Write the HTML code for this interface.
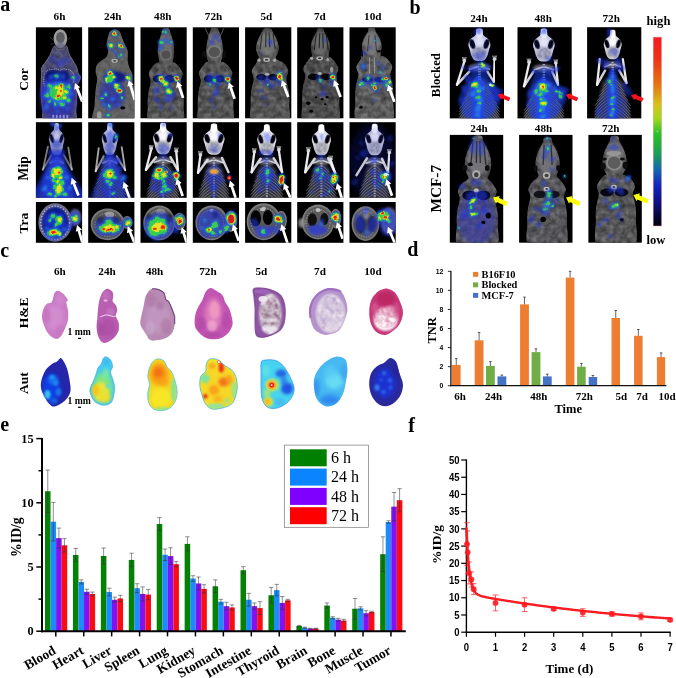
<!DOCTYPE html>
<html lang="en">
<head>
<meta charset="utf-8">
<title>Figure</title>
<style>
html,body{margin:0;padding:0;background:#fff;}
body{width:676px;height:678px;overflow:hidden;}
svg{display:block;}
text{fill:#000;}
</style>
</head>
<body>
<svg width="676" height="678" viewBox="0 0 676 678">
<rect x="0" y="0" width="676" height="678" fill="#ffffff"/>
<defs>
<filter id="b03" x="-30%" y="-30%" width="160%" height="160%"><feGaussianBlur stdDeviation="0.3"/></filter>
<filter id="b05" x="-30%" y="-30%" width="160%" height="160%"><feGaussianBlur stdDeviation="0.5"/></filter>
<filter id="b08" x="-30%" y="-30%" width="160%" height="160%"><feGaussianBlur stdDeviation="0.8"/></filter>
<filter id="b1" x="-30%" y="-30%" width="160%" height="160%"><feGaussianBlur stdDeviation="1.0"/></filter>
<filter id="b15" x="-30%" y="-30%" width="160%" height="160%"><feGaussianBlur stdDeviation="1.5"/></filter>
<filter id="b2" x="-30%" y="-30%" width="160%" height="160%"><feGaussianBlur stdDeviation="2.0"/></filter>
<filter id="b3" x="-30%" y="-30%" width="160%" height="160%"><feGaussianBlur stdDeviation="3.0"/></filter>
<filter id="b4" x="-30%" y="-30%" width="160%" height="160%"><feGaussianBlur stdDeviation="4.0"/></filter>
<filter id="w1" x="-30%" y="-30%" width="160%" height="160%"><feTurbulence type="fractalNoise" baseFrequency="0.11" numOctaves="2" seed="4" result="t"/><feDisplacementMap in="SourceGraphic" in2="t" scale="5" xChannelSelector="R" yChannelSelector="G" result="d"/><feGaussianBlur in="d" stdDeviation="1.0"/></filter>
<filter id="w08" x="-30%" y="-30%" width="160%" height="160%"><feTurbulence type="fractalNoise" baseFrequency="0.11" numOctaves="2" seed="4" result="t"/><feDisplacementMap in="SourceGraphic" in2="t" scale="5" xChannelSelector="R" yChannelSelector="G" result="d"/><feGaussianBlur in="d" stdDeviation="0.8"/></filter>
<filter id="w05" x="-30%" y="-30%" width="160%" height="160%"><feTurbulence type="fractalNoise" baseFrequency="0.11" numOctaves="2" seed="4" result="t"/><feDisplacementMap in="SourceGraphic" in2="t" scale="4.5" xChannelSelector="R" yChannelSelector="G" result="d"/><feGaussianBlur in="d" stdDeviation="0.55"/></filter>
<filter id="w03" x="-30%" y="-30%" width="160%" height="160%"><feTurbulence type="fractalNoise" baseFrequency="0.11" numOctaves="2" seed="4" result="t"/><feDisplacementMap in="SourceGraphic" in2="t" scale="3.5" xChannelSelector="R" yChannelSelector="G" result="d"/><feGaussianBlur in="d" stdDeviation="0.35"/></filter>
<filter id="tex" x="0" y="0" width="100%" height="100%"><feTurbulence type="fractalNoise" baseFrequency="0.22" numOctaves="2" seed="7" result="n"/><feColorMatrix in="n" type="matrix" values="0 0 0 0 0  0 0 0 0 0  0 0 0 0 0  1.6 0 0 0 -0.45" result="a"/><feComposite in="SourceGraphic" in2="a" operator="in"/><feGaussianBlur stdDeviation="0.35"/></filter>
<filter id="tex2" x="0" y="0" width="100%" height="100%"><feTurbulence type="fractalNoise" baseFrequency="0.16" numOctaves="2" seed="23" result="n"/><feColorMatrix in="n" type="matrix" values="0 0 0 0 0  0 0 0 0 0  0 0 0 0 0  0 1.8 0 0 -0.55" result="a"/><feComposite in="SourceGraphic" in2="a" operator="in"/><feGaussianBlur stdDeviation="0.45"/></filter>
<radialGradient id="gR" cx="0.5" cy="0.5" r="0.5"><stop offset="0" stop-color="#d81414" stop-opacity="1"/><stop offset="0.25" stop-color="#ee3010" stop-opacity="1"/><stop offset="0.4" stop-color="#f0b010" stop-opacity="1"/><stop offset="0.52" stop-color="#c8e020" stop-opacity="1"/><stop offset="0.65" stop-color="#30d040" stop-opacity="1"/><stop offset="0.78" stop-color="#20a0c8" stop-opacity="0.9"/><stop offset="0.9" stop-color="#2040e0" stop-opacity="0.6"/><stop offset="1" stop-color="#2030d0" stop-opacity="0"/></radialGradient>
<radialGradient id="gY" cx="0.5" cy="0.5" r="0.5"><stop offset="0" stop-color="#f4d414" stop-opacity="1"/><stop offset="0.28" stop-color="#b0e028" stop-opacity="1"/><stop offset="0.5" stop-color="#30d048" stop-opacity="1"/><stop offset="0.7" stop-color="#2090d0" stop-opacity="0.85"/><stop offset="0.87" stop-color="#2040e0" stop-opacity="0.55"/><stop offset="1" stop-color="#2030d0" stop-opacity="0"/></radialGradient>
<radialGradient id="gG" cx="0.5" cy="0.5" r="0.5"><stop offset="0" stop-color="#58ee40" stop-opacity="1"/><stop offset="0.35" stop-color="#28c080" stop-opacity="0.95"/><stop offset="0.65" stop-color="#2060e0" stop-opacity="0.75"/><stop offset="1" stop-color="#2030d0" stop-opacity="0"/></radialGradient>
<radialGradient id="gC" cx="0.5" cy="0.5" r="0.5"><stop offset="0" stop-color="#48b0f8" stop-opacity="1"/><stop offset="0.5" stop-color="#2858e8" stop-opacity="0.8"/><stop offset="1" stop-color="#2030d0" stop-opacity="0"/></radialGradient>
<radialGradient id="gB" cx="0.5" cy="0.5" r="0.5"><stop offset="0" stop-color="#2840f0" stop-opacity="0.95"/><stop offset="0.55" stop-color="#2030d8" stop-opacity="0.6"/><stop offset="1" stop-color="#2030d0" stop-opacity="0"/></radialGradient>
<radialGradient id="gD" cx="0.5" cy="0.5" r="0.5"><stop offset="0" stop-color="#08147a" stop-opacity="0.95"/><stop offset="0.7" stop-color="#0a1a80" stop-opacity="0.8"/><stop offset="1" stop-color="#0a1a80" stop-opacity="0"/></radialGradient>
<radialGradient id="gW" cx="0.5" cy="0.5" r="0.5"><stop offset="0" stop-color="#ffffff" stop-opacity="0.95"/><stop offset="0.6" stop-color="#d0d8ff" stop-opacity="0.6"/><stop offset="1" stop-color="#a0b0ff" stop-opacity="0"/></radialGradient>
<radialGradient id="gK" cx="0.5" cy="0.5" r="0.5"><stop offset="0" stop-color="#000000" stop-opacity="0.95"/><stop offset="0.7" stop-color="#000000" stop-opacity="0.8"/><stop offset="1" stop-color="#000000" stop-opacity="0"/></radialGradient>
<linearGradient id="cbar" x1="0" y1="0" x2="0" y2="1"><stop offset="0" stop-color="#f21c22"/><stop offset="0.12" stop-color="#ee3418"/><stop offset="0.26" stop-color="#e47a12"/><stop offset="0.36" stop-color="#d4c418"/><stop offset="0.43" stop-color="#a4d81c"/><stop offset="0.51" stop-color="#28c424"/><stop offset="0.62" stop-color="#18a058"/><stop offset="0.70" stop-color="#1468b0"/><stop offset="0.78" stop-color="#1228c0"/><stop offset="0.87" stop-color="#0c1088"/><stop offset="0.95" stop-color="#060638"/><stop offset="1" stop-color="#020210"/></linearGradient>
<clipPath id="cA"><rect x="0" y="0" width="46.2" height="91.0"/></clipPath>
<clipPath id="cM"><rect x="0" y="0" width="46.2" height="75.6"/></clipPath>
<clipPath id="cT"><rect x="0" y="0" width="46.2" height="40.8"/></clipPath>
<clipPath id="cB1"><rect x="0" y="0" width="54.2" height="91.2"/></clipPath>
<clipPath id="cB2"><rect x="0" y="0" width="53.4" height="107.8"/></clipPath>
</defs>
<text x="0.2" y="10.7" font-size="20" text-anchor="start" font-family="Liberation Serif, serif" font-weight="bold" >a</text>
<text x="409.6" y="13.5" font-size="20" text-anchor="start" font-family="Liberation Serif, serif" font-weight="bold" >b</text>
<text x="0.2" y="256.7" font-size="20" text-anchor="start" font-family="Liberation Serif, serif" font-weight="bold" >c</text>
<text x="407.2" y="255.5" font-size="20" text-anchor="start" font-family="Liberation Serif, serif" font-weight="bold" >d</text>
<text x="0.2" y="431.2" font-size="20" text-anchor="start" font-family="Liberation Serif, serif" font-weight="bold" >e</text>
<text x="408.2" y="431.6" font-size="20" text-anchor="start" font-family="Liberation Serif, serif" font-weight="bold" >f</text>
<text x="59.5" y="19.8" font-size="11.2" text-anchor="middle" font-family="Liberation Serif, serif" font-weight="bold" >6h</text>
<text x="112.8" y="19.8" font-size="11.2" text-anchor="middle" font-family="Liberation Serif, serif" font-weight="bold" >24h</text>
<text x="162.8" y="19.8" font-size="11.2" text-anchor="middle" font-family="Liberation Serif, serif" font-weight="bold" >48h</text>
<text x="213.5" y="19.8" font-size="11.2" text-anchor="middle" font-family="Liberation Serif, serif" font-weight="bold" >72h</text>
<text x="266.3" y="19.8" font-size="11.2" text-anchor="middle" font-family="Liberation Serif, serif" font-weight="bold" >5d</text>
<text x="319.8" y="19.8" font-size="11.2" text-anchor="middle" font-family="Liberation Serif, serif" font-weight="bold" >7d</text>
<text x="372.8" y="19.8" font-size="11.2" text-anchor="middle" font-family="Liberation Serif, serif" font-weight="bold" >10d</text>
<text x="28.4" y="79.5" font-size="13.5" text-anchor="middle" font-family="Liberation Serif, serif" font-weight="bold" transform="rotate(-90 28.4 79.5)" >Cor</text>
<text x="28.4" y="168.3" font-size="13.6" text-anchor="middle" font-family="Liberation Serif, serif" font-weight="bold" transform="rotate(-90 28.4 168.3)" >Mip</text>
<text x="28.4" y="223.2" font-size="13.5" text-anchor="middle" font-family="Liberation Serif, serif" font-weight="bold" transform="rotate(-90 28.4 223.2)" >Tra</text>
<rect x="35.9" y="27.3" width="46.2" height="91" fill="#000" />
<g transform="translate(35.9 27.3)" clip-path="url(#cA)">
<path d="M18.20 19.00 C19.45 18.00 20.03 21.50 21.50 22.00 C22.97 22.50 25.45 22.50 27.00 22.00 C28.55 21.50 29.80 18.33 30.80 19.00 C31.80 19.67 32.05 23.75 33.00 26.00 C33.95 28.25 35.23 30.25 36.50 32.50 C37.77 34.75 39.63 37.25 40.60 39.50 C41.57 41.75 41.63 44.25 42.30 46.00 C42.97 47.75 44.57 48.42 44.60 50.00 C44.63 51.58 43.23 53.83 42.50 55.50 C41.77 57.17 40.48 57.58 40.20 60.00 C39.92 62.42 40.83 66.33 40.80 70.00 C40.77 73.67 40.55 77.67 40.00 82.00 C39.45 86.33 42.50 93.67 37.50 96.00 C32.50 98.33 15.12 98.33 10.00 96.00 C4.88 93.67 7.57 86.33 6.80 82.00 C6.03 77.67 5.67 74.00 5.40 70.00 C5.13 66.00 5.17 61.83 5.20 58.00 C5.23 54.17 5.50 49.92 5.60 47.00 C5.70 44.08 5.15 42.50 5.80 40.50 C6.45 38.50 8.13 37.08 9.50 35.00 C10.87 32.92 12.55 30.67 14.00 28.00 C15.45 25.33 16.95 20.00 18.20 19.00Z" fill="#4a4a70" filter="url(#b05)"/>
<path d="M18.20 19.00 C19.45 18.00 20.03 21.50 21.50 22.00 C22.97 22.50 25.45 22.50 27.00 22.00 C28.55 21.50 29.80 18.33 30.80 19.00 C31.80 19.67 32.05 23.75 33.00 26.00 C33.95 28.25 35.23 30.25 36.50 32.50 C37.77 34.75 39.63 37.25 40.60 39.50 C41.57 41.75 41.63 44.25 42.30 46.00 C42.97 47.75 44.57 48.42 44.60 50.00 C44.63 51.58 43.23 53.83 42.50 55.50 C41.77 57.17 40.48 57.58 40.20 60.00 C39.92 62.42 40.83 66.33 40.80 70.00 C40.77 73.67 40.55 77.67 40.00 82.00 C39.45 86.33 42.50 93.67 37.50 96.00 C32.50 98.33 15.12 98.33 10.00 96.00 C4.88 93.67 7.57 86.33 6.80 82.00 C6.03 77.67 5.67 74.00 5.40 70.00 C5.13 66.00 5.17 61.83 5.20 58.00 C5.23 54.17 5.50 49.92 5.60 47.00 C5.70 44.08 5.15 42.50 5.80 40.50 C6.45 38.50 8.13 37.08 9.50 35.00 C10.87 32.92 12.55 30.67 14.00 28.00 C15.45 25.33 16.95 20.00 18.20 19.00Z" fill="#9090b4" filter="url(#tex)" opacity="0.5"/>
<path d="M18.20 19.00 C19.45 18.00 20.03 21.50 21.50 22.00 C22.97 22.50 25.45 22.50 27.00 22.00 C28.55 21.50 29.80 18.33 30.80 19.00 C31.80 19.67 32.05 23.75 33.00 26.00 C33.95 28.25 35.23 30.25 36.50 32.50 C37.77 34.75 39.63 37.25 40.60 39.50 C41.57 41.75 41.63 44.25 42.30 46.00 C42.97 47.75 44.57 48.42 44.60 50.00 C44.63 51.58 43.23 53.83 42.50 55.50 C41.77 57.17 40.48 57.58 40.20 60.00 C39.92 62.42 40.83 66.33 40.80 70.00 C40.77 73.67 40.55 77.67 40.00 82.00 C39.45 86.33 42.50 93.67 37.50 96.00 C32.50 98.33 15.12 98.33 10.00 96.00 C4.88 93.67 7.57 86.33 6.80 82.00 C6.03 77.67 5.67 74.00 5.40 70.00 C5.13 66.00 5.17 61.83 5.20 58.00 C5.23 54.17 5.50 49.92 5.60 47.00 C5.70 44.08 5.15 42.50 5.80 40.50 C6.45 38.50 8.13 37.08 9.50 35.00 C10.87 32.92 12.55 30.67 14.00 28.00 C15.45 25.33 16.95 20.00 18.20 19.00Z" fill="#1c1c40" filter="url(#tex2)" opacity="0.45"/>
<path d="M18.20 19.00 C19.45 18.00 20.03 21.50 21.50 22.00 C22.97 22.50 25.45 22.50 27.00 22.00 C28.55 21.50 29.80 18.33 30.80 19.00 C31.80 19.67 32.05 23.75 33.00 26.00 C33.95 28.25 35.23 30.25 36.50 32.50 C37.77 34.75 39.63 37.25 40.60 39.50 C41.57 41.75 41.63 44.25 42.30 46.00 C42.97 47.75 44.57 48.42 44.60 50.00 C44.63 51.58 43.23 53.83 42.50 55.50 C41.77 57.17 40.48 57.58 40.20 60.00 C39.92 62.42 40.83 66.33 40.80 70.00 C40.77 73.67 40.55 77.67 40.00 82.00 C39.45 86.33 42.50 93.67 37.50 96.00 C32.50 98.33 15.12 98.33 10.00 96.00 C4.88 93.67 7.57 86.33 6.80 82.00 C6.03 77.67 5.67 74.00 5.40 70.00 C5.13 66.00 5.17 61.83 5.20 58.00 C5.23 54.17 5.50 49.92 5.60 47.00 C5.70 44.08 5.15 42.50 5.80 40.50 C6.45 38.50 8.13 37.08 9.50 35.00 C10.87 32.92 12.55 30.67 14.00 28.00 C15.45 25.33 16.95 20.00 18.20 19.00Z" fill="none" stroke="#7c7c8c" stroke-width="1.0" filter="url(#b05)" opacity="0.8"/>
<ellipse cx="24.5" cy="11.2" rx="6.8" ry="9.2" fill="#9c9c9e" filter="url(#b05)"/>
<ellipse cx="24.5" cy="10.4" rx="4.3" ry="5.8" fill="#5c5c64" filter="url(#b05)"/>
<ellipse cx="24.5" cy="18.6" rx="5" ry="3.2" fill="#70708c" filter="url(#b08)"/>
<path d="M14 10 Q17 12 18.5 14 M14.5 17 Q17 16 18.5 16.5 M35 10 Q32 12 30.5 14" fill="none" stroke="#6a6a72" stroke-width="0.5" opacity="0.8"/>
<ellipse cx="22.5" cy="70" rx="18" ry="26" fill="#3030a8" filter="url(#b2)" opacity="0.78"/>
<path d="M8.5 47 Q11 41.5 17 42.3 Q21 40.5 24 43.5 Q27 40.5 31 42.3 Q36 42.5 38 47.5 M8.5 47 Q7 54 9 60 M38 47.5 Q39 52 37 56" fill="none" stroke="#dcdcf0" stroke-width="0.9" stroke-dasharray="1.2 1" opacity="0.85"/>
<path d="M9.50 46.00 C10.58 44.50 14.08 43.42 16.00 43.00 C17.92 42.58 19.67 43.17 21.00 43.50 C22.33 43.83 23.00 45.00 24.00 45.00 C25.00 45.00 25.67 43.58 27.00 43.50 C28.33 43.42 31.00 43.42 32.00 44.50 C33.00 45.58 33.33 48.33 33.00 50.00 C32.67 51.67 31.83 53.92 30.00 54.50 C28.17 55.08 24.67 53.42 22.00 53.50 C19.33 53.58 16.08 55.25 14.00 55.00 C11.92 54.75 10.25 53.50 9.50 52.00 C8.75 50.50 8.42 47.50 9.50 46.00Z" fill="#08126e" filter="url(#b08)"/>
<rect x="16.5" y="87.5" width="1.8" height="4" fill="#a0a0e8" opacity="0.85"/>
<rect x="20" y="87.5" width="1.8" height="4" fill="#a0a0e8" opacity="0.85"/>
<rect x="23.5" y="87.5" width="1.8" height="4" fill="#a0a0e8" opacity="0.85"/>
<rect x="27" y="87.5" width="1.8" height="4" fill="#a0a0e8" opacity="0.85"/>
<rect x="30.5" y="87.5" width="1.8" height="4" fill="#a0a0e8" opacity="0.85"/>
<g fill="#2238e0" opacity="0.56" filter="url(#w1)"><ellipse cx="25.2" cy="35.6" rx="5.04" ry="3.92" opacity="0.8"/><ellipse cx="17" cy="32" rx="3.36" ry="3.36" opacity="0.6"/><ellipse cx="31" cy="33" rx="3.36" ry="3.36" opacity="0.6"/><ellipse cx="20.5" cy="49.5" rx="4.59" ry="3.24" opacity="0.75"/><ellipse cx="15" cy="50.5" rx="3.58" ry="3.58" opacity="0.6"/><ellipse cx="27" cy="49" rx="3.84" ry="3.84" opacity="0.6"/><ellipse cx="21.5" cy="65" rx="16.2" ry="15.53" opacity="0.9"/><ellipse cx="24.6" cy="63.5" rx="6.9" ry="11.32"/><ellipse cx="25.2" cy="59.3" rx="3.59" ry="3.59"/><ellipse cx="23.2" cy="67.8" rx="3.86" ry="3.86"/><ellipse cx="25" cy="63.6" rx="2.9" ry="2.9" opacity="0.85"/><ellipse cx="19.5" cy="60.5" rx="3.86" ry="3.86"/><ellipse cx="29.5" cy="64.5" rx="3.86" ry="3.86"/><ellipse cx="20.5" cy="70.5" rx="3.59" ry="3.59" opacity="0.9"/><ellipse cx="28" cy="70.5" rx="3.31" ry="3.31" opacity="0.9"/><ellipse cx="11.5" cy="68" rx="4.32" ry="4.32"/><ellipse cx="13.5" cy="59.5" rx="4.05" ry="4.05"/><ellipse cx="32.5" cy="59" rx="4.05" ry="4.05"/><ellipse cx="31.5" cy="73" rx="4.05" ry="4.05"/><ellipse cx="19.5" cy="77.5" rx="4.05" ry="4.05"/><ellipse cx="26" cy="77" rx="3.78" ry="3.78"/><ellipse cx="12.5" cy="75" rx="3.51" ry="3.51" opacity="0.8"/><ellipse cx="10" cy="80" rx="3.84" ry="3.84" opacity="0.7"/><ellipse cx="35" cy="67" rx="3.84" ry="3.84" opacity="0.7"/><ellipse cx="22" cy="84" rx="3.84" ry="3.84" opacity="0.6"/><ellipse cx="31" cy="82" rx="3.33" ry="3.33" opacity="0.6"/><ellipse cx="40.6" cy="50.5" rx="4.48" ry="5.15"/><ellipse cx="38.2" cy="50.3" rx="3.24" ry="3.24"/></g>
<g fill="#2890e4" opacity="0.72" filter="url(#w08)"><ellipse cx="20.5" cy="49.5" rx="3.26" ry="2.3" opacity="0.75"/><ellipse cx="15" cy="50.5" rx="1.96" ry="1.96" opacity="0.6"/><ellipse cx="27" cy="49" rx="2.1" ry="2.1" opacity="0.6"/><ellipse cx="21.5" cy="65" rx="11.52" ry="11.04" opacity="0.9"/><ellipse cx="24.6" cy="63.5" rx="5.3" ry="8.69"/><ellipse cx="25.2" cy="59.3" rx="2.81" ry="2.81"/><ellipse cx="23.2" cy="67.8" rx="3.02" ry="3.02"/><ellipse cx="25" cy="63.6" rx="2.27" ry="2.27" opacity="0.85"/><ellipse cx="19.5" cy="60.5" rx="2.97" ry="2.97"/><ellipse cx="29.5" cy="64.5" rx="2.97" ry="2.97"/><ellipse cx="20.5" cy="70.5" rx="2.76" ry="2.76" opacity="0.9"/><ellipse cx="28" cy="70.5" rx="2.54" ry="2.54" opacity="0.9"/><ellipse cx="11.5" cy="68" rx="3.07" ry="3.07"/><ellipse cx="13.5" cy="59.5" rx="2.88" ry="2.88"/><ellipse cx="32.5" cy="59" rx="2.88" ry="2.88"/><ellipse cx="31.5" cy="73" rx="2.88" ry="2.88"/><ellipse cx="19.5" cy="77.5" rx="2.88" ry="2.88"/><ellipse cx="26" cy="77" rx="2.69" ry="2.69"/><ellipse cx="12.5" cy="75" rx="2.5" ry="2.5" opacity="0.8"/><ellipse cx="10" cy="80" rx="2.1" ry="2.1" opacity="0.7"/><ellipse cx="35" cy="67" rx="2.1" ry="2.1" opacity="0.7"/><ellipse cx="22" cy="84" rx="2.1" ry="2.1" opacity="0.6"/><ellipse cx="31" cy="82" rx="1.82" ry="1.82" opacity="0.6"/><ellipse cx="38.2" cy="50.3" rx="2.3" ry="2.3"/></g>
<g fill="#38d840" opacity="0.9" filter="url(#w05)"><ellipse cx="20.5" cy="49.5" rx="2.24" ry="1.58" opacity="0.75"/><ellipse cx="21.5" cy="65" rx="7.92" ry="7.59" opacity="0.9"/><ellipse cx="24.6" cy="63.5" rx="4.65" ry="7.63"/><ellipse cx="25.2" cy="59.3" rx="2.52" ry="2.52"/><ellipse cx="23.2" cy="67.8" rx="2.72" ry="2.72"/><ellipse cx="25" cy="63.6" rx="2.04" ry="2.04" opacity="0.85"/><ellipse cx="19.5" cy="60.5" rx="2.6" ry="2.6"/><ellipse cx="29.5" cy="64.5" rx="2.6" ry="2.6"/><ellipse cx="20.5" cy="70.5" rx="2.42" ry="2.42" opacity="0.9"/><ellipse cx="28" cy="70.5" rx="2.23" ry="2.23" opacity="0.9"/><ellipse cx="11.5" cy="68" rx="2.11" ry="2.11"/><ellipse cx="13.5" cy="59.5" rx="1.98" ry="1.98"/><ellipse cx="32.5" cy="59" rx="1.98" ry="1.98"/><ellipse cx="31.5" cy="73" rx="1.98" ry="1.98"/><ellipse cx="19.5" cy="77.5" rx="1.98" ry="1.98"/><ellipse cx="26" cy="77" rx="1.85" ry="1.85"/><ellipse cx="12.5" cy="75" rx="1.72" ry="1.72" opacity="0.8"/><ellipse cx="38.2" cy="50.3" rx="1.58" ry="1.58"/></g>
<g fill="#f0e220" opacity="0.95" filter="url(#w05)"><ellipse cx="24.6" cy="63.5" rx="2.8" ry="4.59"/><ellipse cx="25.2" cy="59.3" rx="1.92" ry="1.92"/><ellipse cx="23.2" cy="67.8" rx="2.07" ry="2.07"/><ellipse cx="25" cy="63.6" rx="1.55" ry="1.55" opacity="0.85"/><ellipse cx="19.5" cy="60.5" rx="1.57" ry="1.57"/><ellipse cx="29.5" cy="64.5" rx="1.57" ry="1.57"/><ellipse cx="20.5" cy="70.5" rx="1.46" ry="1.46" opacity="0.9"/><ellipse cx="28" cy="70.5" rx="1.34" ry="1.34" opacity="0.9"/></g>
<g fill="#f08a14" opacity="0.95" filter="url(#w03)"><ellipse cx="25.2" cy="59.3" rx="1.48" ry="1.48"/><ellipse cx="23.2" cy="67.8" rx="1.6" ry="1.6"/><ellipse cx="25" cy="63.6" rx="1.2" ry="1.2" opacity="0.85"/></g>
<g fill="#de1818" opacity="0.95" filter="url(#w03)"><ellipse cx="25.2" cy="59.3" rx="1.09" ry="1.09"/><ellipse cx="23.2" cy="67.8" rx="1.18" ry="1.18"/><ellipse cx="25" cy="63.6" rx="0.88" ry="0.88" opacity="0.85"/></g>
<polygon points="47.56,73.71 42.53,60.77 44.34,60.07 39.09,55.67 38.19,62.46 40.01,61.75 45.04,74.69" fill="#fff"/>
</g>
<rect x="88.2" y="27.3" width="46.2" height="91" fill="#000" />
<g transform="translate(88.2 27.3)" clip-path="url(#cA)">
<path d="M26.50 2.00 C28.08 2.08 30.25 3.00 31.50 4.50 C32.75 6.00 33.17 8.92 34.00 11.00 C34.83 13.08 35.58 14.83 36.50 17.00 C37.42 19.17 39.00 21.33 39.50 24.00 C40.00 26.67 39.25 30.33 39.50 33.00 C39.75 35.67 40.25 37.67 41.00 40.00 C41.75 42.33 43.42 44.33 44.00 47.00 C44.58 49.67 44.08 52.83 44.50 56.00 C44.92 59.17 46.08 59.33 46.50 66.00 C46.92 72.67 53.58 91.00 47.00 96.00 C40.42 101.00 13.75 99.00 7.00 96.00 C0.25 93.00 6.42 83.67 6.50 78.00 C6.58 72.33 7.08 66.33 7.50 62.00 C7.92 57.67 9.00 54.83 9.00 52.00 C9.00 49.17 7.58 47.33 7.50 45.00 C7.42 42.67 7.58 39.92 8.50 38.00 C9.42 36.08 11.42 34.83 13.00 33.50 C14.58 32.17 16.83 31.58 18.00 30.00 C19.17 28.42 19.92 26.17 20.00 24.00 C20.08 21.83 18.50 19.50 18.50 17.00 C18.50 14.50 19.42 11.17 20.00 9.00 C20.58 6.83 20.92 5.17 22.00 4.00 C23.08 2.83 24.92 1.92 26.50 2.00Z" fill="#585858" filter="url(#b05)"/>
<path d="M26.50 2.00 C28.08 2.08 30.25 3.00 31.50 4.50 C32.75 6.00 33.17 8.92 34.00 11.00 C34.83 13.08 35.58 14.83 36.50 17.00 C37.42 19.17 39.00 21.33 39.50 24.00 C40.00 26.67 39.25 30.33 39.50 33.00 C39.75 35.67 40.25 37.67 41.00 40.00 C41.75 42.33 43.42 44.33 44.00 47.00 C44.58 49.67 44.08 52.83 44.50 56.00 C44.92 59.17 46.08 59.33 46.50 66.00 C46.92 72.67 53.58 91.00 47.00 96.00 C40.42 101.00 13.75 99.00 7.00 96.00 C0.25 93.00 6.42 83.67 6.50 78.00 C6.58 72.33 7.08 66.33 7.50 62.00 C7.92 57.67 9.00 54.83 9.00 52.00 C9.00 49.17 7.58 47.33 7.50 45.00 C7.42 42.67 7.58 39.92 8.50 38.00 C9.42 36.08 11.42 34.83 13.00 33.50 C14.58 32.17 16.83 31.58 18.00 30.00 C19.17 28.42 19.92 26.17 20.00 24.00 C20.08 21.83 18.50 19.50 18.50 17.00 C18.50 14.50 19.42 11.17 20.00 9.00 C20.58 6.83 20.92 5.17 22.00 4.00 C23.08 2.83 24.92 1.92 26.50 2.00Z" fill="#909090" filter="url(#tex)" opacity="0.5"/>
<ellipse cx="26.5" cy="33.5" rx="3.2" ry="2" fill="#b0b0b0" filter="url(#b03)"/>
<ellipse cx="26.5" cy="33.5" rx="1.6" ry="0.9" fill="#444" />
<ellipse cx="27" cy="50" rx="11" ry="6" fill="#0c1880" filter="url(#b1)" opacity="0.9"/>
<ellipse cx="24" cy="66" rx="13" ry="15" fill="#2028b0" filter="url(#b2)" opacity="0.6"/>
<ellipse cx="34.5" cy="80.5" rx="2.5" ry="1.6" fill="#050505" filter="url(#b03)"/>
<ellipse cx="11" cy="88" rx="2.2" ry="4" fill="#9a9a9a" filter="url(#b05)"/>
<g fill="#2238e0" opacity="0.56" filter="url(#w1)"><ellipse cx="26.5" cy="6.2" rx="4.42" ry="3.59"/><ellipse cx="24.8" cy="5.5" rx="2.07" ry="2.07"/><ellipse cx="28.6" cy="6.8" rx="1.93" ry="1.93"/><ellipse cx="21.8" cy="18.4" rx="3.45" ry="3.45"/><ellipse cx="33" cy="18.6" rx="3.17" ry="3.17"/><ellipse cx="33" cy="27.3" rx="2.16" ry="2.16"/><ellipse cx="27" cy="24" rx="2.56" ry="2.56"/><ellipse cx="30" cy="29" rx="2.43" ry="2.43" opacity="0.8"/><ellipse cx="22.5" cy="51" rx="6.75" ry="6.08"/><ellipse cx="21.6" cy="46.9" rx="4" ry="4"/><ellipse cx="18.6" cy="52.8" rx="3.17" ry="3.17"/><ellipse cx="25.5" cy="50" rx="3.04" ry="3.04"/><ellipse cx="28.2" cy="59" rx="3.86" ry="3.86"/><ellipse cx="30.6" cy="63.3" rx="4" ry="4"/><ellipse cx="18.4" cy="66.4" rx="3.24" ry="3.24"/><ellipse cx="13.5" cy="71.3" rx="2.7" ry="2.7"/><ellipse cx="21.6" cy="79.4" rx="3.51" ry="3.51"/><ellipse cx="33" cy="70.5" rx="2.97" ry="2.97"/><ellipse cx="25" cy="71" rx="3.07" ry="3.07"/><ellipse cx="15" cy="78" rx="2.56" ry="2.56"/><ellipse cx="20" cy="88" rx="2.97" ry="2.97"/><ellipse cx="30" cy="78" rx="2.56" ry="2.56"/><ellipse cx="40.4" cy="50.2" rx="3.17" ry="4"/></g>
<g fill="#2890e4" opacity="0.72" filter="url(#w08)"><ellipse cx="26.5" cy="6.2" rx="3.46" ry="2.81"/><ellipse cx="24.8" cy="5.5" rx="1.59" ry="1.59"/><ellipse cx="28.6" cy="6.8" rx="1.48" ry="1.48"/><ellipse cx="21.8" cy="18.4" rx="2.65" ry="2.65"/><ellipse cx="33" cy="18.6" rx="2.48" ry="2.48"/><ellipse cx="33" cy="27.3" rx="1.54" ry="1.54"/><ellipse cx="27" cy="24" rx="1.4" ry="1.4"/><ellipse cx="30" cy="29" rx="1.73" ry="1.73" opacity="0.8"/><ellipse cx="22.5" cy="51" rx="4.8" ry="4.32"/><ellipse cx="21.6" cy="46.9" rx="3.13" ry="3.13"/><ellipse cx="18.6" cy="52.8" rx="2.44" ry="2.44"/><ellipse cx="25.5" cy="50" rx="2.33" ry="2.33"/><ellipse cx="28.2" cy="59" rx="2.97" ry="2.97"/><ellipse cx="30.6" cy="63.3" rx="3.13" ry="3.13"/><ellipse cx="18.4" cy="66.4" rx="2.3" ry="2.3"/><ellipse cx="13.5" cy="71.3" rx="1.92" ry="1.92"/><ellipse cx="21.6" cy="79.4" rx="2.5" ry="2.5"/><ellipse cx="33" cy="70.5" rx="2.11" ry="2.11"/><ellipse cx="25" cy="71" rx="1.68" ry="1.68"/><ellipse cx="15" cy="78" rx="1.4" ry="1.4"/><ellipse cx="20" cy="88" rx="2.11" ry="2.11"/><ellipse cx="30" cy="78" rx="1.4" ry="1.4"/><ellipse cx="40.4" cy="50.2" rx="2.44" ry="3.07"/></g>
<g fill="#38d840" opacity="0.9" filter="url(#w05)"><ellipse cx="26.5" cy="6.2" rx="3.1" ry="2.52"/><ellipse cx="24.8" cy="5.5" rx="1.4" ry="1.4"/><ellipse cx="28.6" cy="6.8" rx="1.3" ry="1.3"/><ellipse cx="21.8" cy="18.4" rx="2.33" ry="2.33"/><ellipse cx="33" cy="18.6" rx="2.23" ry="2.23"/><ellipse cx="33" cy="27.3" rx="1.06" ry="1.06"/><ellipse cx="30" cy="29" rx="1.19" ry="1.19" opacity="0.8"/><ellipse cx="22.5" cy="51" rx="3.3" ry="2.97"/><ellipse cx="21.6" cy="46.9" rx="2.81" ry="2.81"/><ellipse cx="18.6" cy="52.8" rx="2.14" ry="2.14"/><ellipse cx="25.5" cy="50" rx="2.05" ry="2.05"/><ellipse cx="28.2" cy="59" rx="2.6" ry="2.6"/><ellipse cx="30.6" cy="63.3" rx="2.81" ry="2.81"/><ellipse cx="18.4" cy="66.4" rx="1.58" ry="1.58"/><ellipse cx="13.5" cy="71.3" rx="1.32" ry="1.32"/><ellipse cx="21.6" cy="79.4" rx="1.72" ry="1.72"/><ellipse cx="33" cy="70.5" rx="1.45" ry="1.45"/><ellipse cx="20" cy="88" rx="1.45" ry="1.45"/><ellipse cx="40.4" cy="50.2" rx="2.14" ry="2.7"/></g>
<g fill="#f0e220" opacity="0.95" filter="url(#w05)"><ellipse cx="26.5" cy="6.2" rx="2.37" ry="1.92"/><ellipse cx="24.8" cy="5.5" rx="0.84" ry="0.84"/><ellipse cx="28.6" cy="6.8" rx="0.78" ry="0.78"/><ellipse cx="21.8" cy="18.4" rx="1.4" ry="1.4"/><ellipse cx="33" cy="18.6" rx="1.7" ry="1.7"/><ellipse cx="21.6" cy="46.9" rx="2.15" ry="2.15"/><ellipse cx="18.6" cy="52.8" rx="1.29" ry="1.29"/><ellipse cx="25.5" cy="50" rx="1.23" ry="1.23"/><ellipse cx="28.2" cy="59" rx="1.57" ry="1.57"/><ellipse cx="30.6" cy="63.3" rx="2.15" ry="2.15"/><ellipse cx="40.4" cy="50.2" rx="1.29" ry="1.62"/></g>
<g fill="#f08a14" opacity="0.95" filter="url(#w03)"><ellipse cx="26.5" cy="6.2" rx="1.82" ry="1.48"/><ellipse cx="33" cy="18.6" rx="1.31" ry="1.31"/><ellipse cx="21.6" cy="46.9" rx="1.65" ry="1.65"/><ellipse cx="30.6" cy="63.3" rx="1.65" ry="1.65"/></g>
<g fill="#de1818" opacity="0.95" filter="url(#w03)"><ellipse cx="26.5" cy="6.2" rx="1.34" ry="1.09"/><ellipse cx="33" cy="18.6" rx="0.97" ry="0.97"/><ellipse cx="21.6" cy="46.9" rx="1.22" ry="1.22"/><ellipse cx="30.6" cy="63.3" rx="1.22" ry="1.22"/></g>
<polygon points="47.89,72.11 43.61,57.96 45.47,57.39 40.58,52.61 39.16,59.31 41.02,58.74 45.31,72.89" fill="#fff"/>
</g>
<rect x="140.5" y="27.3" width="46.2" height="91" fill="#000" />
<g transform="translate(140.5 27.3)" clip-path="url(#cA)">
<path d="M23.20 1.00 C24.34 0.24 26.66 0.24 27.80 1.00 C28.93 1.76 29.22 3.11 30.01 5.55 C30.80 7.99 31.94 12.59 32.55 15.62 C33.17 18.66 33.65 21.31 33.70 23.75 C33.75 26.19 33.16 28.38 32.88 30.25 C32.60 32.12 31.90 34.21 32.00 35.00 C32.10 35.79 32.57 34.42 33.50 35.00 C34.43 35.58 36.17 36.67 37.60 38.50 C39.03 40.33 41.68 43.42 42.10 46.00 C42.52 48.58 40.02 50.67 40.10 54.00 C40.18 57.33 42.10 61.67 42.60 66.00 C43.10 70.33 43.43 75.00 43.10 80.00 C42.77 85.00 46.15 93.33 40.60 96.00 C35.05 98.67 15.35 98.67 9.80 96.00 C4.25 93.33 7.63 85.00 7.30 80.00 C6.97 75.00 7.30 70.33 7.80 66.00 C8.30 61.67 10.22 57.33 10.30 54.00 C10.38 50.67 7.88 48.58 8.30 46.00 C8.72 43.42 11.27 40.33 12.80 38.50 C14.33 36.67 16.47 35.58 17.50 35.00 C18.53 34.42 18.90 35.79 19.00 35.00 C19.10 34.21 18.40 32.12 18.12 30.25 C17.84 28.38 17.25 26.19 17.30 23.75 C17.35 21.31 17.83 18.66 18.45 15.62 C19.06 12.59 20.20 7.99 20.99 5.55 C21.78 3.11 22.07 1.76 23.20 1.00Z" fill="#565656" filter="url(#b05)"/>
<path d="M23.20 1.00 C24.34 0.24 26.66 0.24 27.80 1.00 C28.93 1.76 29.22 3.11 30.01 5.55 C30.80 7.99 31.94 12.59 32.55 15.62 C33.17 18.66 33.65 21.31 33.70 23.75 C33.75 26.19 33.16 28.38 32.88 30.25 C32.60 32.12 31.90 34.21 32.00 35.00 C32.10 35.79 32.57 34.42 33.50 35.00 C34.43 35.58 36.17 36.67 37.60 38.50 C39.03 40.33 41.68 43.42 42.10 46.00 C42.52 48.58 40.02 50.67 40.10 54.00 C40.18 57.33 42.10 61.67 42.60 66.00 C43.10 70.33 43.43 75.00 43.10 80.00 C42.77 85.00 46.15 93.33 40.60 96.00 C35.05 98.67 15.35 98.67 9.80 96.00 C4.25 93.33 7.63 85.00 7.30 80.00 C6.97 75.00 7.30 70.33 7.80 66.00 C8.30 61.67 10.22 57.33 10.30 54.00 C10.38 50.67 7.88 48.58 8.30 46.00 C8.72 43.42 11.27 40.33 12.80 38.50 C14.33 36.67 16.47 35.58 17.50 35.00 C18.53 34.42 18.90 35.79 19.00 35.00 C19.10 34.21 18.40 32.12 18.12 30.25 C17.84 28.38 17.25 26.19 17.30 23.75 C17.35 21.31 17.83 18.66 18.45 15.62 C19.06 12.59 20.20 7.99 20.99 5.55 C21.78 3.11 22.07 1.76 23.20 1.00Z" fill="#9a9a9a" filter="url(#tex)" opacity="0.6"/>
<path d="M23.20 1.00 C24.34 0.24 26.66 0.24 27.80 1.00 C28.93 1.76 29.22 3.11 30.01 5.55 C30.80 7.99 31.94 12.59 32.55 15.62 C33.17 18.66 33.65 21.31 33.70 23.75 C33.75 26.19 33.16 28.38 32.88 30.25 C32.60 32.12 31.90 34.21 32.00 35.00 C32.10 35.79 32.57 34.42 33.50 35.00 C34.43 35.58 36.17 36.67 37.60 38.50 C39.03 40.33 41.68 43.42 42.10 46.00 C42.52 48.58 40.02 50.67 40.10 54.00 C40.18 57.33 42.10 61.67 42.60 66.00 C43.10 70.33 43.43 75.00 43.10 80.00 C42.77 85.00 46.15 93.33 40.60 96.00 C35.05 98.67 15.35 98.67 9.80 96.00 C4.25 93.33 7.63 85.00 7.30 80.00 C6.97 75.00 7.30 70.33 7.80 66.00 C8.30 61.67 10.22 57.33 10.30 54.00 C10.38 50.67 7.88 48.58 8.30 46.00 C8.72 43.42 11.27 40.33 12.80 38.50 C14.33 36.67 16.47 35.58 17.50 35.00 C18.53 34.42 18.90 35.79 19.00 35.00 C19.10 34.21 18.40 32.12 18.12 30.25 C17.84 28.38 17.25 26.19 17.30 23.75 C17.35 21.31 17.83 18.66 18.45 15.62 C19.06 12.59 20.20 7.99 20.99 5.55 C21.78 3.11 22.07 1.76 23.20 1.00Z" fill="#1c1c1c" filter="url(#tex2)" opacity="0.6"/>
<ellipse cx="25.5" cy="18.88" rx="6.56" ry="13.65" fill="#727272" filter="url(#b1)" opacity="0.8"/>
<ellipse cx="25.5" cy="27.5" rx="6.2" ry="5.8" fill="#6e6e6e" filter="url(#b05)"/>
<ellipse cx="25.5" cy="27.5" rx="4.6" ry="4.2" fill="#505050" filter="url(#b05)"/>
<ellipse cx="17.83" cy="51.5" rx="5.25" ry="3.75" fill="#04082c" filter="url(#b05)" opacity="0.92"/>
<ellipse cx="29.17" cy="51.5" rx="5.25" ry="3.75" fill="#04082c" filter="url(#b05)" opacity="0.92"/>
<g fill="#2238e0" opacity="0.56" filter="url(#w1)"><ellipse cx="20" cy="52" rx="5.04" ry="5.04"/><ellipse cx="28" cy="52" rx="4.48" ry="4.48"/><ellipse cx="24.7" cy="4.6" rx="3.1" ry="3.1"/><ellipse cx="21.5" cy="4.5" rx="2.16" ry="2.16"/><ellipse cx="20.7" cy="15.1" rx="3.24" ry="3.24"/><ellipse cx="31.7" cy="15.3" rx="2.7" ry="2.7"/><ellipse cx="26" cy="13" rx="2.82" ry="2.82"/><ellipse cx="19.5" cy="20.5" rx="2.3" ry="2.3"/><ellipse cx="20.7" cy="51.7" rx="4.14" ry="3.31" opacity="0.95"/><ellipse cx="25.3" cy="57" rx="4" ry="4.83"/><ellipse cx="28" cy="64" rx="4" ry="4.69" transform="rotate(-30 28 64)"/><ellipse cx="23" cy="54" rx="2.76" ry="2.76"/><ellipse cx="15.8" cy="63.1" rx="3.58" ry="3.58"/><ellipse cx="27.2" cy="71.3" rx="3.81" ry="3.81"/><ellipse cx="15.8" cy="72.9" rx="3.58" ry="3.58"/><ellipse cx="33" cy="68" rx="2.91" ry="2.91"/><ellipse cx="21" cy="80" rx="2.8" ry="2.8" opacity="0.7"/><ellipse cx="31" cy="81" rx="2.46" ry="2.46" opacity="0.7"/><ellipse cx="36.6" cy="50.9" rx="4.14" ry="4.83"/></g>
<g fill="#2890e4" opacity="0.72" filter="url(#w08)"><ellipse cx="24.7" cy="4.6" rx="2.21" ry="2.21"/><ellipse cx="21.5" cy="4.5" rx="1.54" ry="1.54"/><ellipse cx="20.7" cy="15.1" rx="2.3" ry="2.3"/><ellipse cx="31.7" cy="15.3" rx="1.92" ry="1.92"/><ellipse cx="26" cy="13" rx="1.54" ry="1.54"/><ellipse cx="19.5" cy="20.5" rx="1.26" ry="1.26"/><ellipse cx="20.7" cy="51.7" rx="3.24" ry="2.59" opacity="0.95"/><ellipse cx="25.3" cy="57" rx="3.07" ry="3.71"/><ellipse cx="28" cy="64" rx="3.07" ry="3.6" transform="rotate(-30 28 64)"/><ellipse cx="23" cy="54" rx="2.12" ry="2.12"/><ellipse cx="36.6" cy="50.9" rx="3.24" ry="3.78"/></g>
<g fill="#38d840" opacity="0.9" filter="url(#w05)"><ellipse cx="24.7" cy="4.6" rx="1.52" ry="1.52"/><ellipse cx="21.5" cy="4.5" rx="1.06" ry="1.06"/><ellipse cx="20.7" cy="15.1" rx="1.58" ry="1.58"/><ellipse cx="31.7" cy="15.3" rx="1.32" ry="1.32"/><ellipse cx="20.7" cy="51.7" rx="2.91" ry="2.33" opacity="0.95"/><ellipse cx="25.3" cy="57" rx="2.7" ry="3.26"/><ellipse cx="28" cy="64" rx="2.7" ry="3.16" transform="rotate(-30 28 64)"/><ellipse cx="23" cy="54" rx="1.86" ry="1.86"/><ellipse cx="36.6" cy="50.9" rx="2.91" ry="3.4"/></g>
<g fill="#f0e220" opacity="0.95" filter="url(#w05)"><ellipse cx="20.7" cy="51.7" rx="2.22" ry="1.78" opacity="0.95"/><ellipse cx="25.3" cy="57" rx="1.62" ry="1.96"/><ellipse cx="28" cy="64" rx="1.62" ry="1.9" transform="rotate(-30 28 64)"/><ellipse cx="23" cy="54" rx="1.12" ry="1.12"/><ellipse cx="36.6" cy="50.9" rx="2.22" ry="2.59"/></g>
<g fill="#f08a14" opacity="0.95" filter="url(#w03)"><ellipse cx="20.7" cy="51.7" rx="1.71" ry="1.37" opacity="0.95"/><ellipse cx="36.6" cy="50.9" rx="1.71" ry="1.99"/></g>
<g fill="#de1818" opacity="0.95" filter="url(#w03)"><ellipse cx="20.7" cy="51.7" rx="1.26" ry="1.01" opacity="0.95"/><ellipse cx="36.6" cy="50.9" rx="1.26" ry="1.47"/></g>
<polygon points="43.88,70.16 40.02,59.06 41.87,58.42 36.78,53.84 35.63,60.59 37.47,59.95 41.32,71.04" fill="#fff"/>
</g>
<rect x="192.8" y="27.3" width="46.2" height="91" fill="#000" />
<g transform="translate(192.8 27.3)" clip-path="url(#cA)">
<path d="M19.39 0.50 C20.58 -0.26 23.02 -0.26 24.21 0.50 C25.40 1.26 25.70 2.61 26.53 5.05 C27.36 7.49 28.55 12.09 29.20 15.12 C29.84 18.16 30.34 20.81 30.40 23.25 C30.46 25.69 29.89 27.88 29.54 29.75 C29.19 31.62 28.26 33.71 28.30 34.50 C28.34 35.29 28.68 33.92 29.80 34.50 C30.92 35.08 33.38 36.17 35.00 38.00 C36.62 39.83 39.08 42.92 39.50 45.50 C39.92 48.08 37.42 50.17 37.50 53.50 C37.58 56.83 39.50 61.17 40.00 65.50 C40.50 69.83 40.83 74.42 40.50 79.50 C40.17 84.58 43.48 93.25 38.00 96.00 C32.52 98.75 13.08 98.75 7.60 96.00 C2.12 93.25 5.43 84.58 5.10 79.50 C4.77 74.42 5.10 69.83 5.60 65.50 C6.10 61.17 8.02 56.83 8.10 53.50 C8.18 50.17 5.68 48.08 6.10 45.50 C6.52 42.92 9.32 39.83 10.60 38.00 C11.88 36.17 13.02 35.08 13.80 34.50 C14.58 33.92 15.26 35.29 15.30 34.50 C15.34 33.71 14.41 31.62 14.06 29.75 C13.71 27.88 13.14 25.69 13.20 23.25 C13.26 20.81 13.76 18.16 14.40 15.12 C15.05 12.09 16.24 7.49 17.07 5.05 C17.90 2.61 18.20 1.26 19.39 0.50Z" fill="#565656" filter="url(#b05)"/>
<path d="M19.39 0.50 C20.58 -0.26 23.02 -0.26 24.21 0.50 C25.40 1.26 25.70 2.61 26.53 5.05 C27.36 7.49 28.55 12.09 29.20 15.12 C29.84 18.16 30.34 20.81 30.40 23.25 C30.46 25.69 29.89 27.88 29.54 29.75 C29.19 31.62 28.26 33.71 28.30 34.50 C28.34 35.29 28.68 33.92 29.80 34.50 C30.92 35.08 33.38 36.17 35.00 38.00 C36.62 39.83 39.08 42.92 39.50 45.50 C39.92 48.08 37.42 50.17 37.50 53.50 C37.58 56.83 39.50 61.17 40.00 65.50 C40.50 69.83 40.83 74.42 40.50 79.50 C40.17 84.58 43.48 93.25 38.00 96.00 C32.52 98.75 13.08 98.75 7.60 96.00 C2.12 93.25 5.43 84.58 5.10 79.50 C4.77 74.42 5.10 69.83 5.60 65.50 C6.10 61.17 8.02 56.83 8.10 53.50 C8.18 50.17 5.68 48.08 6.10 45.50 C6.52 42.92 9.32 39.83 10.60 38.00 C11.88 36.17 13.02 35.08 13.80 34.50 C14.58 33.92 15.26 35.29 15.30 34.50 C15.34 33.71 14.41 31.62 14.06 29.75 C13.71 27.88 13.14 25.69 13.20 23.25 C13.26 20.81 13.76 18.16 14.40 15.12 C15.05 12.09 16.24 7.49 17.07 5.05 C17.90 2.61 18.20 1.26 19.39 0.50Z" fill="#9a9a9a" filter="url(#tex)" opacity="0.6"/>
<path d="M19.39 0.50 C20.58 -0.26 23.02 -0.26 24.21 0.50 C25.40 1.26 25.70 2.61 26.53 5.05 C27.36 7.49 28.55 12.09 29.20 15.12 C29.84 18.16 30.34 20.81 30.40 23.25 C30.46 25.69 29.89 27.88 29.54 29.75 C29.19 31.62 28.26 33.71 28.30 34.50 C28.34 35.29 28.68 33.92 29.80 34.50 C30.92 35.08 33.38 36.17 35.00 38.00 C36.62 39.83 39.08 42.92 39.50 45.50 C39.92 48.08 37.42 50.17 37.50 53.50 C37.58 56.83 39.50 61.17 40.00 65.50 C40.50 69.83 40.83 74.42 40.50 79.50 C40.17 84.58 43.48 93.25 38.00 96.00 C32.52 98.75 13.08 98.75 7.60 96.00 C2.12 93.25 5.43 84.58 5.10 79.50 C4.77 74.42 5.10 69.83 5.60 65.50 C6.10 61.17 8.02 56.83 8.10 53.50 C8.18 50.17 5.68 48.08 6.10 45.50 C6.52 42.92 9.32 39.83 10.60 38.00 C11.88 36.17 13.02 35.08 13.80 34.50 C14.58 33.92 15.26 35.29 15.30 34.50 C15.34 33.71 14.41 31.62 14.06 29.75 C13.71 27.88 13.14 25.69 13.20 23.25 C13.26 20.81 13.76 18.16 14.40 15.12 C15.05 12.09 16.24 7.49 17.07 5.05 C17.90 2.61 18.20 1.26 19.39 0.50Z" fill="#1c1c1c" filter="url(#tex2)" opacity="0.6"/>
<ellipse cx="21.8" cy="18.38" rx="6.88" ry="13.65" fill="#727272" filter="url(#b1)" opacity="0.8"/>
<path d="M12.5 1 L18 13 M31 1 L25.5 13" fill="none" stroke="#9a9a9a" stroke-width="0.7" opacity="0.8"/>
<ellipse cx="21.5" cy="24.5" rx="7.4" ry="6.8" fill="#7a7a7a" filter="url(#b05)"/>
<ellipse cx="21.5" cy="24.8" rx="5.7" ry="5.1" fill="#535353" filter="url(#b05)"/>
<ellipse cx="11.5" cy="27" rx="2" ry="3.2" fill="#111" filter="url(#b03)"/>
<ellipse cx="31.5" cy="27" rx="2" ry="3.2" fill="#111" filter="url(#b03)"/>
<ellipse cx="16.1" cy="51.5" rx="5" ry="3.6" fill="#04082c" filter="url(#b05)" opacity="0.92"/>
<ellipse cx="26.9" cy="51.5" rx="5" ry="3.6" fill="#04082c" filter="url(#b05)" opacity="0.92"/>
<g fill="#2238e0" opacity="0.56" filter="url(#w1)"><ellipse cx="17.5" cy="51.5" rx="4.48" ry="4.48"/><ellipse cx="26" cy="51.5" rx="4.48" ry="4.48"/><ellipse cx="22" cy="9.4" rx="2.8" ry="2.8"/><ellipse cx="18.8" cy="15" rx="2.58" ry="2.58"/><ellipse cx="26.8" cy="12.7" rx="2.24" ry="2.24"/><ellipse cx="22" cy="52.6" rx="2.56" ry="2.56"/><ellipse cx="16.5" cy="56.8" rx="2.7" ry="2.7" opacity="0.8"/><ellipse cx="23.6" cy="64.8" rx="3.14" ry="3.14"/><ellipse cx="18.7" cy="72.9" rx="3.14" ry="3.14"/><ellipse cx="25" cy="58" rx="2.69" ry="2.69"/><ellipse cx="22" cy="80" rx="2.24" ry="2.24" opacity="0.7"/><ellipse cx="35" cy="51.7" rx="4.42" ry="4.42"/></g>
<g fill="#2890e4" opacity="0.72" filter="url(#w08)"><ellipse cx="22" cy="52.6" rx="1.82" ry="1.82"/><ellipse cx="16.5" cy="56.8" rx="1.92" ry="1.92" opacity="0.8"/><ellipse cx="35" cy="51.7" rx="3.46" ry="3.46"/></g>
<g fill="#38d840" opacity="0.9" filter="url(#w05)"><ellipse cx="22" cy="52.6" rx="1.25" ry="1.25"/><ellipse cx="16.5" cy="56.8" rx="1.32" ry="1.32" opacity="0.8"/><ellipse cx="35" cy="51.7" rx="3.1" ry="3.1"/></g>
<g fill="#f0e220" opacity="0.95" filter="url(#w05)"><ellipse cx="35" cy="51.7" rx="2.37" ry="2.37"/></g>
<g fill="#f08a14" opacity="0.95" filter="url(#w03)"><ellipse cx="35" cy="51.7" rx="1.82" ry="1.82"/></g>
<g fill="#de1818" opacity="0.95" filter="url(#w03)"><ellipse cx="35" cy="51.7" rx="1.34" ry="1.34"/></g>
<polygon points="43.07,70.95 39.24,60.05 41.08,59.41 35.97,54.84 34.85,61.6 36.69,60.95 40.53,71.85" fill="#fff"/>
</g>
<rect x="245.1" y="27.3" width="46.2" height="91" fill="#000" />
<g transform="translate(245.1 27.3)" clip-path="url(#cA)">
<path d="M19.11 1.50 C20.59 0.87 24.01 0.87 25.49 1.50 C26.97 2.13 26.90 3.26 28.00 5.28 C29.10 7.30 31.15 11.13 32.10 13.65 C33.05 16.17 33.62 18.38 33.70 20.40 C33.78 22.42 33.04 24.20 32.56 25.80 C32.08 27.40 30.84 28.88 30.80 30.00 C30.76 31.12 31.00 31.50 32.30 32.50 C33.60 33.50 36.80 34.17 38.60 36.00 C40.40 37.83 42.68 40.92 43.10 43.50 C43.52 46.08 41.02 48.17 41.10 51.50 C41.18 54.83 43.10 59.17 43.60 63.50 C44.10 67.83 44.43 72.08 44.10 77.50 C43.77 82.92 47.58 92.92 41.60 96.00 C35.62 99.08 14.18 99.08 8.20 96.00 C2.22 92.92 6.03 82.92 5.70 77.50 C5.37 72.08 5.70 67.83 6.20 63.50 C6.70 59.17 8.62 54.83 8.70 51.50 C8.78 48.17 6.28 46.08 6.70 43.50 C7.12 40.92 10.27 37.83 11.20 36.00 C12.13 34.17 11.87 33.50 12.30 32.50 C12.73 31.50 13.84 31.12 13.80 30.00 C13.76 28.88 12.52 27.40 12.04 25.80 C11.56 24.20 10.82 22.42 10.90 20.40 C10.98 18.38 11.55 16.17 12.50 13.65 C13.45 11.13 15.50 7.30 16.60 5.28 C17.70 3.26 17.63 2.13 19.11 1.50Z" fill="#565656" filter="url(#b05)"/>
<path d="M19.11 1.50 C20.59 0.87 24.01 0.87 25.49 1.50 C26.97 2.13 26.90 3.26 28.00 5.28 C29.10 7.30 31.15 11.13 32.10 13.65 C33.05 16.17 33.62 18.38 33.70 20.40 C33.78 22.42 33.04 24.20 32.56 25.80 C32.08 27.40 30.84 28.88 30.80 30.00 C30.76 31.12 31.00 31.50 32.30 32.50 C33.60 33.50 36.80 34.17 38.60 36.00 C40.40 37.83 42.68 40.92 43.10 43.50 C43.52 46.08 41.02 48.17 41.10 51.50 C41.18 54.83 43.10 59.17 43.60 63.50 C44.10 67.83 44.43 72.08 44.10 77.50 C43.77 82.92 47.58 92.92 41.60 96.00 C35.62 99.08 14.18 99.08 8.20 96.00 C2.22 92.92 6.03 82.92 5.70 77.50 C5.37 72.08 5.70 67.83 6.20 63.50 C6.70 59.17 8.62 54.83 8.70 51.50 C8.78 48.17 6.28 46.08 6.70 43.50 C7.12 40.92 10.27 37.83 11.20 36.00 C12.13 34.17 11.87 33.50 12.30 32.50 C12.73 31.50 13.84 31.12 13.80 30.00 C13.76 28.88 12.52 27.40 12.04 25.80 C11.56 24.20 10.82 22.42 10.90 20.40 C10.98 18.38 11.55 16.17 12.50 13.65 C13.45 11.13 15.50 7.30 16.60 5.28 C17.70 3.26 17.63 2.13 19.11 1.50Z" fill="#9a9a9a" filter="url(#tex)" opacity="0.6"/>
<path d="M19.11 1.50 C20.59 0.87 24.01 0.87 25.49 1.50 C26.97 2.13 26.90 3.26 28.00 5.28 C29.10 7.30 31.15 11.13 32.10 13.65 C33.05 16.17 33.62 18.38 33.70 20.40 C33.78 22.42 33.04 24.20 32.56 25.80 C32.08 27.40 30.84 28.88 30.80 30.00 C30.76 31.12 31.00 31.50 32.30 32.50 C33.60 33.50 36.80 34.17 38.60 36.00 C40.40 37.83 42.68 40.92 43.10 43.50 C43.52 46.08 41.02 48.17 41.10 51.50 C41.18 54.83 43.10 59.17 43.60 63.50 C44.10 67.83 44.43 72.08 44.10 77.50 C43.77 82.92 47.58 92.92 41.60 96.00 C35.62 99.08 14.18 99.08 8.20 96.00 C2.22 92.92 6.03 82.92 5.70 77.50 C5.37 72.08 5.70 67.83 6.20 63.50 C6.70 59.17 8.62 54.83 8.70 51.50 C8.78 48.17 6.28 46.08 6.70 43.50 C7.12 40.92 10.27 37.83 11.20 36.00 C12.13 34.17 11.87 33.50 12.30 32.50 C12.73 31.50 13.84 31.12 13.80 30.00 C13.76 28.88 12.52 27.40 12.04 25.80 C11.56 24.20 10.82 22.42 10.90 20.40 C10.98 18.38 11.55 16.17 12.50 13.65 C13.45 11.13 15.50 7.30 16.60 5.28 C17.70 3.26 17.63 2.13 19.11 1.50Z" fill="#1c1c1c" filter="url(#tex2)" opacity="0.6"/>
<ellipse cx="22.3" cy="16.35" rx="9.12" ry="11.34" fill="#7c7c7c" filter="url(#b1)" opacity="0.8"/>
<path d="M17 6 L15 22 M21 5 L20.5 20 M24 5 L24.5 20 M28 6 L30 22" fill="none" stroke="#1c1c1c" stroke-width="1.1" opacity="0.8" filter="url(#b03)"/>
<ellipse cx="21.5" cy="32.5" rx="3.3" ry="2.2" fill="#b4b4b4" filter="url(#b03)"/>
<ellipse cx="21.5" cy="32.5" rx="1.7" ry="1" fill="#3c3c3c" />
<ellipse cx="14" cy="33" rx="1.5" ry="1.8" fill="#a8a8a8" filter="url(#b03)"/>
<ellipse cx="29.5" cy="33" rx="1.5" ry="1.8" fill="#a8a8a8" filter="url(#b03)"/>
<ellipse cx="16.33" cy="49.8" rx="5.25" ry="3.1" fill="#030303" filter="url(#b05)" opacity="0.92"/>
<ellipse cx="27.67" cy="49.8" rx="5.25" ry="3.1" fill="#030303" filter="url(#b05)" opacity="0.92"/>
<ellipse cx="22" cy="47" rx="2.2" ry="1.5" fill="#b0b0b0" filter="url(#b03)"/>
<g fill="#2238e0" opacity="0.56" filter="url(#w1)"><ellipse cx="15.5" cy="51.3" rx="3.36" ry="3.36"/><ellipse cx="22.5" cy="52" rx="2.8" ry="2.8"/><ellipse cx="29" cy="51" rx="2.8" ry="2.8"/><ellipse cx="24.9" cy="15.1" rx="2.91" ry="3.58"/><ellipse cx="18" cy="25" rx="1.79" ry="1.79" opacity="0.7"/><ellipse cx="22.5" cy="57.4" rx="2.7" ry="2.7"/><ellipse cx="19" cy="56" rx="2.24" ry="2.24"/><ellipse cx="27" cy="59" rx="2.46" ry="2.46"/><ellipse cx="19.2" cy="69.6" rx="3.81" ry="1.79" transform="rotate(-25 19.2 69.6)"/><ellipse cx="15" cy="63.5" rx="2.02" ry="2.02"/><ellipse cx="21" cy="78" rx="2.02" ry="2.02" opacity="0.7"/><ellipse cx="35.5" cy="49" rx="4.55" ry="5.93"/><ellipse cx="35.8" cy="47" rx="2.07" ry="2.07"/><ellipse cx="35.2" cy="51.5" rx="2.07" ry="2.07"/><ellipse cx="33" cy="56" rx="2.46" ry="2.46"/></g>
<g fill="#2890e4" opacity="0.72" filter="url(#w08)"><ellipse cx="22.5" cy="57.4" rx="1.92" ry="1.92"/><ellipse cx="35.5" cy="49" rx="3.56" ry="4.64"/><ellipse cx="35.8" cy="47" rx="1.62" ry="1.62"/><ellipse cx="35.2" cy="51.5" rx="1.62" ry="1.62"/></g>
<g fill="#38d840" opacity="0.9" filter="url(#w05)"><ellipse cx="22.5" cy="57.4" rx="1.32" ry="1.32"/><ellipse cx="35.5" cy="49" rx="3.2" ry="4.17"/><ellipse cx="35.8" cy="47" rx="1.46" ry="1.46"/><ellipse cx="35.2" cy="51.5" rx="1.46" ry="1.46"/></g>
<g fill="#f0e220" opacity="0.95" filter="url(#w05)"><ellipse cx="35.5" cy="49" rx="2.44" ry="3.18"/><ellipse cx="35.8" cy="47" rx="1.11" ry="1.11"/><ellipse cx="35.2" cy="51.5" rx="1.11" ry="1.11"/></g>
<g fill="#f08a14" opacity="0.95" filter="url(#w03)"><ellipse cx="35.5" cy="49" rx="1.88" ry="2.45"/><ellipse cx="35.8" cy="47" rx="0.85" ry="0.85"/><ellipse cx="35.2" cy="51.5" rx="0.85" ry="0.85"/></g>
<g fill="#de1818" opacity="0.95" filter="url(#w03)"><ellipse cx="35.5" cy="49" rx="1.39" ry="1.81"/><ellipse cx="35.8" cy="47" rx="0.63" ry="0.63"/><ellipse cx="35.2" cy="51.5" rx="0.63" ry="0.63"/></g>
<polygon points="44.46,69.32 40.1,57.8 41.93,57.11 36.72,52.66 35.75,59.44 37.58,58.75 41.94,70.28" fill="#fff"/>
</g>
<rect x="297.2" y="27.3" width="46.2" height="91" fill="#000" />
<g transform="translate(297.2 27.3)" clip-path="url(#cA)">
<path d="M20.51 1.50 C21.63 0.88 24.77 0.88 25.89 1.50 C27.01 2.12 26.30 3.22 27.23 5.21 C28.16 7.20 30.53 10.95 31.46 13.43 C32.38 15.90 32.74 18.06 32.80 20.05 C32.86 22.04 32.01 23.78 31.84 25.35 C31.67 26.93 31.56 28.73 31.80 29.50 C32.04 30.27 32.50 29.33 33.30 30.00 C34.10 30.67 35.30 31.67 36.60 33.50 C37.90 35.33 40.68 38.42 41.10 41.00 C41.52 43.58 39.02 45.67 39.10 49.00 C39.18 52.33 41.10 56.67 41.60 61.00 C42.10 65.33 42.43 69.17 42.10 75.00 C41.77 80.83 45.35 92.50 39.60 96.00 C33.85 99.50 13.35 99.50 7.60 96.00 C1.85 92.50 5.43 80.83 5.10 75.00 C4.77 69.17 5.10 65.33 5.60 61.00 C6.10 56.67 8.02 52.33 8.10 49.00 C8.18 45.67 5.68 43.58 6.10 41.00 C6.52 38.42 9.43 35.33 10.60 33.50 C11.77 31.67 12.43 30.67 13.10 30.00 C13.77 29.33 14.36 30.27 14.60 29.50 C14.84 28.73 14.73 26.93 14.56 25.35 C14.39 23.78 13.54 22.04 13.60 20.05 C13.66 18.06 14.02 15.90 14.94 13.43 C15.87 10.95 18.24 7.20 19.17 5.21 C20.10 3.22 19.39 2.12 20.51 1.50Z" fill="#484848" filter="url(#b05)"/>
<path d="M20.51 1.50 C21.63 0.88 24.77 0.88 25.89 1.50 C27.01 2.12 26.30 3.22 27.23 5.21 C28.16 7.20 30.53 10.95 31.46 13.43 C32.38 15.90 32.74 18.06 32.80 20.05 C32.86 22.04 32.01 23.78 31.84 25.35 C31.67 26.93 31.56 28.73 31.80 29.50 C32.04 30.27 32.50 29.33 33.30 30.00 C34.10 30.67 35.30 31.67 36.60 33.50 C37.90 35.33 40.68 38.42 41.10 41.00 C41.52 43.58 39.02 45.67 39.10 49.00 C39.18 52.33 41.10 56.67 41.60 61.00 C42.10 65.33 42.43 69.17 42.10 75.00 C41.77 80.83 45.35 92.50 39.60 96.00 C33.85 99.50 13.35 99.50 7.60 96.00 C1.85 92.50 5.43 80.83 5.10 75.00 C4.77 69.17 5.10 65.33 5.60 61.00 C6.10 56.67 8.02 52.33 8.10 49.00 C8.18 45.67 5.68 43.58 6.10 41.00 C6.52 38.42 9.43 35.33 10.60 33.50 C11.77 31.67 12.43 30.67 13.10 30.00 C13.77 29.33 14.36 30.27 14.60 29.50 C14.84 28.73 14.73 26.93 14.56 25.35 C14.39 23.78 13.54 22.04 13.60 20.05 C13.66 18.06 14.02 15.90 14.94 13.43 C15.87 10.95 18.24 7.20 19.17 5.21 C20.10 3.22 19.39 2.12 20.51 1.50Z" fill="#9a9a9a" filter="url(#tex)" opacity="0.6"/>
<path d="M20.51 1.50 C21.63 0.88 24.77 0.88 25.89 1.50 C27.01 2.12 26.30 3.22 27.23 5.21 C28.16 7.20 30.53 10.95 31.46 13.43 C32.38 15.90 32.74 18.06 32.80 20.05 C32.86 22.04 32.01 23.78 31.84 25.35 C31.67 26.93 31.56 28.73 31.80 29.50 C32.04 30.27 32.50 29.33 33.30 30.00 C34.10 30.67 35.30 31.67 36.60 33.50 C37.90 35.33 40.68 38.42 41.10 41.00 C41.52 43.58 39.02 45.67 39.10 49.00 C39.18 52.33 41.10 56.67 41.60 61.00 C42.10 65.33 42.43 69.17 42.10 75.00 C41.77 80.83 45.35 92.50 39.60 96.00 C33.85 99.50 13.35 99.50 7.60 96.00 C1.85 92.50 5.43 80.83 5.10 75.00 C4.77 69.17 5.10 65.33 5.60 61.00 C6.10 56.67 8.02 52.33 8.10 49.00 C8.18 45.67 5.68 43.58 6.10 41.00 C6.52 38.42 9.43 35.33 10.60 33.50 C11.77 31.67 12.43 30.67 13.10 30.00 C13.77 29.33 14.36 30.27 14.60 29.50 C14.84 28.73 14.73 26.93 14.56 25.35 C14.39 23.78 13.54 22.04 13.60 20.05 C13.66 18.06 14.02 15.90 14.94 13.43 C15.87 10.95 18.24 7.20 19.17 5.21 C20.10 3.22 19.39 2.12 20.51 1.50Z" fill="#1c1c1c" filter="url(#tex2)" opacity="0.6"/>
<ellipse cx="23.2" cy="16.08" rx="7.68" ry="11.13" fill="#707070" filter="url(#b1)" opacity="0.8"/>
<path d="M19 7 L17 23 M22.5 6 L22 21 M25.5 6 L26 21 M29 7 L31 23" fill="none" stroke="#161616" stroke-width="1.1" opacity="0.8" filter="url(#b03)"/>
<ellipse cx="22.5" cy="31" rx="3.3" ry="2.1" fill="#b4b4b4" filter="url(#b03)"/>
<ellipse cx="22.5" cy="31" rx="1.7" ry="1" fill="#3c3c3c" />
<ellipse cx="14.5" cy="31" rx="1.6" ry="1.6" fill="#a8a8a8" filter="url(#b03)"/>
<ellipse cx="30.5" cy="32.5" rx="1.5" ry="1.8" fill="#a0a0a0" filter="url(#b03)"/>
<ellipse cx="16.29" cy="49.5" rx="5.75" ry="3.25" fill="#030303" filter="url(#b05)" opacity="0.92"/>
<ellipse cx="28.71" cy="49.5" rx="5.75" ry="3.25" fill="#030303" filter="url(#b05)" opacity="0.92"/>
<ellipse cx="22.5" cy="46.2" rx="2.2" ry="1.5" fill="#b0b0b0" filter="url(#b03)"/>
<ellipse cx="34.5" cy="42.5" rx="1.6" ry="3" fill="#9a9a9a" filter="url(#b05)"/>
<ellipse cx="11" cy="76" rx="2.2" ry="1.76" fill="#060606" filter="url(#b03)"/>
<ellipse cx="25" cy="72" rx="1.5" ry="1.2" fill="#060606" filter="url(#b03)"/>
<ellipse cx="30" cy="70" rx="1.6" ry="1.28" fill="#060606" filter="url(#b03)"/>
<ellipse cx="14" cy="84" rx="1.8" ry="1.44" fill="#060606" filter="url(#b03)"/>
<ellipse cx="28" cy="77" rx="1.3" ry="1.04" fill="#060606" filter="url(#b03)"/>
<ellipse cx="19" cy="70" rx="1.2" ry="0.96" fill="#060606" filter="url(#b03)"/>
<g fill="#2238e0" opacity="0.56" filter="url(#w1)"><ellipse cx="27.5" cy="12.7" rx="2.46" ry="1.79"/><ellipse cx="23.5" cy="53" rx="2.43" ry="2.43" opacity="0.85"/><ellipse cx="20.5" cy="50.5" rx="2.24" ry="2.24"/><ellipse cx="26" cy="66" rx="2.46" ry="2.46"/><ellipse cx="26.5" cy="60" rx="1.79" ry="1.79" opacity="0.7"/><ellipse cx="36.3" cy="49.4" rx="4.14" ry="4.14"/><ellipse cx="34.5" cy="54.5" rx="2.46" ry="2.46"/><ellipse cx="33" cy="57" rx="1.92" ry="1.92" opacity="0.8"/></g>
<g fill="#2890e4" opacity="0.72" filter="url(#w08)"><ellipse cx="23.5" cy="53" rx="1.73" ry="1.73" opacity="0.85"/><ellipse cx="36.3" cy="49.4" rx="3.24" ry="3.24"/><ellipse cx="33" cy="57" rx="1.05" ry="1.05" opacity="0.8"/></g>
<g fill="#38d840" opacity="0.9" filter="url(#w05)"><ellipse cx="23.5" cy="53" rx="1.19" ry="1.19" opacity="0.85"/><ellipse cx="36.3" cy="49.4" rx="2.91" ry="2.91"/></g>
<g fill="#f0e220" opacity="0.95" filter="url(#w05)"><ellipse cx="36.3" cy="49.4" rx="2.22" ry="2.22"/></g>
<g fill="#f08a14" opacity="0.95" filter="url(#w03)"><ellipse cx="36.3" cy="49.4" rx="1.71" ry="1.71"/></g>
<g fill="#de1818" opacity="0.95" filter="url(#w03)"><ellipse cx="36.3" cy="49.4" rx="1.26" ry="1.26"/></g>
<polygon points="44.66,69.31 40.22,57.78 42.04,57.08 36.8,52.67 35.88,59.45 37.7,58.75 42.14,70.29" fill="#fff"/>
</g>
<rect x="349.5" y="27.3" width="46.2" height="91" fill="#000" />
<g transform="translate(349.5 27.3)" clip-path="url(#cA)">
<path d="M19.56 0.80 C20.67 0.17 23.93 0.17 25.04 0.80 C26.15 1.43 25.27 2.57 26.22 4.61 C27.17 6.65 29.75 10.50 30.73 13.04 C31.71 15.58 32.03 17.80 32.10 19.84 C32.17 21.88 31.25 23.67 31.12 25.28 C30.99 26.89 31.02 28.96 31.30 29.50 C31.58 30.04 31.65 28.08 32.80 28.50 C33.95 28.92 36.55 30.17 38.20 32.00 C39.85 33.83 42.28 36.92 42.70 39.50 C43.12 42.08 40.62 44.17 40.70 47.50 C40.78 50.83 42.70 55.17 43.20 59.50 C43.70 63.83 44.03 67.42 43.70 73.50 C43.37 79.58 47.08 92.25 41.20 96.00 C35.32 99.75 14.28 99.75 8.40 96.00 C2.52 92.25 6.23 79.58 5.90 73.50 C5.57 67.42 5.90 63.83 6.40 59.50 C6.90 55.17 8.82 50.83 8.90 47.50 C8.98 44.17 6.48 42.08 6.90 39.50 C7.32 36.92 10.58 33.83 11.40 32.00 C12.22 30.17 11.48 28.92 11.80 28.50 C12.12 28.08 13.02 30.04 13.30 29.50 C13.58 28.96 13.61 26.89 13.48 25.28 C13.35 23.67 12.43 21.88 12.50 19.84 C12.57 17.80 12.89 15.58 13.87 13.04 C14.85 10.50 17.43 6.65 18.38 4.61 C19.33 2.57 18.45 1.43 19.56 0.80Z" fill="#626262" filter="url(#b05)"/>
<path d="M19.56 0.80 C20.67 0.17 23.93 0.17 25.04 0.80 C26.15 1.43 25.27 2.57 26.22 4.61 C27.17 6.65 29.75 10.50 30.73 13.04 C31.71 15.58 32.03 17.80 32.10 19.84 C32.17 21.88 31.25 23.67 31.12 25.28 C30.99 26.89 31.02 28.96 31.30 29.50 C31.58 30.04 31.65 28.08 32.80 28.50 C33.95 28.92 36.55 30.17 38.20 32.00 C39.85 33.83 42.28 36.92 42.70 39.50 C43.12 42.08 40.62 44.17 40.70 47.50 C40.78 50.83 42.70 55.17 43.20 59.50 C43.70 63.83 44.03 67.42 43.70 73.50 C43.37 79.58 47.08 92.25 41.20 96.00 C35.32 99.75 14.28 99.75 8.40 96.00 C2.52 92.25 6.23 79.58 5.90 73.50 C5.57 67.42 5.90 63.83 6.40 59.50 C6.90 55.17 8.82 50.83 8.90 47.50 C8.98 44.17 6.48 42.08 6.90 39.50 C7.32 36.92 10.58 33.83 11.40 32.00 C12.22 30.17 11.48 28.92 11.80 28.50 C12.12 28.08 13.02 30.04 13.30 29.50 C13.58 28.96 13.61 26.89 13.48 25.28 C13.35 23.67 12.43 21.88 12.50 19.84 C12.57 17.80 12.89 15.58 13.87 13.04 C14.85 10.50 17.43 6.65 18.38 4.61 C19.33 2.57 18.45 1.43 19.56 0.80Z" fill="#9a9a9a" filter="url(#tex)" opacity="0.6"/>
<path d="M19.56 0.80 C20.67 0.17 23.93 0.17 25.04 0.80 C26.15 1.43 25.27 2.57 26.22 4.61 C27.17 6.65 29.75 10.50 30.73 13.04 C31.71 15.58 32.03 17.80 32.10 19.84 C32.17 21.88 31.25 23.67 31.12 25.28 C30.99 26.89 31.02 28.96 31.30 29.50 C31.58 30.04 31.65 28.08 32.80 28.50 C33.95 28.92 36.55 30.17 38.20 32.00 C39.85 33.83 42.28 36.92 42.70 39.50 C43.12 42.08 40.62 44.17 40.70 47.50 C40.78 50.83 42.70 55.17 43.20 59.50 C43.70 63.83 44.03 67.42 43.70 73.50 C43.37 79.58 47.08 92.25 41.20 96.00 C35.32 99.75 14.28 99.75 8.40 96.00 C2.52 92.25 6.23 79.58 5.90 73.50 C5.57 67.42 5.90 63.83 6.40 59.50 C6.90 55.17 8.82 50.83 8.90 47.50 C8.98 44.17 6.48 42.08 6.90 39.50 C7.32 36.92 10.58 33.83 11.40 32.00 C12.22 30.17 11.48 28.92 11.80 28.50 C12.12 28.08 13.02 30.04 13.30 29.50 C13.58 28.96 13.61 26.89 13.48 25.28 C13.35 23.67 12.43 21.88 12.50 19.84 C12.57 17.80 12.89 15.58 13.87 13.04 C14.85 10.50 17.43 6.65 18.38 4.61 C19.33 2.57 18.45 1.43 19.56 0.80Z" fill="#1c1c1c" filter="url(#tex2)" opacity="0.6"/>
<ellipse cx="22.3" cy="15.76" rx="7.84" ry="11.42" fill="#7e7e7e" filter="url(#b1)" opacity="0.8"/>
<path d="M19.5 8 L18 24 M25.5 8 L27 24" fill="none" stroke="#1c1c1c" stroke-width="1.0" opacity="0.7" filter="url(#b03)"/>
<path d="M20 30 L20 46 M25 30 L25 46" fill="none" stroke="#a8a8a8" stroke-width="0.9" opacity="0.8" filter="url(#b03)"/>
<ellipse cx="29.5" cy="24" rx="2.2" ry="1.2" fill="#111" filter="url(#b03)"/>
<ellipse cx="18.06" cy="52.5" rx="5.5" ry="2.5" fill="#080818" filter="url(#b05)" opacity="0.92"/>
<ellipse cx="29.94" cy="52.5" rx="5.5" ry="2.5" fill="#080818" filter="url(#b05)" opacity="0.92"/>
<ellipse cx="11.5" cy="80" rx="1.7" ry="1.5" fill="#060606" filter="url(#b03)"/>
<g fill="#2238e0" opacity="0.56" filter="url(#w1)"><ellipse cx="25.2" cy="13.5" rx="1.89" ry="1.89"/><ellipse cx="14.6" cy="24.9" rx="2.46" ry="2.46"/><ellipse cx="13.8" cy="38.7" rx="3.33" ry="4.1"/><ellipse cx="29" cy="36" rx="2.02" ry="2.02"/><ellipse cx="33" cy="40" rx="2.05" ry="2.05" opacity="0.8"/><ellipse cx="20" cy="20" rx="1.68" ry="1.68" opacity="0.8"/><ellipse cx="24" cy="54" rx="11.2" ry="4.48"/><ellipse cx="12.2" cy="56.8" rx="3.24" ry="3.24"/><ellipse cx="10.5" cy="58.5" rx="1.93" ry="1.93"/><ellipse cx="18.7" cy="51.7" rx="3.24" ry="3.24"/><ellipse cx="25.2" cy="56.6" rx="2.97" ry="2.97"/><ellipse cx="25.2" cy="60.9" rx="3.17" ry="3.17"/><ellipse cx="22" cy="58" rx="2.43" ry="2.43"/><ellipse cx="28" cy="64" rx="2.02" ry="2.02"/><ellipse cx="33.4" cy="51.7" rx="3.24" ry="3.24"/><ellipse cx="36.6" cy="50.9" rx="3.59" ry="2.9"/><ellipse cx="40.7" cy="55" rx="3.17" ry="3.17"/><ellipse cx="37" cy="57.5" rx="2.7" ry="2.7"/><ellipse cx="34" cy="55.5" rx="2.3" ry="2.3"/><ellipse cx="25" cy="72" rx="2.02" ry="2.02" opacity="0.7"/><ellipse cx="31" cy="45" rx="2.43" ry="2.43" opacity="0.7"/></g>
<g fill="#2890e4" opacity="0.72" filter="url(#w08)"><ellipse cx="25.2" cy="13.5" rx="1.34" ry="1.34"/><ellipse cx="13.8" cy="38.7" rx="1.82" ry="2.24"/><ellipse cx="33" cy="40" rx="1.12" ry="1.12" opacity="0.8"/><ellipse cx="12.2" cy="56.8" rx="2.3" ry="2.3"/><ellipse cx="10.5" cy="58.5" rx="1.48" ry="1.48"/><ellipse cx="18.7" cy="51.7" rx="2.3" ry="2.3"/><ellipse cx="25.2" cy="56.6" rx="2.11" ry="2.11"/><ellipse cx="25.2" cy="60.9" rx="2.48" ry="2.48"/><ellipse cx="22" cy="58" rx="1.73" ry="1.73"/><ellipse cx="33.4" cy="51.7" rx="2.3" ry="2.3"/><ellipse cx="36.6" cy="50.9" rx="2.81" ry="2.27"/><ellipse cx="40.7" cy="55" rx="2.44" ry="2.44"/><ellipse cx="37" cy="57.5" rx="1.92" ry="1.92"/><ellipse cx="34" cy="55.5" rx="1.26" ry="1.26"/><ellipse cx="31" cy="45" rx="1.73" ry="1.73" opacity="0.7"/></g>
<g fill="#38d840" opacity="0.9" filter="url(#w05)"><ellipse cx="25.2" cy="13.5" rx="0.92" ry="0.92"/><ellipse cx="12.2" cy="56.8" rx="1.58" ry="1.58"/><ellipse cx="10.5" cy="58.5" rx="1.3" ry="1.3"/><ellipse cx="18.7" cy="51.7" rx="1.58" ry="1.58"/><ellipse cx="25.2" cy="56.6" rx="1.45" ry="1.45"/><ellipse cx="25.2" cy="60.9" rx="2.23" ry="2.23"/><ellipse cx="22" cy="58" rx="1.19" ry="1.19"/><ellipse cx="33.4" cy="51.7" rx="1.58" ry="1.58"/><ellipse cx="36.6" cy="50.9" rx="2.52" ry="2.04"/><ellipse cx="40.7" cy="55" rx="2.14" ry="2.14"/><ellipse cx="37" cy="57.5" rx="1.32" ry="1.32"/><ellipse cx="31" cy="45" rx="1.19" ry="1.19" opacity="0.7"/></g>
<g fill="#f0e220" opacity="0.95" filter="url(#w05)"><ellipse cx="10.5" cy="58.5" rx="0.78" ry="0.78"/><ellipse cx="25.2" cy="60.9" rx="1.7" ry="1.7"/><ellipse cx="36.6" cy="50.9" rx="1.92" ry="1.55"/><ellipse cx="40.7" cy="55" rx="1.29" ry="1.29"/></g>
<g fill="#f08a14" opacity="0.95" filter="url(#w03)"><ellipse cx="25.2" cy="60.9" rx="1.31" ry="1.31"/><ellipse cx="36.6" cy="50.9" rx="1.48" ry="1.2"/></g>
<g fill="#de1818" opacity="0.95" filter="url(#w03)"><ellipse cx="25.2" cy="60.9" rx="0.97" ry="0.97"/><ellipse cx="36.6" cy="50.9" rx="1.09" ry="0.88"/></g>
<polygon points="46.16,74.13 41.79,62.41 43.62,61.72 38.43,57.26 37.43,64.03 39.26,63.35 43.64,75.07" fill="#fff"/>
</g>
<rect x="35.9" y="122.2" width="46.2" height="75.6" fill="#000" />
<g transform="translate(35.9 122.2)" clip-path="url(#cM)">
<path d="M20.8 36 L30.15 42 L39.5 84 L2.1 84 L11.45 42 Z" fill="#5a5a66" filter="url(#b15)" opacity="0.49"/>
<path d="M19.3 40 Q15.7 42.12 12.3 46.8 M22.3 40 Q25.9 42.12 29.3 46.8 M19.3 42.91 Q14.43 45.57 10.18 51.41 M22.3 42.91 Q27.18 45.57 31.43 51.41 M19.3 45.82 Q13.15 49.01 8.05 56.02 M22.3 45.82 Q28.45 49.01 33.55 56.02 M19.3 48.73 Q11.88 52.45 5.93 60.63 M22.3 48.73 Q29.73 52.45 35.67 60.63 M19.3 51.64 Q10.6 55.89 3.8 65.24 M22.3 51.64 Q31 55.89 37.8 65.24 M19.3 54.55 Q10.6 58.8 3.8 68.15 M22.3 54.55 Q31 58.8 37.8 68.15 M19.3 57.45 Q10.6 61.7 3.8 71.05 M22.3 57.45 Q31 61.7 37.8 71.05 M19.3 60.36 Q10.6 64.61 3.8 73.96 M22.3 60.36 Q31 64.61 37.8 73.96 M19.3 63.27 Q10.6 67.52 3.8 76.87 M22.3 63.27 Q31 67.52 37.8 76.87 M19.3 66.18 Q10.6 70.43 3.8 79.78 M22.3 66.18 Q31 70.43 37.8 79.78 M19.3 69.09 Q10.6 73.34 3.8 82.69 M22.3 69.09 Q31 73.34 37.8 82.69 M19.3 72 Q10.6 76.25 3.8 85.6 M22.3 72 Q31 76.25 37.8 85.6" fill="none" stroke="#d0d0da" stroke-width="0.6" opacity="0.51"/>
<path d="M20.80 0.80 C21.51 0.80 22.50 0.70 22.93 1.75 C23.36 2.79 22.73 5.47 23.38 7.10 C24.04 8.73 26.04 9.94 26.88 11.51 C27.72 13.09 28.32 14.77 28.40 16.55 C28.48 18.34 27.72 20.33 27.34 22.22 C26.96 24.11 26.73 26.21 26.12 27.89 C25.51 29.57 25.06 31.56 23.69 32.30 C22.32 33.03 19.28 33.03 17.91 32.30 C16.54 31.56 16.09 29.57 15.48 27.89 C14.87 26.21 14.64 24.11 14.26 22.22 C13.88 20.33 13.12 18.34 13.20 16.55 C13.28 14.77 13.88 13.09 14.72 11.51 C15.56 9.94 17.56 8.73 18.22 7.10 C18.87 5.47 18.24 2.79 18.67 1.75 C19.10 0.70 20.09 0.80 20.80 0.80Z" fill="#dcdce4" filter="url(#b05)" opacity="0.82"/>
<ellipse cx="20.8" cy="25.37" rx="5.17" ry="5.99" fill="#868690" filter="url(#b08)" opacity="0.74"/>
<ellipse cx="20.8" cy="25.37" rx="5.17" ry="5.99" fill="#f0f0f6" filter="url(#tex)" opacity="0.57"/>
<ellipse cx="20.8" cy="5.84" rx="2.28" ry="4.72" fill="#ffffff" filter="url(#b05)" opacity="0.82"/>
<ellipse cx="20.8" cy="14.03" rx="3.19" ry="4.41" fill="#fbfbff" filter="url(#b08)" opacity="0.74"/>
<ellipse cx="15.94" cy="16.23" rx="1.75" ry="4.72" fill="#06060e" transform="rotate(-17 15.94 16.23)" filter="url(#b03)"/>
<ellipse cx="25.66" cy="16.23" rx="1.75" ry="4.72" fill="#06060e" transform="rotate(17 25.66 16.23)" filter="url(#b03)"/>
<path d="M20.8 30.3 L20.8 41.75" fill="none" stroke="#dcdce4" stroke-width="5.47" filter="url(#b05)" opacity="0.75"/>
<ellipse cx="20.8" cy="39.23" rx="7.6" ry="3.78" fill="#8c8c98" filter="url(#b1)" opacity="0.61"/>
<path d="M19.8 38.23 L13.58 41.23 M21.8 38.23 L28.02 41.23" fill="none" stroke="#dcdce4" stroke-width="1.5" filter="url(#b03)" opacity="0.74"/>
<path d="M20.8 35.3 L20.8 83" fill="none" stroke="#b4b4be" stroke-width="4.2" filter="url(#b05)" opacity="0.78"/>
<path d="M20.8 35.3 L20.8 83" fill="none" stroke="#f0f0f6" stroke-width="2.31" stroke-dasharray="1.5 1.0" opacity="0.49"/>
<path d="M15.5 33 L7 47.4" fill="none" stroke="#dcdce4" stroke-width="2" stroke-linecap="round" filter="url(#b03)" opacity="0.51"/>
<path d="M7 47.4 L12 24.5" fill="none" stroke="#f8f8fc" stroke-width="1.8" stroke-linecap="round" filter="url(#b03)" opacity="0.51"/>
<path d="M28 33 L36 47.4" fill="none" stroke="#dcdce4" stroke-width="2" stroke-linecap="round" filter="url(#b03)" opacity="0.51"/>
<path d="M36 47.4 L32.4 25.5" fill="none" stroke="#f8f8fc" stroke-width="1.8" stroke-linecap="round" filter="url(#b03)" opacity="0.51"/>
<ellipse cx="20.8" cy="19.7" rx="7.6" ry="15.75" fill="#2838d8" filter="url(#b15)" opacity="0.22"/>
<path d="M20.80 28.00 C23.13 28.00 26.30 31.33 28.00 34.00 C29.70 36.67 29.00 40.00 31.00 44.00 C33.00 48.00 37.17 52.00 40.00 58.00 C42.83 64.00 55.00 76.33 48.00 80.00 C41.00 83.67 5.33 83.67 -2.00 80.00 C-9.33 76.33 1.83 64.00 4.00 58.00 C6.17 52.00 9.33 48.00 11.00 44.00 C12.67 40.00 12.37 36.67 14.00 34.00 C15.63 31.33 18.47 28.00 20.80 28.00Z" fill="#1a34e0" filter="url(#b15)" opacity="0.72"/>
<ellipse cx="21" cy="62" rx="12" ry="17" fill="#1a40f0" filter="url(#b2)" opacity="0.5"/>
<g fill="#2238e0" opacity="0.56" filter="url(#w1)"><ellipse cx="17" cy="2.6" rx="2.82" ry="2.82"/><ellipse cx="23.6" cy="3.2" rx="2.56" ry="2.56"/><ellipse cx="20.5" cy="6" rx="2.8" ry="2.8"/><ellipse cx="20.5" cy="22" rx="4.48" ry="4.48" opacity="0.8"/><ellipse cx="16" cy="30" rx="3.36" ry="3.36"/><ellipse cx="26" cy="31" rx="3.36" ry="3.36"/><ellipse cx="21" cy="38" rx="4.48" ry="4.48"/><ellipse cx="21.2" cy="50" rx="8.83" ry="7.18"/><ellipse cx="23.3" cy="50.4" rx="3.59" ry="2.76"/><ellipse cx="18.5" cy="47.5" rx="3.31" ry="3.31"/><ellipse cx="17.2" cy="53.5" rx="3.59" ry="3.59"/><ellipse cx="24.5" cy="55.5" rx="3.86" ry="3.86"/><ellipse cx="21.5" cy="59.5" rx="4.69" ry="4.14"/><ellipse cx="23.6" cy="66.5" rx="5.24" ry="8.97"/><ellipse cx="17" cy="58" rx="4.05" ry="4.05"/><ellipse cx="26.5" cy="61" rx="3.78" ry="3.78"/><ellipse cx="19" cy="64" rx="3.51" ry="3.51"/><ellipse cx="13.6" cy="72.2" rx="4.05" ry="4.05"/><ellipse cx="28.5" cy="72" rx="3.51" ry="3.51"/><ellipse cx="20" cy="74" rx="3.51" ry="3.51"/><ellipse cx="33" cy="66" rx="3.84" ry="3.84"/><ellipse cx="9" cy="66" rx="3.84" ry="3.84"/><ellipse cx="30" cy="55" rx="3.33" ry="3.33"/><ellipse cx="12" cy="56" rx="3.07" ry="3.07"/></g>
<g fill="#2890e4" opacity="0.72" filter="url(#w08)"><ellipse cx="17" cy="2.6" rx="1.54" ry="1.54"/><ellipse cx="23.6" cy="3.2" rx="1.4" ry="1.4"/><ellipse cx="21.2" cy="50" rx="6.78" ry="5.51"/><ellipse cx="23.3" cy="50.4" rx="2.81" ry="2.16"/><ellipse cx="18.5" cy="47.5" rx="2.54" ry="2.54"/><ellipse cx="17.2" cy="53.5" rx="2.76" ry="2.76"/><ellipse cx="24.5" cy="55.5" rx="2.97" ry="2.97"/><ellipse cx="21.5" cy="59.5" rx="3.6" ry="3.18"/><ellipse cx="23.6" cy="66.5" rx="4.03" ry="6.89"/><ellipse cx="17" cy="58" rx="2.88" ry="2.88"/><ellipse cx="26.5" cy="61" rx="2.69" ry="2.69"/><ellipse cx="19" cy="64" rx="2.5" ry="2.5"/><ellipse cx="13.6" cy="72.2" rx="2.88" ry="2.88"/><ellipse cx="28.5" cy="72" rx="2.5" ry="2.5"/><ellipse cx="20" cy="74" rx="2.5" ry="2.5"/><ellipse cx="33" cy="66" rx="2.1" ry="2.1"/><ellipse cx="9" cy="66" rx="2.1" ry="2.1"/><ellipse cx="30" cy="55" rx="1.82" ry="1.82"/><ellipse cx="12" cy="56" rx="1.68" ry="1.68"/></g>
<g fill="#38d840" opacity="0.9" filter="url(#w05)"><ellipse cx="21.2" cy="50" rx="5.95" ry="4.84"/><ellipse cx="23.3" cy="50.4" rx="2.52" ry="1.94"/><ellipse cx="18.5" cy="47.5" rx="2.23" ry="2.23"/><ellipse cx="17.2" cy="53.5" rx="2.42" ry="2.42"/><ellipse cx="24.5" cy="55.5" rx="2.6" ry="2.6"/><ellipse cx="21.5" cy="59.5" rx="3.16" ry="2.79"/><ellipse cx="23.6" cy="66.5" rx="3.53" ry="6.04"/><ellipse cx="17" cy="58" rx="1.98" ry="1.98"/><ellipse cx="26.5" cy="61" rx="1.85" ry="1.85"/><ellipse cx="19" cy="64" rx="1.72" ry="1.72"/><ellipse cx="13.6" cy="72.2" rx="1.98" ry="1.98"/><ellipse cx="28.5" cy="72" rx="1.72" ry="1.72"/><ellipse cx="20" cy="74" rx="1.72" ry="1.72"/></g>
<g fill="#f0e220" opacity="0.95" filter="url(#w05)"><ellipse cx="21.2" cy="50" rx="3.58" ry="2.91"/><ellipse cx="23.3" cy="50.4" rx="1.92" ry="1.48"/><ellipse cx="18.5" cy="47.5" rx="1.34" ry="1.34"/><ellipse cx="17.2" cy="53.5" rx="1.46" ry="1.46"/><ellipse cx="24.5" cy="55.5" rx="1.57" ry="1.57"/><ellipse cx="21.5" cy="59.5" rx="1.9" ry="1.68"/><ellipse cx="23.6" cy="66.5" rx="2.13" ry="3.64"/></g>
<g fill="#f08a14" opacity="0.95" filter="url(#w03)"><ellipse cx="23.3" cy="50.4" rx="1.48" ry="1.14"/></g>
<g fill="#de1818" opacity="0.95" filter="url(#w03)"><ellipse cx="23.3" cy="50.4" rx="1.09" ry="0.84"/></g>
<polygon points="43.86,72.91 39.13,60.77 40.95,60.06 35.69,55.67 34.8,62.46 36.61,61.75 41.34,73.89" fill="#fff"/>
</g>
<rect x="88.2" y="122.2" width="46.2" height="75.6" fill="#000" />
<g transform="translate(88.2 122.2)" clip-path="url(#cM)">
<path d="M21.6 38 L30.4 44 L39.2 84 L4 84 L12.8 44 Z" fill="#5a5a66" filter="url(#b15)" opacity="0.55"/>
<path d="M20.1 42 Q16.8 44 13.6 48.4 M23.1 42 Q26.4 44 29.6 48.4 M20.1 45 Q15.6 47.5 11.6 53 M23.1 45 Q27.6 47.5 31.6 53 M20.1 48 Q14.4 51 9.6 57.6 M23.1 48 Q28.8 51 33.6 57.6 M20.1 51 Q13.2 54.5 7.6 62.2 M23.1 51 Q30 54.5 35.6 62.2 M20.1 54 Q12 58 5.6 66.8 M23.1 54 Q31.2 58 37.6 66.8 M20.1 57 Q12 61 5.6 69.8 M23.1 57 Q31.2 61 37.6 69.8 M20.1 60 Q12 64 5.6 72.8 M23.1 60 Q31.2 64 37.6 72.8 M20.1 63 Q12 67 5.6 75.8 M23.1 63 Q31.2 67 37.6 75.8 M20.1 66 Q12 70 5.6 78.8 M23.1 66 Q31.2 70 37.6 78.8 M20.1 69 Q12 73 5.6 81.8 M23.1 69 Q31.2 73 37.6 81.8 M20.1 72 Q12 76 5.6 84.8 M23.1 72 Q31.2 76 37.6 84.8" fill="none" stroke="#d0d0da" stroke-width="0.6" opacity="0.57"/>
<path d="M21.60 0.80 C22.35 0.80 23.39 0.70 23.84 1.75 C24.29 2.79 23.63 5.47 24.32 7.10 C25.01 8.73 27.12 9.94 28.00 11.51 C28.88 13.09 29.52 14.77 29.60 16.55 C29.68 18.34 28.88 20.33 28.48 22.22 C28.08 24.11 27.84 26.21 27.20 27.89 C26.56 29.57 26.08 31.56 24.64 32.30 C23.20 33.03 20.00 33.03 18.56 32.30 C17.12 31.56 16.64 29.57 16.00 27.89 C15.36 26.21 15.12 24.11 14.72 22.22 C14.32 20.33 13.52 18.34 13.60 16.55 C13.68 14.77 14.32 13.09 15.20 11.51 C16.08 9.94 18.19 8.73 18.88 7.10 C19.57 5.47 18.91 2.79 19.36 1.75 C19.81 0.70 20.85 0.80 21.60 0.80Z" fill="#dcdce4" filter="url(#b05)" opacity="0.92"/>
<ellipse cx="21.6" cy="25.37" rx="5.44" ry="5.99" fill="#868690" filter="url(#b08)" opacity="0.83"/>
<ellipse cx="21.6" cy="25.37" rx="5.44" ry="5.99" fill="#f0f0f6" filter="url(#tex)" opacity="0.64"/>
<ellipse cx="21.6" cy="5.84" rx="2.4" ry="4.72" fill="#ffffff" filter="url(#b05)" opacity="0.92"/>
<ellipse cx="21.6" cy="14.03" rx="3.36" ry="4.41" fill="#fbfbff" filter="url(#b08)" opacity="0.83"/>
<ellipse cx="16.48" cy="16.23" rx="1.84" ry="4.72" fill="#06060e" transform="rotate(-17 16.48 16.23)" filter="url(#b03)"/>
<ellipse cx="26.72" cy="16.23" rx="1.84" ry="4.72" fill="#06060e" transform="rotate(17 26.72 16.23)" filter="url(#b03)"/>
<path d="M21.6 30.3 L21.6 41.75" fill="none" stroke="#dcdce4" stroke-width="5.76" filter="url(#b05)" opacity="0.85"/>
<ellipse cx="21.6" cy="39.23" rx="8" ry="3.78" fill="#8c8c98" filter="url(#b1)" opacity="0.69"/>
<path d="M20.6 38.23 L14 41.23 M22.6 38.23 L29.2 41.23" fill="none" stroke="#dcdce4" stroke-width="1.5" filter="url(#b03)" opacity="0.83"/>
<path d="M21.6 35.3 L21.6 83" fill="none" stroke="#b4b4be" stroke-width="4.2" filter="url(#b05)" opacity="0.87"/>
<path d="M21.6 35.3 L21.6 83" fill="none" stroke="#f0f0f6" stroke-width="2.31" stroke-dasharray="1.5 1.0" opacity="0.55"/>
<path d="M15.5 34 L7.5 49" fill="none" stroke="#dcdce4" stroke-width="2.1" stroke-linecap="round" filter="url(#b03)" opacity="0.66"/>
<path d="M7.5 49 L10.5 26" fill="none" stroke="#f8f8fc" stroke-width="1.9" stroke-linecap="round" filter="url(#b03)" opacity="0.66"/>
<path d="M28.5 34 L37 48" fill="none" stroke="#dcdce4" stroke-width="2.1" stroke-linecap="round" filter="url(#b03)" opacity="0.66"/>
<path d="M37 48 L33.5 25" fill="none" stroke="#f8f8fc" stroke-width="1.9" stroke-linecap="round" filter="url(#b03)" opacity="0.66"/>
<ellipse cx="21.6" cy="19.7" rx="8" ry="15.75" fill="#2838d8" filter="url(#b15)" opacity="0.14"/>
<path d="M21.60 30.00 C23.60 30.00 26.43 33.33 28.00 36.00 C29.57 38.67 29.50 42.00 31.00 46.00 C32.50 50.00 35.33 54.33 37.00 60.00 C38.67 65.67 46.50 76.67 41.00 80.00 C35.50 83.33 9.50 83.33 4.00 80.00 C-1.50 76.67 6.50 65.67 8.00 60.00 C9.50 54.33 11.67 50.00 13.00 46.00 C14.33 42.00 14.57 38.67 16.00 36.00 C17.43 33.33 19.60 30.00 21.60 30.00Z" fill="#1a34e0" filter="url(#b15)" opacity="0.5"/>
<g fill="#2238e0" opacity="0.56" filter="url(#w1)"><ellipse cx="21.5" cy="2.5" rx="3.58" ry="3.58"/><ellipse cx="28.4" cy="14.8" rx="3.51" ry="4.05"/><ellipse cx="21.5" cy="14" rx="3.36" ry="6.72"/><ellipse cx="21.5" cy="25" rx="5.04" ry="5.04" opacity="0.8"/><ellipse cx="21.5" cy="35" rx="4.48" ry="4.48"/><ellipse cx="28.5" cy="39" rx="3.58" ry="3.58"/><ellipse cx="23" cy="44" rx="4.26" ry="4.26"/><ellipse cx="15" cy="41" rx="2.69" ry="2.69" opacity="0.8"/><ellipse cx="21.7" cy="51.8" rx="7.73" ry="6.07"/><ellipse cx="22.3" cy="51.4" rx="3.31" ry="2.48"/><ellipse cx="18.4" cy="58.9" rx="4.05" ry="4.05"/><ellipse cx="26.5" cy="55.7" rx="4.05" ry="4.05"/><ellipse cx="16.5" cy="53.5" rx="3.51" ry="3.51"/><ellipse cx="22.5" cy="62" rx="3.51" ry="3.51"/><ellipse cx="34.7" cy="55.7" rx="5.12" ry="4.35"/><ellipse cx="31.5" cy="47" rx="3.36" ry="3.36"/><ellipse cx="21" cy="70" rx="5.04" ry="6.72"/><ellipse cx="25.5" cy="70.5" rx="2.7" ry="2.7" opacity="0.9"/><ellipse cx="31" cy="63" rx="2.91" ry="2.91"/></g>
<g fill="#2890e4" opacity="0.72" filter="url(#w08)"><ellipse cx="21.5" cy="2.5" rx="1.96" ry="1.96"/><ellipse cx="28.4" cy="14.8" rx="2.5" ry="2.88"/><ellipse cx="21.7" cy="51.8" rx="5.94" ry="4.66"/><ellipse cx="22.3" cy="51.4" rx="2.59" ry="1.94"/><ellipse cx="18.4" cy="58.9" rx="2.88" ry="2.88"/><ellipse cx="26.5" cy="55.7" rx="2.88" ry="2.88"/><ellipse cx="16.5" cy="53.5" rx="2.5" ry="2.5"/><ellipse cx="22.5" cy="62" rx="2.5" ry="2.5"/><ellipse cx="34.7" cy="55.7" rx="2.8" ry="2.38"/><ellipse cx="25.5" cy="70.5" rx="1.92" ry="1.92" opacity="0.9"/></g>
<g fill="#38d840" opacity="0.9" filter="url(#w05)"><ellipse cx="28.4" cy="14.8" rx="1.72" ry="1.98"/><ellipse cx="21.7" cy="51.8" rx="5.21" ry="4.09"/><ellipse cx="22.3" cy="51.4" rx="2.33" ry="1.75"/><ellipse cx="18.4" cy="58.9" rx="1.98" ry="1.98"/><ellipse cx="26.5" cy="55.7" rx="1.98" ry="1.98"/><ellipse cx="16.5" cy="53.5" rx="1.72" ry="1.72"/><ellipse cx="22.5" cy="62" rx="1.72" ry="1.72"/><ellipse cx="25.5" cy="70.5" rx="1.32" ry="1.32" opacity="0.9"/></g>
<g fill="#f0e220" opacity="0.95" filter="url(#w05)"><ellipse cx="21.7" cy="51.8" rx="3.14" ry="2.46"/><ellipse cx="22.3" cy="51.4" rx="1.78" ry="1.33"/></g>
<g fill="#f08a14" opacity="0.95" filter="url(#w03)"><ellipse cx="22.3" cy="51.4" rx="1.37" ry="1.03"/></g>
<g fill="#de1818" opacity="0.95" filter="url(#w03)"><ellipse cx="22.3" cy="51.4" rx="1.01" ry="0.76"/></g>
<polygon points="42.76,75.73 38.69,64.81 40.52,64.13 35.33,59.66 34.33,66.43 36.16,65.75 40.24,76.67" fill="#fff"/>
</g>
<rect x="140.5" y="122.2" width="46.2" height="75.6" fill="#000" />
<g transform="translate(140.5 122.2)" clip-path="url(#cM)">
<path d="M22.6 39 L31.4 45 L40.2 84 L5 84 L13.8 45 Z" fill="#5a5a66" filter="url(#b15)" opacity="0.6"/>
<path d="M21.1 43 Q17.8 45 14.6 49.4 M24.1 43 Q27.4 45 30.6 49.4 M21.1 45.9 Q16.6 48.4 12.6 53.9 M24.1 45.9 Q28.6 48.4 32.6 53.9 M21.1 48.8 Q15.4 51.8 10.6 58.4 M24.1 48.8 Q29.8 51.8 34.6 58.4 M21.1 51.7 Q14.2 55.2 8.6 62.9 M24.1 51.7 Q31 55.2 36.6 62.9 M21.1 54.6 Q13 58.6 6.6 67.4 M24.1 54.6 Q32.2 58.6 38.6 67.4 M21.1 57.5 Q13 61.5 6.6 70.3 M24.1 57.5 Q32.2 61.5 38.6 70.3 M21.1 60.4 Q13 64.4 6.6 73.2 M24.1 60.4 Q32.2 64.4 38.6 73.2 M21.1 63.3 Q13 67.3 6.6 76.1 M24.1 63.3 Q32.2 67.3 38.6 76.1 M21.1 66.2 Q13 70.2 6.6 79 M24.1 66.2 Q32.2 70.2 38.6 79 M21.1 69.1 Q13 73.1 6.6 81.9 M24.1 69.1 Q32.2 73.1 38.6 81.9 M21.1 72 Q13 76 6.6 84.8 M24.1 72 Q32.2 76 38.6 84.8" fill="none" stroke="#d0d0da" stroke-width="0.6" opacity="0.62"/>
<path d="M22.60 0.60 C23.53 0.60 24.83 0.50 25.40 1.53 C25.97 2.56 25.13 5.20 26.00 6.80 C26.87 8.40 29.50 9.59 30.60 11.14 C31.70 12.69 32.50 14.34 32.60 16.10 C32.70 17.86 31.70 19.82 31.20 21.68 C30.70 23.54 30.40 25.61 29.60 27.26 C28.80 28.91 28.20 30.88 26.40 31.60 C24.60 32.32 20.60 32.32 18.80 31.60 C17.00 30.88 16.40 28.91 15.60 27.26 C14.80 25.61 14.50 23.54 14.00 21.68 C13.50 19.82 12.50 17.86 12.60 16.10 C12.70 14.34 13.50 12.69 14.60 11.14 C15.70 9.59 18.33 8.40 19.20 6.80 C20.07 5.20 19.23 2.56 19.80 1.53 C20.37 0.50 21.67 0.60 22.60 0.60Z" fill="#dcdce4" filter="url(#b05)" opacity="1"/>
<ellipse cx="22.6" cy="24.78" rx="6.8" ry="5.89" fill="#868690" filter="url(#b08)" opacity="0.9"/>
<ellipse cx="22.6" cy="24.78" rx="6.8" ry="5.89" fill="#f0f0f6" filter="url(#tex)" opacity="0.7"/>
<ellipse cx="22.6" cy="5.56" rx="3" ry="4.65" fill="#ffffff" filter="url(#b05)" opacity="1"/>
<ellipse cx="22.6" cy="13.62" rx="4.2" ry="4.34" fill="#fbfbff" filter="url(#b08)" opacity="0.9"/>
<ellipse cx="16.2" cy="15.79" rx="2.3" ry="4.65" fill="#06060e" transform="rotate(-17 16.2 15.79)" filter="url(#b03)"/>
<ellipse cx="29" cy="15.79" rx="2.3" ry="4.65" fill="#06060e" transform="rotate(17 29 15.79)" filter="url(#b03)"/>
<path d="M22.6 29.6 L22.6 40.9" fill="none" stroke="#dcdce4" stroke-width="7.2" filter="url(#b05)" opacity="0.92"/>
<ellipse cx="22.6" cy="38.42" rx="10" ry="3.72" fill="#8c8c98" filter="url(#b1)" opacity="0.75"/>
<path d="M21.6 37.42 L13.1 40.42 M23.6 37.42 L32.1 40.42" fill="none" stroke="#dcdce4" stroke-width="1.5" filter="url(#b03)" opacity="0.9"/>
<path d="M22.6 34.6 L22.6 83" fill="none" stroke="#b4b4be" stroke-width="4.2" filter="url(#b05)" opacity="0.95"/>
<path d="M22.6 34.6 L22.6 83" fill="none" stroke="#f0f0f6" stroke-width="2.31" stroke-dasharray="1.5 1.0" opacity="0.6"/>
<path d="M15.5 35 L5.5 47.5" fill="none" stroke="#dcdce4" stroke-width="2.5" stroke-linecap="round" filter="url(#b03)" opacity="0.95"/>
<path d="M5.5 47.5 L10.6 27.5" fill="none" stroke="#f8f8fc" stroke-width="2.3" stroke-linecap="round" filter="url(#b03)" opacity="0.95"/>
<ellipse cx="10.6" cy="26.5" rx="1.9" ry="1.6" fill="#dcdce4" filter="url(#b03)" opacity="0.95"/>
<path d="M9.48 25.9 L8.76 23.3 M10.21 25.9 L9.97 23.3 M10.98 25.9 L11.23 23.3 M11.72 25.9 L12.44 23.3" fill="none" stroke="#dcdce4" stroke-width="0.75" stroke-linecap="round" opacity="0.95"/>
<path d="M30 35 L37.5 48.5" fill="none" stroke="#dcdce4" stroke-width="2.5" stroke-linecap="round" filter="url(#b03)" opacity="0.95"/>
<path d="M37.5 48.5 L35.8 30" fill="none" stroke="#f8f8fc" stroke-width="2.3" stroke-linecap="round" filter="url(#b03)" opacity="0.95"/>
<ellipse cx="35.8" cy="29" rx="1.9" ry="1.6" fill="#dcdce4" filter="url(#b03)" opacity="0.95"/>
<path d="M34.68 28.4 L33.96 25.8 M35.41 28.4 L35.17 25.8 M36.18 28.4 L36.43 25.8 M36.92 28.4 L37.64 25.8" fill="none" stroke="#dcdce4" stroke-width="0.75" stroke-linecap="round" opacity="0.95"/>
<ellipse cx="22.6" cy="60" rx="11" ry="14" fill="#1c2cd0" filter="url(#b2)" opacity="0.4"/>
<g fill="#2238e0" opacity="0.56" filter="url(#w1)"><ellipse cx="22.8" cy="1.8" rx="2.69" ry="2.69"/><ellipse cx="31" cy="13" rx="2.69" ry="2.69"/><ellipse cx="22.6" cy="26" rx="6.16" ry="5.04" opacity="0.75"/><ellipse cx="22.6" cy="34" rx="3.81" ry="3.81" opacity="0.8"/><ellipse cx="18.6" cy="48.5" rx="5.52" ry="4.69"/><ellipse cx="16.1" cy="53.6" rx="4.97" ry="4.97"/><ellipse cx="23.8" cy="52.6" rx="4.97" ry="4.97"/><ellipse cx="21" cy="55.5" rx="4.05" ry="4.05"/><ellipse cx="25.5" cy="50" rx="2.76" ry="2.76" opacity="0.9"/><ellipse cx="23" cy="60" rx="3.51" ry="3.51"/><ellipse cx="24.5" cy="64" rx="3.51" ry="3.51"/><ellipse cx="26.2" cy="67.2" rx="4.32" ry="2.97"/><ellipse cx="22" cy="68.5" rx="2.7" ry="2.7"/><ellipse cx="13" cy="66" rx="3.14" ry="3.14"/><ellipse cx="31" cy="64" rx="3.14" ry="3.14"/><ellipse cx="22" cy="74" rx="3.14" ry="3.14"/><ellipse cx="12" cy="58" rx="2.69" ry="2.69" opacity="0.7"/><ellipse cx="35.7" cy="53.4" rx="5.24" ry="5.93"/></g>
<g fill="#2890e4" opacity="0.72" filter="url(#w08)"><ellipse cx="18.6" cy="48.5" rx="4.32" ry="3.67"/><ellipse cx="16.1" cy="53.6" rx="3.82" ry="3.82"/><ellipse cx="23.8" cy="52.6" rx="3.82" ry="3.82"/><ellipse cx="21" cy="55.5" rx="2.88" ry="2.88"/><ellipse cx="25.5" cy="50" rx="2.16" ry="2.16" opacity="0.9"/><ellipse cx="23" cy="60" rx="2.5" ry="2.5"/><ellipse cx="24.5" cy="64" rx="2.5" ry="2.5"/><ellipse cx="26.2" cy="67.2" rx="3.07" ry="2.11"/><ellipse cx="22" cy="68.5" rx="1.92" ry="1.92"/><ellipse cx="35.7" cy="53.4" rx="4.1" ry="4.64"/></g>
<g fill="#38d840" opacity="0.9" filter="url(#w05)"><ellipse cx="18.6" cy="48.5" rx="3.88" ry="3.3"/><ellipse cx="16.1" cy="53.6" rx="3.35" ry="3.35"/><ellipse cx="23.8" cy="52.6" rx="3.35" ry="3.35"/><ellipse cx="21" cy="55.5" rx="1.98" ry="1.98"/><ellipse cx="25.5" cy="50" rx="1.94" ry="1.94" opacity="0.9"/><ellipse cx="23" cy="60" rx="1.72" ry="1.72"/><ellipse cx="24.5" cy="64" rx="1.72" ry="1.72"/><ellipse cx="26.2" cy="67.2" rx="2.11" ry="1.45"/><ellipse cx="22" cy="68.5" rx="1.32" ry="1.32"/><ellipse cx="35.7" cy="53.4" rx="3.69" ry="4.17"/></g>
<g fill="#f0e220" opacity="0.95" filter="url(#w05)"><ellipse cx="18.6" cy="48.5" rx="2.96" ry="2.52"/><ellipse cx="16.1" cy="53.6" rx="2.02" ry="2.02"/><ellipse cx="23.8" cy="52.6" rx="2.02" ry="2.02"/><ellipse cx="25.5" cy="50" rx="1.48" ry="1.48" opacity="0.9"/><ellipse cx="35.7" cy="53.4" rx="2.81" ry="3.18"/></g>
<g fill="#f08a14" opacity="0.95" filter="url(#w03)"><ellipse cx="18.6" cy="48.5" rx="2.28" ry="1.94"/><ellipse cx="25.5" cy="50" rx="1.14" ry="1.14" opacity="0.9"/><ellipse cx="35.7" cy="53.4" rx="2.17" ry="2.45"/></g>
<g fill="#de1818" opacity="0.95" filter="url(#w03)"><ellipse cx="18.6" cy="48.5" rx="1.68" ry="1.43"/><ellipse cx="25.5" cy="50" rx="0.84" ry="0.84" opacity="0.9"/><ellipse cx="35.7" cy="53.4" rx="1.6" ry="1.81"/></g>
<polygon points="43.47,73.36 39.33,61.46 41.17,60.82 36.08,56.24 34.94,62.99 36.78,62.35 40.93,74.24" fill="#fff"/>
</g>
<rect x="192.8" y="122.2" width="46.2" height="75.6" fill="#000" />
<g transform="translate(192.8 122.2)" clip-path="url(#cM)">
<path d="M21.2 40 L29.45 46 L37.7 84 L4.7 84 L12.95 46 Z" fill="#5a5a66" filter="url(#b15)" opacity="0.6"/>
<path d="M19.7 44 Q16.7 45.88 13.7 50 M22.7 44 Q25.7 45.88 28.7 50 M19.7 47.11 Q15.57 49.45 11.82 54.61 M22.7 47.11 Q26.82 49.45 30.57 54.61 M19.7 50.22 Q14.45 53.03 9.95 59.22 M22.7 50.22 Q27.95 53.03 32.45 59.22 M19.7 53.33 Q13.32 56.61 8.07 63.83 M22.7 53.33 Q29.07 56.61 34.33 63.83 M19.7 56.44 Q12.2 60.19 6.2 68.44 M22.7 56.44 Q30.2 60.19 36.2 68.44 M19.7 59.56 Q12.2 63.31 6.2 71.56 M22.7 59.56 Q30.2 63.31 36.2 71.56 M19.7 62.67 Q12.2 66.42 6.2 74.67 M22.7 62.67 Q30.2 66.42 36.2 74.67 M19.7 65.78 Q12.2 69.53 6.2 77.78 M22.7 65.78 Q30.2 69.53 36.2 77.78 M19.7 68.89 Q12.2 72.64 6.2 80.89 M22.7 68.89 Q30.2 72.64 36.2 80.89 M19.7 72 Q12.2 75.75 6.2 84 M22.7 72 Q30.2 75.75 36.2 84" fill="none" stroke="#d0d0da" stroke-width="0.6" opacity="0.62"/>
<path d="M21.20 1.20 C22.19 1.20 23.57 1.10 24.17 2.12 C24.77 3.15 23.89 5.77 24.80 7.36 C25.72 8.95 28.51 10.13 29.68 11.67 C30.85 13.21 31.69 14.85 31.80 16.60 C31.91 18.35 30.85 20.30 30.32 22.14 C29.79 23.99 29.47 26.05 28.62 27.69 C27.77 29.33 27.14 31.28 25.23 32.00 C23.32 32.72 19.08 32.72 17.17 32.00 C15.26 31.28 14.63 29.33 13.78 27.69 C12.93 26.05 12.61 23.99 12.08 22.14 C11.55 20.30 10.49 18.35 10.60 16.60 C10.71 14.85 11.55 13.21 12.72 11.67 C13.89 10.13 16.68 8.95 17.60 7.36 C18.51 5.77 17.63 3.15 18.23 2.12 C18.83 1.10 20.21 1.20 21.20 1.20Z" fill="#dcdce4" filter="url(#b05)" opacity="1"/>
<ellipse cx="21.2" cy="25.22" rx="7.21" ry="5.85" fill="#868690" filter="url(#b08)" opacity="0.9"/>
<ellipse cx="21.2" cy="25.22" rx="7.21" ry="5.85" fill="#f0f0f6" filter="url(#tex)" opacity="0.7"/>
<ellipse cx="21.2" cy="6.13" rx="3.18" ry="4.62" fill="#ffffff" filter="url(#b05)" opacity="1"/>
<ellipse cx="21.2" cy="14.14" rx="4.45" ry="4.31" fill="#fbfbff" filter="url(#b08)" opacity="0.9"/>
<ellipse cx="14.42" cy="16.29" rx="2.44" ry="4.62" fill="#06060e" transform="rotate(-17 14.42 16.29)" filter="url(#b03)"/>
<ellipse cx="27.98" cy="16.29" rx="2.44" ry="4.62" fill="#06060e" transform="rotate(17 27.98 16.29)" filter="url(#b03)"/>
<path d="M21.2 30 L21.2 41.24" fill="none" stroke="#dcdce4" stroke-width="7.63" filter="url(#b05)" opacity="0.92"/>
<ellipse cx="21.2" cy="38.78" rx="10.6" ry="3.7" fill="#8c8c98" filter="url(#b1)" opacity="0.75"/>
<path d="M20.2 37.78 L11.13 40.78 M22.2 37.78 L31.27 40.78" fill="none" stroke="#dcdce4" stroke-width="1.5" filter="url(#b03)" opacity="0.9"/>
<path d="M21.2 35 L21.2 83" fill="none" stroke="#b4b4be" stroke-width="4.2" filter="url(#b05)" opacity="0.95"/>
<path d="M21.2 35 L21.2 83" fill="none" stroke="#f0f0f6" stroke-width="2.31" stroke-dasharray="1.5 1.0" opacity="0.6"/>
<path d="M14.8 37.5 L5.2 50.5" fill="none" stroke="#dcdce4" stroke-width="2.5" stroke-linecap="round" filter="url(#b03)" opacity="0.95"/>
<path d="M5.2 50.5 L7.6 33.5" fill="none" stroke="#f8f8fc" stroke-width="2.3" stroke-linecap="round" filter="url(#b03)" opacity="0.95"/>
<ellipse cx="7.6" cy="32.5" rx="1.9" ry="1.6" fill="#dcdce4" filter="url(#b03)" opacity="0.95"/>
<path d="M6.48 31.9 L5.76 29.3 M7.21 31.9 L6.97 29.3 M7.98 31.9 L8.23 29.3 M8.72 31.9 L9.44 29.3" fill="none" stroke="#dcdce4" stroke-width="0.75" stroke-linecap="round" opacity="0.95"/>
<path d="M29.2 35.8 L35.7 50" fill="none" stroke="#dcdce4" stroke-width="2.5" stroke-linecap="round" filter="url(#b03)" opacity="0.95"/>
<ellipse cx="21.2" cy="56" rx="8" ry="14" fill="#2434d8" filter="url(#b2)" opacity="0.4"/>
<g fill="#2238e0" opacity="0.56" filter="url(#w1)"><ellipse cx="27.5" cy="13" rx="2.69" ry="2.69" opacity="0.7"/><ellipse cx="21.2" cy="27" rx="4.7" ry="4.7" opacity="0.6"/><ellipse cx="21.2" cy="50.5" rx="6.72" ry="5.6" opacity="0.85"/><ellipse cx="21" cy="65" rx="2.91" ry="2.91"/><ellipse cx="22" cy="73" rx="2.69" ry="2.69"/><ellipse cx="28" cy="58" rx="2.69" ry="2.69" opacity="0.7"/><ellipse cx="16" cy="58" rx="2.69" ry="2.69" opacity="0.7"/><ellipse cx="36.4" cy="55.6" rx="3.02" ry="3.02"/></g>
<ellipse cx="21.3" cy="49.2" rx="4.6" ry="2.6" fill="#f4c44c" filter="url(#b08)" opacity="0.95"/>
<path d="M18 48.2 L24.5 49.4 M19 50.6 L24 50.8" fill="none" stroke="#f28a24" stroke-width="1.0" stroke-linecap="round" filter="url(#b03)"/>
<ellipse cx="36.4" cy="55.5" rx="2.0" ry="2.2" fill="#e21a1a" filter="url(#b03)"/>
<ellipse cx="36.4" cy="55.8" rx="0.9" ry="1.0" fill="#f08c1c" filter="url(#b03)"/>
<polygon points="44.08,75.38 40.27,63.71 42.12,63.1 37.12,58.42 35.85,65.15 37.7,64.55 41.52,76.22" fill="#fff"/>
</g>
<rect x="245.1" y="122.2" width="46.2" height="75.6" fill="#000" />
<g transform="translate(245.1 122.2)" clip-path="url(#cM)">
<path d="M21.7 40 L30.5 46 L39.3 84 L4.1 84 L12.9 46 Z" fill="#5a5a66" filter="url(#b15)" opacity="0.6"/>
<path d="M20.2 44 Q16.9 46 13.7 50.4 M23.2 44 Q26.5 46 29.7 50.4 M20.2 47.11 Q15.7 49.61 11.7 55.11 M23.2 47.11 Q27.7 49.61 31.7 55.11 M20.2 50.22 Q14.5 53.22 9.7 59.82 M23.2 50.22 Q28.9 53.22 33.7 59.82 M20.2 53.33 Q13.3 56.83 7.7 64.53 M23.2 53.33 Q30.1 56.83 35.7 64.53 M20.2 56.44 Q12.1 60.44 5.7 69.24 M23.2 56.44 Q31.3 60.44 37.7 69.24 M20.2 59.56 Q12.1 63.56 5.7 72.36 M23.2 59.56 Q31.3 63.56 37.7 72.36 M20.2 62.67 Q12.1 66.67 5.7 75.47 M23.2 62.67 Q31.3 66.67 37.7 75.47 M20.2 65.78 Q12.1 69.78 5.7 78.58 M23.2 65.78 Q31.3 69.78 37.7 78.58 M20.2 68.89 Q12.1 72.89 5.7 81.69 M23.2 68.89 Q31.3 72.89 37.7 81.69 M20.2 72 Q12.1 76 5.7 84.8 M23.2 72 Q31.3 76 37.7 84.8" fill="none" stroke="#d0d0da" stroke-width="0.6" opacity="0.62"/>
<path d="M21.70 2.00 C22.60 2.00 23.84 1.90 24.39 2.92 C24.93 3.93 24.13 6.52 24.96 8.10 C25.80 9.68 28.32 10.85 29.38 12.37 C30.44 13.90 31.20 15.52 31.30 17.25 C31.40 18.98 30.44 20.91 29.96 22.74 C29.48 24.57 29.19 26.60 28.42 28.23 C27.65 29.86 27.08 31.79 25.35 32.50 C23.62 33.21 19.78 33.21 18.05 32.50 C16.32 31.79 15.75 29.86 14.98 28.23 C14.21 26.60 13.92 24.57 13.44 22.74 C12.96 20.91 12.00 18.98 12.10 17.25 C12.20 15.52 12.96 13.90 14.02 12.37 C15.08 10.85 17.60 9.68 18.44 8.10 C19.27 6.52 18.47 3.93 19.01 2.92 C19.56 1.90 20.80 2.00 21.70 2.00Z" fill="#dcdce4" filter="url(#b05)" opacity="1"/>
<ellipse cx="21.7" cy="25.79" rx="6.53" ry="5.79" fill="#868690" filter="url(#b08)" opacity="0.9"/>
<ellipse cx="21.7" cy="25.79" rx="6.53" ry="5.79" fill="#f0f0f6" filter="url(#tex)" opacity="0.7"/>
<ellipse cx="21.7" cy="6.88" rx="2.88" ry="4.58" fill="#ffffff" filter="url(#b05)" opacity="1"/>
<ellipse cx="21.7" cy="14.81" rx="4.03" ry="4.27" fill="#fbfbff" filter="url(#b08)" opacity="0.9"/>
<ellipse cx="15.56" cy="16.95" rx="2.21" ry="4.58" fill="#06060e" transform="rotate(-17 15.56 16.95)" filter="url(#b03)"/>
<ellipse cx="27.84" cy="16.95" rx="2.21" ry="4.58" fill="#06060e" transform="rotate(17 27.84 16.95)" filter="url(#b03)"/>
<path d="M21.7 30.5 L21.7 41.65" fill="none" stroke="#dcdce4" stroke-width="6.91" filter="url(#b05)" opacity="0.92"/>
<ellipse cx="21.7" cy="39.21" rx="9.6" ry="3.66" fill="#8c8c98" filter="url(#b1)" opacity="0.75"/>
<path d="M20.7 38.21 L12.58 41.21 M22.7 38.21 L30.82 41.21" fill="none" stroke="#dcdce4" stroke-width="1.5" filter="url(#b03)" opacity="0.9"/>
<path d="M21.7 35.5 L21.7 83" fill="none" stroke="#b4b4be" stroke-width="4.2" filter="url(#b05)" opacity="0.95"/>
<path d="M21.7 35.5 L21.7 83" fill="none" stroke="#f0f0f6" stroke-width="2.31" stroke-dasharray="1.5 1.0" opacity="0.6"/>
<path d="M15.5 36.5 L6.5 50" fill="none" stroke="#dcdce4" stroke-width="2.5" stroke-linecap="round" filter="url(#b03)" opacity="0.95"/>
<path d="M6.5 50 L9.2 30.5" fill="none" stroke="#f8f8fc" stroke-width="2.3" stroke-linecap="round" filter="url(#b03)" opacity="0.95"/>
<ellipse cx="9.2" cy="29.5" rx="1.9" ry="1.6" fill="#dcdce4" filter="url(#b03)" opacity="0.95"/>
<path d="M8.08 28.9 L7.36 26.3 M8.81 28.9 L8.57 26.3 M9.58 28.9 L9.83 26.3 M10.32 28.9 L11.04 26.3" fill="none" stroke="#dcdce4" stroke-width="0.75" stroke-linecap="round" opacity="0.95"/>
<path d="M28.5 36 L37 50" fill="none" stroke="#dcdce4" stroke-width="2.5" stroke-linecap="round" filter="url(#b03)" opacity="0.95"/>
<path d="M37 50 L33.8 28.5" fill="none" stroke="#f8f8fc" stroke-width="2.3" stroke-linecap="round" filter="url(#b03)" opacity="0.95"/>
<ellipse cx="33.8" cy="27.5" rx="1.9" ry="1.6" fill="#dcdce4" filter="url(#b03)" opacity="0.95"/>
<path d="M32.68 26.9 L31.96 24.3 M33.41 26.9 L33.17 24.3 M34.18 26.9 L34.43 24.3 M34.92 26.9 L35.64 24.3" fill="none" stroke="#dcdce4" stroke-width="0.75" stroke-linecap="round" opacity="0.95"/>
<ellipse cx="21.7" cy="56" rx="9" ry="12" fill="#2434d8" filter="url(#b2)" opacity="0.38"/>
<g fill="#2238e0" opacity="0.56" filter="url(#w1)"><ellipse cx="21.7" cy="15" rx="2.91" ry="5.04" opacity="0.75"/><ellipse cx="17" cy="31" rx="3.36" ry="3.36"/><ellipse cx="25" cy="32" rx="3.14" ry="3.14"/><ellipse cx="21.5" cy="38" rx="3.14" ry="3.14" opacity="0.8"/><ellipse cx="22.5" cy="50.2" rx="3.51" ry="4.32"/><ellipse cx="22.5" cy="59.2" rx="3.65" ry="3.65"/><ellipse cx="17.5" cy="55" rx="2.69" ry="2.69"/><ellipse cx="27" cy="53" rx="2.69" ry="2.69"/><ellipse cx="15" cy="68" rx="2.69" ry="2.69"/><ellipse cx="29" cy="66" rx="2.69" ry="2.69"/><ellipse cx="19" cy="47" rx="2.46" ry="2.46"/><ellipse cx="36.4" cy="57.5" rx="5.24" ry="6.9"/><ellipse cx="37" cy="55.2" rx="2.62" ry="2.62"/><ellipse cx="35.8" cy="59.8" rx="2.62" ry="2.62"/><ellipse cx="34" cy="63" rx="2.24" ry="2.24"/></g>
<g fill="#2890e4" opacity="0.72" filter="url(#w08)"><ellipse cx="22.5" cy="50.2" rx="2.5" ry="3.07"/><ellipse cx="22.5" cy="59.2" rx="2.59" ry="2.59"/><ellipse cx="36.4" cy="57.5" rx="4.1" ry="5.4"/><ellipse cx="37" cy="55.2" rx="2.05" ry="2.05"/><ellipse cx="35.8" cy="59.8" rx="2.05" ry="2.05"/></g>
<g fill="#38d840" opacity="0.9" filter="url(#w05)"><ellipse cx="22.5" cy="50.2" rx="1.72" ry="2.11"/><ellipse cx="22.5" cy="59.2" rx="1.78" ry="1.78"/><ellipse cx="36.4" cy="57.5" rx="3.69" ry="4.85"/><ellipse cx="37" cy="55.2" rx="1.84" ry="1.84"/><ellipse cx="35.8" cy="59.8" rx="1.84" ry="1.84"/></g>
<g fill="#f0e220" opacity="0.95" filter="url(#w05)"><ellipse cx="36.4" cy="57.5" rx="2.81" ry="3.7"/><ellipse cx="37" cy="55.2" rx="1.41" ry="1.41"/><ellipse cx="35.8" cy="59.8" rx="1.41" ry="1.41"/></g>
<g fill="#f08a14" opacity="0.95" filter="url(#w03)"><ellipse cx="36.4" cy="57.5" rx="2.17" ry="2.85"/><ellipse cx="37" cy="55.2" rx="1.08" ry="1.08"/><ellipse cx="35.8" cy="59.8" rx="1.08" ry="1.08"/></g>
<g fill="#de1818" opacity="0.95" filter="url(#w03)"><ellipse cx="36.4" cy="57.5" rx="1.6" ry="2.1"/><ellipse cx="37" cy="55.2" rx="0.8" ry="0.8"/><ellipse cx="35.8" cy="59.8" rx="0.8" ry="0.8"/></g>
<polygon points="46.73,75.44 42.37,65.83 44.15,65.03 38.67,60.92 38.14,67.75 39.91,66.95 44.27,76.56" fill="#fff"/>
</g>
<rect x="297.2" y="122.2" width="46.2" height="75.6" fill="#000" />
<g transform="translate(297.2 122.2)" clip-path="url(#cM)">
<path d="M24.2 40 L32.45 46 L40.7 84 L7.7 84 L15.95 46 Z" fill="#5a5a66" filter="url(#b15)" opacity="0.6"/>
<path d="M22.7 44 Q19.7 45.88 16.7 50 M25.7 44 Q28.7 45.88 31.7 50 M22.7 47.11 Q18.57 49.45 14.82 54.61 M25.7 47.11 Q29.82 49.45 33.58 54.61 M22.7 50.22 Q17.45 53.03 12.95 59.22 M25.7 50.22 Q30.95 53.03 35.45 59.22 M22.7 53.33 Q16.32 56.61 11.07 63.83 M25.7 53.33 Q32.08 56.61 37.33 63.83 M22.7 56.44 Q15.2 60.19 9.2 68.44 M25.7 56.44 Q33.2 60.19 39.2 68.44 M22.7 59.56 Q15.2 63.31 9.2 71.56 M25.7 59.56 Q33.2 63.31 39.2 71.56 M22.7 62.67 Q15.2 66.42 9.2 74.67 M25.7 62.67 Q33.2 66.42 39.2 74.67 M22.7 65.78 Q15.2 69.53 9.2 77.78 M25.7 65.78 Q33.2 69.53 39.2 77.78 M22.7 68.89 Q15.2 72.64 9.2 80.89 M25.7 68.89 Q33.2 72.64 39.2 80.89 M22.7 72 Q15.2 75.75 9.2 84 M25.7 72 Q33.2 75.75 39.2 84" fill="none" stroke="#d0d0da" stroke-width="0.6" opacity="0.62"/>
<path d="M24.20 2.00 C25.10 2.00 26.34 1.90 26.89 2.92 C27.43 3.93 26.63 6.52 27.46 8.10 C28.30 9.68 30.82 10.85 31.88 12.37 C32.94 13.90 33.70 15.52 33.80 17.25 C33.90 18.98 32.94 20.91 32.46 22.74 C31.98 24.57 31.69 26.60 30.92 28.23 C30.15 29.86 29.58 31.79 27.85 32.50 C26.12 33.21 22.28 33.21 20.55 32.50 C18.82 31.79 18.25 29.86 17.48 28.23 C16.71 26.60 16.42 24.57 15.94 22.74 C15.46 20.91 14.50 18.98 14.60 17.25 C14.70 15.52 15.46 13.90 16.52 12.37 C17.58 10.85 20.10 9.68 20.94 8.10 C21.77 6.52 20.97 3.93 21.51 2.92 C22.06 1.90 23.30 2.00 24.20 2.00Z" fill="#dcdce4" filter="url(#b05)" opacity="1"/>
<ellipse cx="24.2" cy="25.79" rx="6.53" ry="5.79" fill="#868690" filter="url(#b08)" opacity="0.9"/>
<ellipse cx="24.2" cy="25.79" rx="6.53" ry="5.79" fill="#f0f0f6" filter="url(#tex)" opacity="0.7"/>
<ellipse cx="24.2" cy="6.88" rx="2.88" ry="4.58" fill="#ffffff" filter="url(#b05)" opacity="1"/>
<ellipse cx="24.2" cy="14.81" rx="4.03" ry="4.27" fill="#fbfbff" filter="url(#b08)" opacity="0.9"/>
<ellipse cx="18.06" cy="16.95" rx="2.21" ry="4.58" fill="#06060e" transform="rotate(-17 18.06 16.95)" filter="url(#b03)"/>
<ellipse cx="30.34" cy="16.95" rx="2.21" ry="4.58" fill="#06060e" transform="rotate(17 30.34 16.95)" filter="url(#b03)"/>
<path d="M24.2 30.5 L24.2 41.65" fill="none" stroke="#dcdce4" stroke-width="6.91" filter="url(#b05)" opacity="0.92"/>
<ellipse cx="24.2" cy="39.21" rx="9.6" ry="3.66" fill="#8c8c98" filter="url(#b1)" opacity="0.75"/>
<path d="M23.2 38.21 L15.08 41.21 M25.2 38.21 L33.32 41.21" fill="none" stroke="#dcdce4" stroke-width="1.5" filter="url(#b03)" opacity="0.9"/>
<path d="M24.2 35.5 L24.2 83" fill="none" stroke="#b4b4be" stroke-width="4.2" filter="url(#b05)" opacity="0.95"/>
<path d="M24.2 35.5 L24.2 83" fill="none" stroke="#f0f0f6" stroke-width="2.31" stroke-dasharray="1.5 1.0" opacity="0.6"/>
<path d="M17.5 36.5 L8 50" fill="none" stroke="#dcdce4" stroke-width="2.5" stroke-linecap="round" filter="url(#b03)" opacity="0.95"/>
<path d="M8 50 L11.2 29.5" fill="none" stroke="#f8f8fc" stroke-width="2.3" stroke-linecap="round" filter="url(#b03)" opacity="0.95"/>
<ellipse cx="11.2" cy="28.5" rx="1.9" ry="1.6" fill="#dcdce4" filter="url(#b03)" opacity="0.95"/>
<path d="M10.08 27.9 L9.36 25.3 M10.81 27.9 L10.57 25.3 M11.58 27.9 L11.83 25.3 M12.32 27.9 L13.04 25.3" fill="none" stroke="#dcdce4" stroke-width="0.75" stroke-linecap="round" opacity="0.95"/>
<path d="M31 36 L38 51" fill="none" stroke="#dcdce4" stroke-width="2.5" stroke-linecap="round" filter="url(#b03)" opacity="0.95"/>
<path d="M38 51 L33.5 38" fill="none" stroke="#f8f8fc" stroke-width="2.3" stroke-linecap="round" filter="url(#b03)" opacity="0.95"/>
<ellipse cx="33.5" cy="37" rx="1.9" ry="1.6" fill="#dcdce4" filter="url(#b03)" opacity="0.95"/>
<path d="M32.38 36.4 L31.66 33.8 M33.12 36.4 L32.87 33.8 M33.88 36.4 L34.13 33.8 M34.62 36.4 L35.34 33.8" fill="none" stroke="#dcdce4" stroke-width="0.75" stroke-linecap="round" opacity="0.95"/>
<ellipse cx="24.2" cy="56" rx="8" ry="12" fill="#2434d8" filter="url(#b2)" opacity="0.3"/>
<g fill="#2238e0" opacity="0.56" filter="url(#w1)"><ellipse cx="24.2" cy="15" rx="2.24" ry="3.92" opacity="0.7"/><ellipse cx="24.2" cy="35" rx="4.26" ry="2.91" opacity="0.8"/><ellipse cx="20.2" cy="48.5" rx="3.51" ry="4.32"/><ellipse cx="25.8" cy="51.8" rx="2.97" ry="2.97"/><ellipse cx="23" cy="55.5" rx="2.7" ry="2.7" opacity="0.85"/><ellipse cx="19" cy="56.5" rx="2.46" ry="2.46"/><ellipse cx="28.5" cy="56" rx="2.46" ry="2.46"/><ellipse cx="32.2" cy="66.4" rx="2.69" ry="2.69"/><ellipse cx="31" cy="69.2" rx="2.03" ry="2.03" opacity="0.85"/><ellipse cx="16" cy="69" rx="2.24" ry="2.24"/><ellipse cx="27" cy="72" rx="2.24" ry="2.24"/><ellipse cx="37.2" cy="56.6" rx="6.35" ry="6.76"/><ellipse cx="36.1" cy="55.2" rx="2.35" ry="2.35"/><ellipse cx="38.8" cy="54.8" rx="2.35" ry="2.35"/><ellipse cx="37" cy="58.8" rx="2.07" ry="2.07" opacity="0.85"/></g>
<g fill="#2890e4" opacity="0.72" filter="url(#w08)"><ellipse cx="20.2" cy="48.5" rx="2.5" ry="3.07"/><ellipse cx="25.8" cy="51.8" rx="2.11" ry="2.11"/><ellipse cx="23" cy="55.5" rx="1.92" ry="1.92" opacity="0.85"/><ellipse cx="31" cy="69.2" rx="1.44" ry="1.44" opacity="0.85"/><ellipse cx="37.2" cy="56.6" rx="4.88" ry="5.19"/><ellipse cx="36.1" cy="55.2" rx="1.84" ry="1.84"/><ellipse cx="38.8" cy="54.8" rx="1.84" ry="1.84"/><ellipse cx="37" cy="58.8" rx="1.62" ry="1.62" opacity="0.85"/></g>
<g fill="#38d840" opacity="0.9" filter="url(#w05)"><ellipse cx="20.2" cy="48.5" rx="1.72" ry="2.11"/><ellipse cx="25.8" cy="51.8" rx="1.45" ry="1.45"/><ellipse cx="23" cy="55.5" rx="1.32" ry="1.32" opacity="0.85"/><ellipse cx="31" cy="69.2" rx="0.99" ry="0.99" opacity="0.85"/><ellipse cx="37.2" cy="56.6" rx="4.28" ry="4.56"/><ellipse cx="36.1" cy="55.2" rx="1.65" ry="1.65"/><ellipse cx="38.8" cy="54.8" rx="1.65" ry="1.65"/><ellipse cx="37" cy="58.8" rx="1.46" ry="1.46" opacity="0.85"/></g>
<g fill="#f0e220" opacity="0.95" filter="url(#w05)"><ellipse cx="37.2" cy="56.6" rx="2.58" ry="2.74"/><ellipse cx="36.1" cy="55.2" rx="1.26" ry="1.26"/><ellipse cx="38.8" cy="54.8" rx="1.26" ry="1.26"/><ellipse cx="37" cy="58.8" rx="1.11" ry="1.11" opacity="0.85"/></g>
<g fill="#f08a14" opacity="0.95" filter="url(#w03)"><ellipse cx="36.1" cy="55.2" rx="0.97" ry="0.97"/><ellipse cx="38.8" cy="54.8" rx="0.97" ry="0.97"/><ellipse cx="37" cy="58.8" rx="0.85" ry="0.85" opacity="0.85"/></g>
<g fill="#de1818" opacity="0.95" filter="url(#w03)"><ellipse cx="36.1" cy="55.2" rx="0.71" ry="0.71"/><ellipse cx="38.8" cy="54.8" rx="0.71" ry="0.71"/><ellipse cx="37" cy="58.8" rx="0.63" ry="0.63" opacity="0.85"/></g>
<polygon points="45.89,75.59 42.85,66.12 44.71,65.53 39.74,60.82 38.42,67.54 40.28,66.94 43.31,76.41" fill="#fff"/>
</g>
<rect x="349.5" y="122.2" width="46.2" height="75.6" fill="#000" />
<g transform="translate(349.5 122.2)" clip-path="url(#cM)">
<ellipse cx="23" cy="40" rx="24" ry="38" fill="#10187c" filter="url(#b3)" opacity="0.32"/>
<path d="M25.2 40 L33.45 46 L41.7 84 L8.7 84 L16.95 46 Z" fill="#5a5a66" filter="url(#b15)" opacity="0.57"/>
<path d="M23.7 44 Q20.7 45.88 17.7 50 M26.7 44 Q29.7 45.88 32.7 50 M23.7 47.11 Q19.57 49.45 15.82 54.61 M26.7 47.11 Q30.82 49.45 34.58 54.61 M23.7 50.22 Q18.45 53.03 13.95 59.22 M26.7 50.22 Q31.95 53.03 36.45 59.22 M23.7 53.33 Q17.32 56.61 12.07 63.83 M26.7 53.33 Q33.08 56.61 38.33 63.83 M23.7 56.44 Q16.2 60.19 10.2 68.44 M26.7 56.44 Q34.2 60.19 40.2 68.44 M23.7 59.56 Q16.2 63.31 10.2 71.56 M26.7 59.56 Q34.2 63.31 40.2 71.56 M23.7 62.67 Q16.2 66.42 10.2 74.67 M26.7 62.67 Q34.2 66.42 40.2 74.67 M23.7 65.78 Q16.2 69.53 10.2 77.78 M26.7 65.78 Q34.2 69.53 40.2 77.78 M23.7 68.89 Q16.2 72.64 10.2 80.89 M26.7 68.89 Q34.2 72.64 40.2 80.89 M23.7 72 Q16.2 75.75 10.2 84 M26.7 72 Q34.2 75.75 40.2 84" fill="none" stroke="#d0d0da" stroke-width="0.6" opacity="0.59"/>
<path d="M25.20 1.50 C26.10 1.50 27.34 1.40 27.89 2.43 C28.43 3.46 27.63 6.10 28.46 7.70 C29.30 9.30 31.82 10.49 32.88 12.04 C33.94 13.59 34.70 15.24 34.80 17.00 C34.90 18.76 33.94 20.72 33.46 22.58 C32.98 24.44 32.69 26.51 31.92 28.16 C31.15 29.81 30.58 31.78 28.85 32.50 C27.12 33.22 23.28 33.22 21.55 32.50 C19.82 31.78 19.25 29.81 18.48 28.16 C17.71 26.51 17.42 24.44 16.94 22.58 C16.46 20.72 15.50 18.76 15.60 17.00 C15.70 15.24 16.46 13.59 17.52 12.04 C18.58 10.49 21.10 9.30 21.94 7.70 C22.77 6.10 21.97 3.46 22.51 2.43 C23.06 1.40 24.30 1.50 25.20 1.50Z" fill="#dcdce4" filter="url(#b05)" opacity="0.95"/>
<ellipse cx="25.2" cy="25.68" rx="6.53" ry="5.89" fill="#868690" filter="url(#b08)" opacity="0.85"/>
<ellipse cx="25.2" cy="25.68" rx="6.53" ry="5.89" fill="#f0f0f6" filter="url(#tex)" opacity="0.66"/>
<ellipse cx="25.2" cy="6.46" rx="2.88" ry="4.65" fill="#ffffff" filter="url(#b05)" opacity="0.95"/>
<ellipse cx="25.2" cy="14.52" rx="4.03" ry="4.34" fill="#fbfbff" filter="url(#b08)" opacity="0.85"/>
<ellipse cx="19.06" cy="16.69" rx="2.21" ry="4.65" fill="#06060e" transform="rotate(-17 19.06 16.69)" filter="url(#b03)"/>
<ellipse cx="31.34" cy="16.69" rx="2.21" ry="4.65" fill="#06060e" transform="rotate(17 31.34 16.69)" filter="url(#b03)"/>
<path d="M25.2 30.5 L25.2 41.8" fill="none" stroke="#dcdce4" stroke-width="6.91" filter="url(#b05)" opacity="0.87"/>
<ellipse cx="25.2" cy="39.32" rx="9.6" ry="3.72" fill="#8c8c98" filter="url(#b1)" opacity="0.71"/>
<path d="M24.2 38.32 L16.08 41.32 M26.2 38.32 L34.32 41.32" fill="none" stroke="#dcdce4" stroke-width="1.5" filter="url(#b03)" opacity="0.85"/>
<path d="M25.2 35.5 L25.2 83" fill="none" stroke="#b4b4be" stroke-width="4.2" filter="url(#b05)" opacity="0.9"/>
<path d="M25.2 35.5 L25.2 83" fill="none" stroke="#f0f0f6" stroke-width="2.31" stroke-dasharray="1.5 1.0" opacity="0.57"/>
<path d="M17.5 36 L7 53" fill="none" stroke="#dcdce4" stroke-width="2.5" stroke-linecap="round" filter="url(#b03)" opacity="0.9"/>
<path d="M32.5 36.5 L38.5 50" fill="none" stroke="#dcdce4" stroke-width="2.5" stroke-linecap="round" filter="url(#b03)" opacity="0.9"/>
<path d="M38.5 50 L39.8 31.5" fill="none" stroke="#f8f8fc" stroke-width="2.3" stroke-linecap="round" filter="url(#b03)" opacity="0.9"/>
<ellipse cx="39.8" cy="30.5" rx="1.9" ry="1.6" fill="#dcdce4" filter="url(#b03)" opacity="0.9"/>
<path d="M38.68 29.9 L37.96 27.3 M39.41 29.9 L39.17 27.3 M40.18 29.9 L40.43 27.3 M40.92 29.9 L41.64 27.3" fill="none" stroke="#dcdce4" stroke-width="0.75" stroke-linecap="round" opacity="0.9"/>
<ellipse cx="25.2" cy="20.1" rx="9.6" ry="15.5" fill="#2838d8" filter="url(#b15)" opacity="0.15"/>
<g fill="#2238e0" opacity="0.56" filter="url(#w1)"><ellipse cx="15" cy="31" rx="3.81" ry="3.81" opacity="0.7"/><ellipse cx="25.2" cy="38" rx="4.26" ry="2.69"/><ellipse cx="8" cy="36" rx="2.69" ry="2.69" opacity="0.6"/><ellipse cx="42" cy="42" rx="2.69" ry="2.69" opacity="0.6"/><ellipse cx="5" cy="60" rx="2.69" ry="2.69" opacity="0.6"/><ellipse cx="25" cy="60" rx="3.14" ry="3.14"/><ellipse cx="24" cy="50" rx="2.69" ry="2.69"/><ellipse cx="28" cy="64" rx="2.56" ry="2.56" opacity="0.8"/><ellipse cx="20" cy="70" rx="2.46" ry="2.46" opacity="0.7"/><ellipse cx="12" cy="20" rx="2.69" ry="2.69" opacity="0.5"/><ellipse cx="40" cy="16" rx="2.69" ry="2.69" opacity="0.5"/><ellipse cx="35" cy="54.3" rx="8.06" ry="6.72"/><ellipse cx="36.8" cy="52.3" rx="5.46" ry="3.38" opacity="0.9"/><ellipse cx="34.6" cy="54.4" rx="5.8" ry="4.42"/><ellipse cx="33.6" cy="54.8" rx="2.62" ry="2.62"/><ellipse cx="36.6" cy="53.6" rx="2.21" ry="2.21"/><ellipse cx="39" cy="50.5" rx="2.56" ry="2.56"/><ellipse cx="40" cy="56.5" rx="2.56" ry="2.56"/><ellipse cx="33" cy="58.5" rx="2.7" ry="2.7"/></g>
<g fill="#2890e4" opacity="0.72" filter="url(#w08)"><ellipse cx="28" cy="64" rx="1.4" ry="1.4" opacity="0.8"/><ellipse cx="36.8" cy="52.3" rx="4.2" ry="2.6" opacity="0.9"/><ellipse cx="34.6" cy="54.4" rx="4.45" ry="3.39"/><ellipse cx="33.6" cy="54.8" rx="2.05" ry="2.05"/><ellipse cx="36.6" cy="53.6" rx="1.73" ry="1.73"/><ellipse cx="39" cy="50.5" rx="1.4" ry="1.4"/><ellipse cx="40" cy="56.5" rx="1.4" ry="1.4"/><ellipse cx="33" cy="58.5" rx="1.92" ry="1.92"/></g>
<g fill="#38d840" opacity="0.9" filter="url(#w05)"><ellipse cx="34.6" cy="54.4" rx="3.91" ry="2.98"/><ellipse cx="33.6" cy="54.8" rx="1.84" ry="1.84"/><ellipse cx="36.6" cy="53.6" rx="1.55" ry="1.55"/><ellipse cx="33" cy="58.5" rx="1.32" ry="1.32"/></g>
<g fill="#f0e220" opacity="0.95" filter="url(#w05)"><ellipse cx="34.6" cy="54.4" rx="2.35" ry="1.79"/><ellipse cx="33.6" cy="54.8" rx="1.41" ry="1.41"/><ellipse cx="36.6" cy="53.6" rx="1.18" ry="1.18"/></g>
<g fill="#f08a14" opacity="0.95" filter="url(#w03)"><ellipse cx="33.6" cy="54.8" rx="1.08" ry="1.08"/><ellipse cx="36.6" cy="53.6" rx="0.91" ry="0.91"/></g>
<g fill="#de1818" opacity="0.95" filter="url(#w03)"><ellipse cx="33.6" cy="54.8" rx="0.8" ry="0.8"/><ellipse cx="36.6" cy="53.6" rx="0.67" ry="0.67"/></g>
<g fill="#f4f8ff" opacity="0.95" filter="url(#w05)"><ellipse cx="36.8" cy="52.3" rx="2.73" ry="1.69" opacity="0.9"/></g>
<polygon points="43.78,73.16 39.92,62.06 41.77,61.42 36.68,56.84 35.53,63.59 37.37,62.95 41.22,74.04" fill="#fff"/>
</g>
<rect x="35.9" y="202" width="46.2" height="40.8" fill="#000" />
<g transform="translate(35.9 202)" clip-path="url(#cT)">
<ellipse cx="39.3" cy="15.5" rx="6" ry="8.5" fill="#626290" filter="url(#b08)"/>
<ellipse cx="19.3" cy="20.5" rx="16.8" ry="19.2" fill="#70708e" filter="url(#b05)"/>
<ellipse cx="19.3" cy="20.7" rx="13.4" ry="15.6" fill="#0c1a8c" filter="url(#b08)"/>
<ellipse cx="19.3" cy="20.7" rx="14.4" ry="16.6" fill="none" stroke="#dcdcf4" stroke-width="1.2" stroke-dasharray="1.2 1.8" opacity="0.8" filter="url(#b03)"/>
<g fill="#2238e0" opacity="0.56" filter="url(#w1)"><ellipse cx="14" cy="21" rx="6.72" ry="10.08"/><ellipse cx="25" cy="21" rx="6.16" ry="10.08"/><ellipse cx="19" cy="32" rx="10.08" ry="5.6"/><ellipse cx="17" cy="14" rx="4.86" ry="4.05"/><ellipse cx="23" cy="17.8" rx="5.38" ry="5.8"/><ellipse cx="20.8" cy="21.8" rx="4.05" ry="4.05"/><ellipse cx="14" cy="17.5" rx="3.24" ry="3.24" opacity="0.85"/><ellipse cx="11" cy="26" rx="3.33" ry="3.33" opacity="0.8"/><ellipse cx="28" cy="27" rx="3.33" ry="3.33" opacity="0.8"/><ellipse cx="18.5" cy="30.8" rx="9.72" ry="7.02"/><ellipse cx="17.8" cy="30.6" rx="7.73" ry="5.24"/><ellipse cx="22.5" cy="32" rx="3.59" ry="3.59"/><ellipse cx="38.8" cy="16" rx="4.7" ry="6.72"/><ellipse cx="38.6" cy="16.3" rx="4.14" ry="3.86"/><ellipse cx="34" cy="25" rx="3.81" ry="3.81"/></g>
<g fill="#2890e4" opacity="0.72" filter="url(#w08)"><ellipse cx="17" cy="14" rx="3.46" ry="2.88"/><ellipse cx="23" cy="17.8" rx="4.13" ry="4.45"/><ellipse cx="20.8" cy="21.8" rx="2.88" ry="2.88"/><ellipse cx="14" cy="17.5" rx="2.3" ry="2.3" opacity="0.85"/><ellipse cx="11" cy="26" rx="1.82" ry="1.82" opacity="0.8"/><ellipse cx="28" cy="27" rx="1.82" ry="1.82" opacity="0.8"/><ellipse cx="18.5" cy="30.8" rx="6.91" ry="4.99"/><ellipse cx="17.8" cy="30.6" rx="6.05" ry="4.1"/><ellipse cx="22.5" cy="32" rx="2.76" ry="2.76"/><ellipse cx="38.6" cy="16.3" rx="3.18" ry="2.97"/></g>
<g fill="#38d840" opacity="0.9" filter="url(#w05)"><ellipse cx="17" cy="14" rx="2.38" ry="1.98"/><ellipse cx="23" cy="17.8" rx="3.63" ry="3.91"/><ellipse cx="20.8" cy="21.8" rx="1.98" ry="1.98"/><ellipse cx="14" cy="17.5" rx="1.58" ry="1.58" opacity="0.85"/><ellipse cx="18.5" cy="30.8" rx="4.75" ry="3.43"/><ellipse cx="17.8" cy="30.6" rx="5.43" ry="3.69"/><ellipse cx="22.5" cy="32" rx="2.42" ry="2.42"/><ellipse cx="38.6" cy="16.3" rx="2.79" ry="2.6"/></g>
<g fill="#f0e220" opacity="0.95" filter="url(#w05)"><ellipse cx="23" cy="17.8" rx="2.18" ry="2.35"/><ellipse cx="17.8" cy="30.6" rx="4.14" ry="2.81"/><ellipse cx="22.5" cy="32" rx="1.46" ry="1.46"/><ellipse cx="38.6" cy="16.3" rx="1.68" ry="1.57"/></g>
<g fill="#f08a14" opacity="0.95" filter="url(#w03)"><ellipse cx="17.8" cy="30.6" rx="3.19" ry="2.17"/></g>
<g fill="#de1818" opacity="0.95" filter="url(#w03)"><ellipse cx="17.8" cy="30.6" rx="2.35" ry="1.6"/></g>
<polygon points="47.79,40.21 44.25,28.3 46.12,27.75 41.24,22.94 39.79,29.63 41.66,29.07 45.21,40.99" fill="#fff"/>
</g>
<rect x="88.2" y="202" width="46.2" height="40.8" fill="#000" />
<g transform="translate(88.2 202)" clip-path="url(#cT)">
<ellipse cx="39" cy="20.5" rx="5.2" ry="6.5" fill="#7a7a7a" filter="url(#b05)"/>
<ellipse cx="19.5" cy="22.3" rx="17" ry="15.9" fill="#7a7a7a" filter="url(#b05)"/>
<ellipse cx="19.5" cy="22.6" rx="15.4" ry="14.1" fill="#565656" filter="url(#b05)"/>
<ellipse cx="39" cy="20.5" rx="3.7" ry="5" fill="#565656" filter="url(#b05)"/>
<ellipse cx="19.5" cy="22.8" rx="12.8" ry="11.7" fill="none" stroke="#cfcfcf" stroke-width="1.0" stroke-dasharray="1.1 1.6" opacity="0.7" filter="url(#b03)"/>
<ellipse cx="19.5" cy="11.4" rx="2.2" ry="1.6" fill="#bdbdbd" filter="url(#b03)" opacity="0.85"/>
<ellipse cx="12.5" cy="18.5" rx="4" ry="3.5" fill="#1a1a1a" filter="url(#b08)" opacity="0.8"/>
<ellipse cx="27.5" cy="18.5" rx="4" ry="3.5" fill="#1a1a1a" filter="url(#b08)" opacity="0.8"/>
<ellipse cx="21.5" cy="12.5" rx="4.5" ry="3" fill="#9a9a9a" filter="url(#b05)"/>
<g fill="#2238e0" opacity="0.56" filter="url(#w1)"><ellipse cx="20.5" cy="24.5" rx="14.56" ry="10.08"/><ellipse cx="19.9" cy="20" rx="5.13" ry="4.59"/><ellipse cx="13" cy="25" rx="4.59" ry="4.59"/><ellipse cx="20.7" cy="25.6" rx="14.49" ry="8.28"/><ellipse cx="21.4" cy="28.2" rx="10.49" ry="4.14" transform="rotate(-8 21.4 28.2)"/><ellipse cx="15.5" cy="27" rx="4.14" ry="3.04"/><ellipse cx="28.5" cy="25" rx="4.14" ry="4.14"/><ellipse cx="39.1" cy="20.5" rx="4.69" ry="5.24"/></g>
<g fill="#2890e4" opacity="0.72" filter="url(#w08)"><ellipse cx="19.9" cy="20" rx="3.65" ry="3.26"/><ellipse cx="13" cy="25" rx="3.26" ry="3.26"/><ellipse cx="20.7" cy="25.6" rx="11.13" ry="6.36"/><ellipse cx="21.4" cy="28.2" rx="8.21" ry="3.24" transform="rotate(-8 21.4 28.2)"/><ellipse cx="15.5" cy="27" rx="3.24" ry="2.38"/><ellipse cx="28.5" cy="25" rx="3.18" ry="3.18"/><ellipse cx="39.1" cy="20.5" rx="3.6" ry="4.03"/></g>
<g fill="#38d840" opacity="0.9" filter="url(#w05)"><ellipse cx="19.9" cy="20" rx="2.51" ry="2.24"/><ellipse cx="13" cy="25" rx="2.24" ry="2.24"/><ellipse cx="20.7" cy="25.6" rx="9.77" ry="5.58"/><ellipse cx="21.4" cy="28.2" rx="7.37" ry="2.91" transform="rotate(-8 21.4 28.2)"/><ellipse cx="15.5" cy="27" rx="2.91" ry="2.13"/><ellipse cx="28.5" cy="25" rx="2.79" ry="2.79"/><ellipse cx="39.1" cy="20.5" rx="3.16" ry="3.53"/></g>
<g fill="#f0e220" opacity="0.95" filter="url(#w05)"><ellipse cx="20.7" cy="25.6" rx="5.88" ry="3.36"/><ellipse cx="21.4" cy="28.2" rx="5.62" ry="2.22" transform="rotate(-8 21.4 28.2)"/><ellipse cx="15.5" cy="27" rx="2.22" ry="1.63"/><ellipse cx="28.5" cy="25" rx="1.68" ry="1.68"/><ellipse cx="39.1" cy="20.5" rx="1.9" ry="2.13"/></g>
<g fill="#f08a14" opacity="0.95" filter="url(#w03)"><ellipse cx="21.4" cy="28.2" rx="4.33" ry="1.71" transform="rotate(-8 21.4 28.2)"/><ellipse cx="15.5" cy="27" rx="1.71" ry="1.25"/></g>
<g fill="#de1818" opacity="0.95" filter="url(#w03)"><ellipse cx="21.4" cy="28.2" rx="3.19" ry="1.26" transform="rotate(-8 21.4 28.2)"/><ellipse cx="15.5" cy="27" rx="1.26" ry="0.92"/></g>
<polygon points="47.65,40.69 43.07,29.42 44.88,28.68 39.56,24.37 38.76,31.17 40.57,30.43 45.15,41.71" fill="#fff"/>
</g>
<rect x="140.5" y="202" width="46.2" height="40.8" fill="#000" />
<g transform="translate(140.5 202)" clip-path="url(#cT)">
<ellipse cx="39" cy="19.5" rx="6.2" ry="8.8" fill="#7a7a7a" filter="url(#b05)"/>
<ellipse cx="18.7" cy="20.8" rx="15.9" ry="17.4" fill="#7a7a7a" filter="url(#b05)"/>
<ellipse cx="18.7" cy="21.1" rx="14.3" ry="15.6" fill="#565656" filter="url(#b05)"/>
<ellipse cx="39" cy="19.5" rx="4.7" ry="7.3" fill="#565656" filter="url(#b05)"/>
<ellipse cx="18.7" cy="21.3" rx="11.7" ry="13.2" fill="none" stroke="#cfcfcf" stroke-width="1.0" stroke-dasharray="1.1 1.6" opacity="0.7" filter="url(#b03)"/>
<ellipse cx="18.7" cy="8.4" rx="2.2" ry="1.6" fill="#bdbdbd" filter="url(#b03)" opacity="0.85"/>
<ellipse cx="28.5" cy="16" rx="3.5" ry="4.5" fill="#151515" filter="url(#b08)" opacity="0.85"/>
<ellipse cx="8.5" cy="16" rx="2.5" ry="4" fill="#151515" filter="url(#b08)" opacity="0.8"/>
<ellipse cx="20" cy="9.5" rx="4.5" ry="3" fill="#8a8a8a" filter="url(#b05)" opacity="0.9"/>
<g fill="#2238e0" opacity="0.56" filter="url(#w1)"><ellipse cx="19" cy="23.5" rx="15.12" ry="13.44"/><ellipse cx="16.8" cy="24.8" rx="14.35" ry="13.25"/><ellipse cx="16.4" cy="17" rx="5.13" ry="5.13"/><ellipse cx="22.5" cy="25.4" rx="6.35" ry="7.18" opacity="0.92"/><ellipse cx="14.2" cy="26.4" rx="5.8" ry="4.42" opacity="0.9"/><ellipse cx="10" cy="27" rx="3.51" ry="3.51"/><ellipse cx="38.6" cy="18.6" rx="5.11" ry="6.07"/><ellipse cx="38.9" cy="18.2" rx="2.48" ry="2.48"/><ellipse cx="36" cy="28" rx="3.81" ry="3.81"/></g>
<g fill="#2890e4" opacity="0.72" filter="url(#w08)"><ellipse cx="16.8" cy="24.8" rx="11.02" ry="10.18"/><ellipse cx="16.4" cy="17" rx="3.65" ry="3.65"/><ellipse cx="22.5" cy="25.4" rx="4.97" ry="5.62" opacity="0.92"/><ellipse cx="14.2" cy="26.4" rx="4.54" ry="3.46" opacity="0.9"/><ellipse cx="10" cy="27" rx="2.5" ry="2.5"/><ellipse cx="38.6" cy="18.6" rx="4" ry="4.75"/><ellipse cx="38.9" cy="18.2" rx="1.94" ry="1.94"/></g>
<g fill="#38d840" opacity="0.9" filter="url(#w05)"><ellipse cx="16.8" cy="24.8" rx="9.67" ry="8.93"/><ellipse cx="16.4" cy="17" rx="2.51" ry="2.51"/><ellipse cx="22.5" cy="25.4" rx="4.46" ry="5.04" opacity="0.92"/><ellipse cx="14.2" cy="26.4" rx="4.07" ry="3.1" opacity="0.9"/><ellipse cx="10" cy="27" rx="1.72" ry="1.72"/><ellipse cx="38.6" cy="18.6" rx="3.59" ry="4.27"/><ellipse cx="38.9" cy="18.2" rx="1.75" ry="1.75"/></g>
<g fill="#f0e220" opacity="0.95" filter="url(#w05)"><ellipse cx="16.8" cy="24.8" rx="5.82" ry="5.38"/><ellipse cx="22.5" cy="25.4" rx="3.4" ry="3.85" opacity="0.92"/><ellipse cx="14.2" cy="26.4" rx="3.11" ry="2.37" opacity="0.9"/><ellipse cx="38.6" cy="18.6" rx="2.74" ry="3.26"/><ellipse cx="38.9" cy="18.2" rx="1.33" ry="1.33"/></g>
<g fill="#f08a14" opacity="0.95" filter="url(#w03)"><ellipse cx="22.5" cy="25.4" rx="2.62" ry="2.96" opacity="0.92"/><ellipse cx="14.2" cy="26.4" rx="2.39" ry="1.82" opacity="0.9"/><ellipse cx="38.6" cy="18.6" rx="2.11" ry="2.51"/><ellipse cx="38.9" cy="18.2" rx="1.03" ry="1.03"/></g>
<g fill="#de1818" opacity="0.95" filter="url(#w03)"><ellipse cx="22.5" cy="25.4" rx="1.93" ry="2.18" opacity="0.92"/><ellipse cx="14.2" cy="26.4" rx="1.76" ry="1.34" opacity="0.9"/><ellipse cx="38.6" cy="18.6" rx="1.55" ry="1.85"/><ellipse cx="38.9" cy="18.2" rx="0.76" ry="0.76"/></g>
<polygon points="47.59,40.8 44.4,30.47 46.26,29.9 41.33,25.14 39.95,31.85 41.82,31.27 45.01,41.6" fill="#fff"/>
</g>
<rect x="192.8" y="202" width="46.2" height="40.8" fill="#000" />
<g transform="translate(192.8 202)" clip-path="url(#cT)">
<ellipse cx="38" cy="19.3" rx="6.2" ry="10.6" fill="#7a7a7a" filter="url(#b05)"/>
<ellipse cx="18.8" cy="20.8" rx="16.2" ry="17.4" fill="#7a7a7a" filter="url(#b05)"/>
<ellipse cx="18.8" cy="21.1" rx="14.6" ry="15.6" fill="#52525e" filter="url(#b05)"/>
<ellipse cx="38" cy="19.3" rx="4.7" ry="9.1" fill="#52525e" filter="url(#b05)"/>
<ellipse cx="18.8" cy="21.3" rx="12" ry="13.2" fill="none" stroke="#cfcfcf" stroke-width="1.0" stroke-dasharray="1.1 1.6" opacity="0.7" filter="url(#b03)"/>
<ellipse cx="18.8" cy="8.4" rx="2.2" ry="1.6" fill="#bdbdbd" filter="url(#b03)" opacity="0.85"/>
<ellipse cx="22.5" cy="13" rx="3" ry="3.5" fill="#10102a" filter="url(#b08)" opacity="0.8"/>
<ellipse cx="38.4" cy="17" rx="5" ry="6.6" fill="#f0f0ff" filter="url(#b05)" opacity="0.9"/>
<g fill="#2238e0" opacity="0.56" filter="url(#w1)"><ellipse cx="18.5" cy="21.5" rx="14.56" ry="14"/><ellipse cx="33.5" cy="26.1" rx="4.32" ry="5.4"/><ellipse cx="12" cy="17.5" rx="3.84" ry="3.84"/><ellipse cx="16.6" cy="27.6" rx="5.8" ry="4.97"/><ellipse cx="16.2" cy="27.8" rx="2.76" ry="2.76" opacity="0.85"/><ellipse cx="22.2" cy="23" rx="6.21" ry="6.75"/><ellipse cx="20" cy="31.5" rx="4.05" ry="4.05"/><ellipse cx="27" cy="30" rx="3.51" ry="3.51"/><ellipse cx="9.5" cy="25.5" rx="3.33" ry="3.33"/><ellipse cx="38.3" cy="17" rx="5.93" ry="8"/></g>
<g fill="#2890e4" opacity="0.72" filter="url(#w08)"><ellipse cx="33.5" cy="26.1" rx="3.07" ry="3.84"/><ellipse cx="12" cy="17.5" rx="2.1" ry="2.1"/><ellipse cx="16.6" cy="27.6" rx="4.45" ry="3.82"/><ellipse cx="16.2" cy="27.8" rx="2.16" ry="2.16" opacity="0.85"/><ellipse cx="22.2" cy="23" rx="4.42" ry="4.8"/><ellipse cx="20" cy="31.5" rx="2.88" ry="2.88"/><ellipse cx="27" cy="30" rx="2.5" ry="2.5"/><ellipse cx="9.5" cy="25.5" rx="1.82" ry="1.82"/><ellipse cx="38.3" cy="17" rx="4.64" ry="6.26"/></g>
<g fill="#38d840" opacity="0.9" filter="url(#w05)"><ellipse cx="33.5" cy="26.1" rx="2.11" ry="2.64"/><ellipse cx="16.6" cy="27.6" rx="3.91" ry="3.35"/><ellipse cx="16.2" cy="27.8" rx="1.94" ry="1.94" opacity="0.85"/><ellipse cx="22.2" cy="23" rx="3.04" ry="3.3"/><ellipse cx="20" cy="31.5" rx="1.98" ry="1.98"/><ellipse cx="27" cy="30" rx="1.72" ry="1.72"/><ellipse cx="38.3" cy="17" rx="4.17" ry="5.63"/></g>
<g fill="#f0e220" opacity="0.95" filter="url(#w05)"><ellipse cx="16.6" cy="27.6" rx="2.35" ry="2.02"/><ellipse cx="16.2" cy="27.8" rx="1.48" ry="1.48" opacity="0.85"/><ellipse cx="38.3" cy="17" rx="3.18" ry="4.29"/></g>
<g fill="#f08a14" opacity="0.95" filter="url(#w03)"><ellipse cx="16.2" cy="27.8" rx="1.14" ry="1.14" opacity="0.85"/><ellipse cx="38.3" cy="17" rx="2.45" ry="3.31"/></g>
<g fill="#de1818" opacity="0.95" filter="url(#w03)"><ellipse cx="16.2" cy="27.8" rx="0.84" ry="0.84" opacity="0.85"/><ellipse cx="38.3" cy="17" rx="1.81" ry="2.44"/></g>
<ellipse cx="38.3" cy="17.0" rx="3.0" ry="4.2" fill="#dc1a1a" filter="url(#b05)"/>
<polygon points="47.17,38.45 43.36,27.57 45.2,26.92 40.1,22.35 38.97,29.1 40.81,28.46 44.63,39.35" fill="#fff"/>
</g>
<rect x="245.1" y="202" width="46.2" height="40.8" fill="#000" />
<g transform="translate(245.1 202)" clip-path="url(#cT)">
<ellipse cx="36" cy="18.5" rx="5.8" ry="9.8" fill="#7a7a7a" filter="url(#b05)"/>
<ellipse cx="18.6" cy="19.7" rx="17" ry="18.5" fill="#7a7a7a" filter="url(#b05)"/>
<ellipse cx="18.6" cy="20" rx="15.4" ry="16.7" fill="#585858" filter="url(#b05)"/>
<ellipse cx="36" cy="18.5" rx="4.3" ry="8.3" fill="#585858" filter="url(#b05)"/>
<ellipse cx="18.6" cy="20.2" rx="12.8" ry="14.3" fill="none" stroke="#cfcfcf" stroke-width="1.0" stroke-dasharray="1.1 1.6" opacity="0.7" filter="url(#b03)"/>
<ellipse cx="18.6" cy="6.2" rx="2.2" ry="1.6" fill="#bdbdbd" filter="url(#b03)" opacity="0.85"/>
<ellipse cx="10.7" cy="16.3" rx="5.3" ry="8" fill="#060606" filter="url(#b05)" opacity="0.95"/>
<ellipse cx="22.8" cy="15.5" rx="5" ry="7.5" fill="#060606" filter="url(#b05)" opacity="0.95"/>
<ellipse cx="17.5" cy="7.5" rx="2.6" ry="1.8" fill="#c0c0c0" filter="url(#b03)"/>
<ellipse cx="18.3" cy="30" rx="9.5" ry="5.8" fill="#4a4ab0" filter="url(#b1)" opacity="0.85"/>
<g fill="#2238e0" opacity="0.56" filter="url(#w1)"><ellipse cx="9.2" cy="20.8" rx="4.48" ry="4.48"/><ellipse cx="12" cy="24" rx="3.14" ry="3.14"/><ellipse cx="27" cy="27" rx="3.81" ry="3.81"/><ellipse cx="31.5" cy="27" rx="3.14" ry="3.14"/><ellipse cx="33" cy="31" rx="2.69" ry="2.69" opacity="0.8"/><ellipse cx="18.3" cy="30" rx="4.86" ry="5.4"/><ellipse cx="33.6" cy="17" rx="5.11" ry="5.38"/></g>
<g fill="#2890e4" opacity="0.72" filter="url(#w08)"><ellipse cx="18.3" cy="30" rx="3.46" ry="3.84"/><ellipse cx="33.6" cy="17" rx="4" ry="4.21"/></g>
<g fill="#38d840" opacity="0.9" filter="url(#w05)"><ellipse cx="18.3" cy="30" rx="2.38" ry="2.64"/><ellipse cx="33.6" cy="17" rx="3.59" ry="3.78"/></g>
<g fill="#f0e220" opacity="0.95" filter="url(#w05)"><ellipse cx="33.6" cy="17" rx="2.74" ry="2.89"/></g>
<g fill="#f08a14" opacity="0.95" filter="url(#w03)"><ellipse cx="33.6" cy="17" rx="2.11" ry="2.22"/></g>
<g fill="#de1818" opacity="0.95" filter="url(#w03)"><ellipse cx="33.6" cy="17" rx="1.55" ry="1.64"/></g>
<polygon points="43.68,40.78 39.37,27.63 41.22,27.02 36.22,22.34 34.95,29.07 36.81,28.47 41.12,41.62" fill="#fff"/>
</g>
<rect x="297.2" y="202" width="46.2" height="40.8" fill="#000" />
<g transform="translate(297.2 202)" clip-path="url(#cT)">
<ellipse cx="38.5" cy="16.5" rx="5.4" ry="9.8" fill="#7a7a7a" filter="url(#b05)"/>
<ellipse cx="20.8" cy="20" rx="16.2" ry="17.4" fill="#7a7a7a" filter="url(#b05)"/>
<ellipse cx="20.8" cy="20.3" rx="14.6" ry="15.6" fill="#5a5a5a" filter="url(#b05)"/>
<ellipse cx="38.5" cy="16.5" rx="3.9" ry="8.3" fill="#5a5a5a" filter="url(#b05)"/>
<ellipse cx="20.8" cy="20.5" rx="12" ry="13.2" fill="none" stroke="#cfcfcf" stroke-width="1.0" stroke-dasharray="1.1 1.6" opacity="0.7" filter="url(#b03)"/>
<ellipse cx="20.8" cy="7.6" rx="2.2" ry="1.6" fill="#bdbdbd" filter="url(#b03)" opacity="0.85"/>
<ellipse cx="4.5" cy="21" rx="3.5" ry="4.8" fill="#8e8e8e" filter="url(#b08)" opacity="0.9"/>
<ellipse cx="15.1" cy="17.8" rx="4.5" ry="6.5" fill="#080808" filter="url(#b05)" opacity="0.95"/>
<ellipse cx="27.2" cy="17" rx="4" ry="6" fill="#080808" filter="url(#b05)" opacity="0.95"/>
<ellipse cx="21" cy="8.2" rx="2.6" ry="1.8" fill="#c0c0c0" filter="url(#b03)"/>
<ellipse cx="19.5" cy="28.5" rx="8.5" ry="5.5" fill="#4a4ab0" filter="url(#b1)" opacity="0.7"/>
<g fill="#2238e0" opacity="0.56" filter="url(#w1)"><ellipse cx="18.9" cy="27.6" rx="6.27" ry="5.6"/><ellipse cx="24.1" cy="20.8" rx="3.84" ry="3.84" opacity="0.9"/><ellipse cx="26" cy="28" rx="3.58" ry="3.58"/><ellipse cx="12" cy="25" rx="2.69" ry="2.69" opacity="0.8"/><ellipse cx="38" cy="15.2" rx="4.69" ry="4.97"/></g>
<g fill="#2890e4" opacity="0.72" filter="url(#w08)"><ellipse cx="24.1" cy="20.8" rx="2.1" ry="2.1" opacity="0.9"/><ellipse cx="38" cy="15.2" rx="3.67" ry="3.89"/></g>
<g fill="#38d840" opacity="0.9" filter="url(#w05)"><ellipse cx="38" cy="15.2" rx="3.3" ry="3.49"/></g>
<g fill="#f0e220" opacity="0.95" filter="url(#w05)"><ellipse cx="38" cy="15.2" rx="2.52" ry="2.66"/></g>
<g fill="#f08a14" opacity="0.95" filter="url(#w03)"><ellipse cx="38" cy="15.2" rx="1.94" ry="2.05"/></g>
<g fill="#de1818" opacity="0.95" filter="url(#w03)"><ellipse cx="38" cy="15.2" rx="1.43" ry="1.51"/></g>
<polygon points="46.68,36.37 42.91,25.2 44.76,24.58 39.71,19.95 38.5,26.69 40.35,26.06 44.12,37.23" fill="#fff"/>
</g>
<rect x="349.5" y="202" width="46.2" height="40.8" fill="#000" />
<g transform="translate(349.5 202)" clip-path="url(#cT)">
<ellipse cx="39.5" cy="19" rx="8.5" ry="13.8" fill="#5c5c9c" filter="url(#b08)"/>
<ellipse cx="16" cy="21.6" rx="13.9" ry="17.3" fill="#7a7a7a" filter="url(#b05)"/>
<ellipse cx="16" cy="21.9" rx="12.3" ry="15.5" fill="#5e5e5e" filter="url(#b05)"/>
<ellipse cx="16" cy="22.1" rx="9.7" ry="13.1" fill="none" stroke="#cfcfcf" stroke-width="1.0" stroke-dasharray="1.1 1.6" opacity="0.7" filter="url(#b03)"/>
<ellipse cx="16" cy="9.3" rx="2.2" ry="1.6" fill="#bdbdbd" filter="url(#b03)" opacity="0.85"/>
<ellipse cx="11" cy="22.6" rx="5.3" ry="8.8" fill="#16162c" filter="url(#b08)" opacity="0.9"/>
<ellipse cx="22.4" cy="21.8" rx="4.4" ry="8" fill="#16162c" filter="url(#b08)" opacity="0.9"/>
<ellipse cx="16.5" cy="12.5" rx="2.8" ry="4.5" fill="#8a8aa4" filter="url(#b08)" opacity="0.8"/>
<ellipse cx="37" cy="21" rx="1.8" ry="1.6" fill="#4a4a58" filter="url(#b05)"/>
<g fill="#2238e0" opacity="0.56" filter="url(#w1)"><ellipse cx="10.5" cy="22" rx="5.15" ry="8.4"/><ellipse cx="22.5" cy="23" rx="4.48" ry="7.84"/><ellipse cx="17.5" cy="31" rx="4.1" ry="4.1" opacity="0.8"/><ellipse cx="16" cy="9" rx="2.91" ry="2.91"/><ellipse cx="7" cy="13" rx="2.46" ry="2.46" opacity="0.8"/><ellipse cx="38" cy="22" rx="9.52" ry="12.32" opacity="0.7"/><ellipse cx="33.8" cy="13.7" rx="7.97" ry="7.97"/><ellipse cx="33.4" cy="11.2" rx="3.59" ry="3.59"/><ellipse cx="31.3" cy="16.6" rx="3.59" ry="3.59"/><ellipse cx="36.3" cy="15.4" rx="3.73" ry="3.73" opacity="0.9"/><ellipse cx="38.5" cy="18.5" rx="2.97" ry="2.97"/><ellipse cx="30.5" cy="12.5" rx="2.7" ry="2.7"/></g>
<g fill="#2890e4" opacity="0.72" filter="url(#w08)"><ellipse cx="17.5" cy="31" rx="2.24" ry="2.24" opacity="0.8"/><ellipse cx="33.8" cy="13.7" rx="5.66" ry="5.66"/><ellipse cx="33.4" cy="11.2" rx="2.81" ry="2.81"/><ellipse cx="31.3" cy="16.6" rx="2.76" ry="2.76"/><ellipse cx="36.3" cy="15.4" rx="2.92" ry="2.92" opacity="0.9"/><ellipse cx="38.5" cy="18.5" rx="2.11" ry="2.11"/><ellipse cx="30.5" cy="12.5" rx="1.92" ry="1.92"/></g>
<g fill="#38d840" opacity="0.9" filter="url(#w05)"><ellipse cx="33.8" cy="13.7" rx="3.89" ry="3.89"/><ellipse cx="33.4" cy="11.2" rx="2.52" ry="2.52"/><ellipse cx="31.3" cy="16.6" rx="2.42" ry="2.42"/><ellipse cx="36.3" cy="15.4" rx="2.62" ry="2.62" opacity="0.9"/><ellipse cx="38.5" cy="18.5" rx="1.45" ry="1.45"/><ellipse cx="30.5" cy="12.5" rx="1.32" ry="1.32"/></g>
<g fill="#f0e220" opacity="0.95" filter="url(#w05)"><ellipse cx="33.4" cy="11.2" rx="1.92" ry="1.92"/><ellipse cx="31.3" cy="16.6" rx="1.46" ry="1.46"/><ellipse cx="36.3" cy="15.4" rx="2" ry="2" opacity="0.9"/></g>
<g fill="#f08a14" opacity="0.95" filter="url(#w03)"><ellipse cx="33.4" cy="11.2" rx="1.48" ry="1.48"/><ellipse cx="36.3" cy="15.4" rx="1.54" ry="1.54" opacity="0.9"/></g>
<g fill="#de1818" opacity="0.95" filter="url(#w03)"><ellipse cx="33.4" cy="11.2" rx="1.09" ry="1.09"/><ellipse cx="36.3" cy="15.4" rx="1.13" ry="1.13" opacity="0.9"/></g>
<polygon points="46.44,40.38 41.93,29.67 43.72,28.92 38.35,24.67 37.64,31.48 39.44,30.72 43.96,41.42" fill="#fff"/>
</g>
<text x="478.9" y="22.3" font-size="11.2" text-anchor="middle" font-family="Liberation Serif, serif" font-weight="bold" >24h</text>
<text x="543.2" y="22.3" font-size="11.2" text-anchor="middle" font-family="Liberation Serif, serif" font-weight="bold" >48h</text>
<text x="611.2" y="22.3" font-size="11.2" text-anchor="middle" font-family="Liberation Serif, serif" font-weight="bold" >72h</text>
<text x="479" y="131.9" font-size="11.2" text-anchor="middle" font-family="Liberation Serif, serif" font-weight="bold" >24h</text>
<text x="543.5" y="131.9" font-size="11.2" text-anchor="middle" font-family="Liberation Serif, serif" font-weight="bold" >48h</text>
<text x="610.8" y="131.9" font-size="11.2" text-anchor="middle" font-family="Liberation Serif, serif" font-weight="bold" >72h</text>
<text x="440.4" y="75.1" font-size="12.8" text-anchor="middle" font-family="Liberation Serif, serif" font-weight="bold" transform="rotate(-90 440.4 75.1)" >Blocked</text>
<text x="441.2" y="188.7" font-size="15.3" text-anchor="middle" font-family="Liberation Serif, serif" font-weight="bold" transform="rotate(-90 441.2 188.7)" >MCF-7</text>
<text x="658.5" y="25" font-size="12.6" text-anchor="middle" font-family="Liberation Serif, serif" font-weight="bold" >high</text>
<text x="656" y="243.6" font-size="12.6" text-anchor="middle" font-family="Liberation Serif, serif" font-weight="bold" >low</text>
<rect x="653.2" y="37.1" width="8.4" height="188.9" fill="url(#cbar)" />
<rect x="653.2" y="37.1" width="8.4" height="188.9" fill="none" stroke="#e0a0a8" stroke-width="0.6" opacity="0.8"/>
<circle cx="657.4" cy="131.4" r="0.8" fill="#b8c8b8"/>
<rect x="449.8" y="27.2" width="54.2" height="91.2" fill="#000" />
<g transform="translate(449.8 27.2)" clip-path="url(#cB1)">
<path d="M29.6 50 L40.6 56 L51.6 99 L7.6 99 L18.6 56 Z" fill="#5a5a66" filter="url(#b15)" opacity="0.6"/>
<path d="M28.1 54 Q23.6 56.5 19.6 62 M31.1 54 Q35.6 56.5 39.6 62 M28.1 56.91 Q22.1 60.03 17.1 66.91 M31.1 56.91 Q37.1 60.03 42.1 66.91 M28.1 59.82 Q20.6 63.57 14.6 71.82 M31.1 59.82 Q38.6 63.57 44.6 71.82 M28.1 62.73 Q19.1 67.1 12.1 76.73 M31.1 62.73 Q40.1 67.1 47.1 76.73 M28.1 65.64 Q17.6 70.64 9.6 81.64 M31.1 65.64 Q41.6 70.64 49.6 81.64 M28.1 68.55 Q17.6 73.55 9.6 84.55 M31.1 68.55 Q41.6 73.55 49.6 84.55 M28.1 71.45 Q17.6 76.45 9.6 87.45 M31.1 71.45 Q41.6 76.45 49.6 87.45 M28.1 74.36 Q17.6 79.36 9.6 90.36 M31.1 74.36 Q41.6 79.36 49.6 90.36 M28.1 77.27 Q17.6 82.27 9.6 93.27 M31.1 77.27 Q41.6 82.27 49.6 93.27 M28.1 80.18 Q17.6 85.18 9.6 96.18 M31.1 80.18 Q41.6 85.18 49.6 96.18 M28.1 83.09 Q17.6 88.09 9.6 99.09 M31.1 83.09 Q41.6 88.09 49.6 99.09 M28.1 86 Q17.6 91 9.6 102 M31.1 86 Q41.6 91 49.6 102" fill="none" stroke="#d0d0da" stroke-width="0.6" opacity="0.62"/>
<path d="M29.60 1.20 C30.63 1.20 32.06 1.09 32.68 2.16 C33.30 3.23 32.39 5.95 33.34 7.60 C34.29 9.25 37.19 10.48 38.40 12.08 C39.61 13.68 40.49 15.39 40.60 17.20 C40.71 19.01 39.61 21.04 39.06 22.96 C38.51 24.88 38.18 27.01 37.30 28.72 C36.42 30.43 35.76 32.45 33.78 33.20 C31.80 33.95 27.40 33.95 25.42 33.20 C23.44 32.45 22.78 30.43 21.90 28.72 C21.02 27.01 20.69 24.88 20.14 22.96 C19.59 21.04 18.49 19.01 18.60 17.20 C18.71 15.39 19.59 13.68 20.80 12.08 C22.01 10.48 24.91 9.25 25.86 7.60 C26.81 5.95 25.90 3.23 26.52 2.16 C27.14 1.09 28.57 1.20 29.60 1.20Z" fill="#dcdce4" filter="url(#b05)" opacity="1"/>
<ellipse cx="29.6" cy="26.16" rx="7.48" ry="6.08" fill="#868690" filter="url(#b08)" opacity="0.9"/>
<ellipse cx="29.6" cy="26.16" rx="7.48" ry="6.08" fill="#f0f0f6" filter="url(#tex)" opacity="0.7"/>
<ellipse cx="29.6" cy="6.32" rx="3.3" ry="4.8" fill="#ffffff" filter="url(#b05)" opacity="1"/>
<ellipse cx="29.6" cy="14.64" rx="4.62" ry="4.48" fill="#fbfbff" filter="url(#b08)" opacity="0.9"/>
<ellipse cx="22.56" cy="16.88" rx="2.53" ry="4.8" fill="#06060e" transform="rotate(-17 22.56 16.88)" filter="url(#b03)"/>
<ellipse cx="36.64" cy="16.88" rx="2.53" ry="4.8" fill="#06060e" transform="rotate(17 36.64 16.88)" filter="url(#b03)"/>
<path d="M29.6 31.2 L29.6 42.8" fill="none" stroke="#dcdce4" stroke-width="7.92" filter="url(#b05)" opacity="0.92"/>
<ellipse cx="29.6" cy="40.24" rx="11" ry="3.84" fill="#8c8c98" filter="url(#b1)" opacity="0.75"/>
<path d="M28.6 39.24 L19.15 42.24 M30.6 39.24 L40.05 42.24" fill="none" stroke="#dcdce4" stroke-width="1.5" filter="url(#b03)" opacity="0.9"/>
<path d="M29.6 36.2 L29.6 98" fill="none" stroke="#b4b4be" stroke-width="5" filter="url(#b05)" opacity="0.95"/>
<path d="M29.6 36.2 L29.6 98" fill="none" stroke="#f0f0f6" stroke-width="2.75" stroke-dasharray="1.5 1.0" opacity="0.6"/>
<path d="M19.5 44.5 L7.2 57.5" fill="none" stroke="#dcdce4" stroke-width="2.5" stroke-linecap="round" filter="url(#b03)" opacity="0.95"/>
<path d="M7.2 57.5 L14.5 34.5" fill="none" stroke="#f8f8fc" stroke-width="2.3" stroke-linecap="round" filter="url(#b03)" opacity="0.95"/>
<ellipse cx="14.5" cy="33.5" rx="1.9" ry="1.6" fill="#dcdce4" filter="url(#b03)" opacity="0.95"/>
<path d="M13.38 32.9 L12.66 30.3 M14.12 32.9 L13.87 30.3 M14.88 32.9 L15.13 30.3 M15.62 32.9 L16.34 30.3" fill="none" stroke="#dcdce4" stroke-width="0.75" stroke-linecap="round" opacity="0.95"/>
<path d="M37.6 44.5 L44 54.6" fill="none" stroke="#dcdce4" stroke-width="2.5" stroke-linecap="round" filter="url(#b03)" opacity="0.95"/>
<path d="M44 54.6 L44.8 33" fill="none" stroke="#f8f8fc" stroke-width="2.3" stroke-linecap="round" filter="url(#b03)" opacity="0.95"/>
<ellipse cx="44.8" cy="32" rx="1.9" ry="1.6" fill="#dcdce4" filter="url(#b03)" opacity="0.95"/>
<path d="M43.68 31.4 L42.96 28.8 M44.41 31.4 L44.17 28.8 M45.18 31.4 L45.43 28.8 M45.92 31.4 L46.64 28.8" fill="none" stroke="#dcdce4" stroke-width="0.75" stroke-linecap="round" opacity="0.95"/>
<ellipse cx="29.6" cy="20.4" rx="11" ry="16" fill="#2838d8" filter="url(#b15)" opacity="0.12"/>
<path d="M29.00 36.00 C31.17 36.00 34.17 39.33 36.00 42.00 C37.83 44.67 38.00 48.67 40.00 52.00 C42.00 55.33 46.33 58.33 48.00 62.00 C49.67 65.67 50.67 70.00 50.00 74.00 C49.33 78.00 46.67 82.50 44.00 86.00 C41.33 89.50 37.67 93.50 34.00 95.00 C30.33 96.50 25.67 96.83 22.00 95.00 C18.33 93.17 14.17 87.83 12.00 84.00 C9.83 80.17 8.67 76.00 9.00 72.00 C9.33 68.00 12.17 63.67 14.00 60.00 C15.83 56.33 18.50 53.00 20.00 50.00 C21.50 47.00 21.50 44.33 23.00 42.00 C24.50 39.67 26.83 36.00 29.00 36.00Z" fill="#1c46ff" filter="url(#b15)" opacity="0.5"/>
<path d="M28.50 48.00 C30.33 48.00 32.92 52.33 34.00 56.00 C35.08 59.67 35.17 63.50 35.00 70.00 C34.83 76.50 34.83 90.83 33.00 95.00 C31.17 99.17 25.83 99.17 24.00 95.00 C22.17 90.83 22.17 76.50 22.00 70.00 C21.83 63.50 21.92 59.67 23.00 56.00 C24.08 52.33 26.67 48.00 28.50 48.00Z" fill="#2050ff" filter="url(#b1)" opacity="0.65"/>
<g fill="#2238e0" opacity="0.56" filter="url(#w1)"><ellipse cx="29.5" cy="2.5" rx="3.58" ry="3.58"/><ellipse cx="25" cy="5" rx="2.24" ry="2.24"/><ellipse cx="30" cy="30" rx="6.72" ry="5.6" opacity="0.7"/><ellipse cx="37" cy="40" rx="4.03" ry="4.03"/><ellipse cx="22" cy="42" rx="3.81" ry="3.81"/><ellipse cx="18" cy="52" rx="3.36" ry="3.36"/><ellipse cx="14" cy="40" rx="2.69" ry="2.69" opacity="0.8"/><ellipse cx="28.5" cy="62" rx="5.38" ry="6.4"/><ellipse cx="29" cy="71" rx="5.12" ry="6.4"/><ellipse cx="28.5" cy="80" rx="4.86" ry="6.4"/><ellipse cx="28" cy="88" rx="4.35" ry="4.35"/><ellipse cx="24" cy="66" rx="4.1" ry="4.1"/><ellipse cx="33" cy="60" rx="3.84" ry="3.84"/><ellipse cx="24.8" cy="57.8" rx="6.07" ry="4.97"/><ellipse cx="26.4" cy="56.6" rx="2.76" ry="2.76"/><ellipse cx="22" cy="58.6" rx="2.76" ry="2.76"/><ellipse cx="32.6" cy="38.2" rx="3.04" ry="3.04" opacity="0.95"/><ellipse cx="28.5" cy="64" rx="3.24" ry="3.24"/><ellipse cx="28" cy="70" rx="3.24" ry="3.24"/><ellipse cx="29" cy="76" rx="2.97" ry="2.97"/><ellipse cx="27.5" cy="83" rx="3.07" ry="3.07"/><ellipse cx="43.4" cy="58.4" rx="3.31" ry="2.21"/><ellipse cx="41.5" cy="57.5" rx="2.6" ry="2.6" opacity="0.9"/><ellipse cx="45.5" cy="63.5" rx="4.26" ry="4.26"/><ellipse cx="47" cy="69.8" rx="4.26" ry="4.26"/><ellipse cx="41" cy="72" rx="3.36" ry="3.36"/><ellipse cx="50" cy="64" rx="2.91" ry="2.91"/><ellipse cx="14" cy="62" rx="3.36" ry="3.36"/><ellipse cx="12" cy="74" rx="3.14" ry="3.14" opacity="0.8"/><ellipse cx="40" cy="80" rx="2.91" ry="2.91" opacity="0.8"/><ellipse cx="18" cy="86" rx="2.91" ry="2.91" opacity="0.7"/></g>
<g fill="#2890e4" opacity="0.72" filter="url(#w08)"><ellipse cx="28.5" cy="62" rx="2.94" ry="3.5"/><ellipse cx="29" cy="71" rx="2.8" ry="3.5"/><ellipse cx="28.5" cy="80" rx="2.66" ry="3.5"/><ellipse cx="28" cy="88" rx="2.38" ry="2.38"/><ellipse cx="24" cy="66" rx="2.24" ry="2.24"/><ellipse cx="33" cy="60" rx="2.1" ry="2.1"/><ellipse cx="24.8" cy="57.8" rx="4.66" ry="3.82"/><ellipse cx="26.4" cy="56.6" rx="2.12" ry="2.12"/><ellipse cx="22" cy="58.6" rx="2.12" ry="2.12"/><ellipse cx="32.6" cy="38.2" rx="2.33" ry="2.33" opacity="0.95"/><ellipse cx="28.5" cy="64" rx="2.3" ry="2.3"/><ellipse cx="28" cy="70" rx="2.3" ry="2.3"/><ellipse cx="29" cy="76" rx="2.11" ry="2.11"/><ellipse cx="27.5" cy="83" rx="1.68" ry="1.68"/><ellipse cx="43.4" cy="58.4" rx="2.54" ry="1.7"/><ellipse cx="41.5" cy="57.5" rx="2" ry="2" opacity="0.9"/></g>
<g fill="#38d840" opacity="0.9" filter="url(#w05)"><ellipse cx="24.8" cy="57.8" rx="4.09" ry="3.35"/><ellipse cx="26.4" cy="56.6" rx="1.86" ry="1.86"/><ellipse cx="22" cy="58.6" rx="1.86" ry="1.86"/><ellipse cx="32.6" cy="38.2" rx="2.05" ry="2.05" opacity="0.95"/><ellipse cx="28.5" cy="64" rx="1.58" ry="1.58"/><ellipse cx="28" cy="70" rx="1.58" ry="1.58"/><ellipse cx="29" cy="76" rx="1.45" ry="1.45"/><ellipse cx="43.4" cy="58.4" rx="2.23" ry="1.49"/></g>
<g fill="#f0e220" opacity="0.95" filter="url(#w05)"><ellipse cx="24.8" cy="57.8" rx="2.46" ry="2.02"/><ellipse cx="26.4" cy="56.6" rx="1.12" ry="1.12"/><ellipse cx="22" cy="58.6" rx="1.12" ry="1.12"/><ellipse cx="32.6" cy="38.2" rx="1.23" ry="1.23" opacity="0.95"/><ellipse cx="43.4" cy="58.4" rx="1.34" ry="0.9"/></g>
<g fill="#f4f8ff" opacity="0.95" filter="url(#w05)"><ellipse cx="41.5" cy="57.5" rx="1.3" ry="1.3" opacity="0.9"/></g>
</g>
<polygon points="510.38,97.66 503.2,94.63 503.78,93.24 498,94.6 501.06,99.69 501.64,98.31 508.82,101.34" fill="#f8101c"/>
<rect x="517.5" y="27.2" width="54.2" height="91.2" fill="#000" />
<g transform="translate(517.5 27.2)" clip-path="url(#cB1)">
<path d="M26.4 52 L37.4 58 L48.4 99 L4.4 99 L15.4 58 Z" fill="#5a5a66" filter="url(#b15)" opacity="0.6"/>
<path d="M24.9 56 Q20.4 58.5 16.4 64 M27.9 56 Q32.4 58.5 36.4 64 M24.9 58.91 Q18.9 62.03 13.9 68.91 M27.9 58.91 Q33.9 62.03 38.9 68.91 M24.9 61.82 Q17.4 65.57 11.4 73.82 M27.9 61.82 Q35.4 65.57 41.4 73.82 M24.9 64.73 Q15.9 69.1 8.9 78.73 M27.9 64.73 Q36.9 69.1 43.9 78.73 M24.9 67.64 Q14.4 72.64 6.4 83.64 M27.9 67.64 Q38.4 72.64 46.4 83.64 M24.9 70.55 Q14.4 75.55 6.4 86.55 M27.9 70.55 Q38.4 75.55 46.4 86.55 M24.9 73.45 Q14.4 78.45 6.4 89.45 M27.9 73.45 Q38.4 78.45 46.4 89.45 M24.9 76.36 Q14.4 81.36 6.4 92.36 M27.9 76.36 Q38.4 81.36 46.4 92.36 M24.9 79.27 Q14.4 84.27 6.4 95.27 M27.9 79.27 Q38.4 84.27 46.4 95.27 M24.9 82.18 Q14.4 87.18 6.4 98.18 M27.9 82.18 Q38.4 87.18 46.4 98.18 M24.9 85.09 Q14.4 90.09 6.4 101.09 M27.9 85.09 Q38.4 90.09 46.4 101.09 M24.9 88 Q14.4 93 6.4 104 M27.9 88 Q38.4 93 46.4 104" fill="none" stroke="#d0d0da" stroke-width="0.6" opacity="0.62"/>
<path d="M26.40 1.20 C27.41 1.20 28.81 1.09 29.42 2.17 C30.04 3.26 29.14 6.02 30.07 7.70 C31.01 9.38 33.85 10.62 35.04 12.25 C36.23 13.88 37.09 15.61 37.20 17.45 C37.31 19.29 36.23 21.35 35.69 23.30 C35.15 25.25 34.82 27.42 33.96 29.15 C33.10 30.88 32.45 32.94 30.50 33.70 C28.56 34.46 24.24 34.46 22.30 33.70 C20.35 32.94 19.70 30.88 18.84 29.15 C17.98 27.42 17.65 25.25 17.11 23.30 C16.57 21.35 15.49 19.29 15.60 17.45 C15.71 15.61 16.57 13.88 17.76 12.25 C18.95 10.62 21.79 9.38 22.73 7.70 C23.66 6.02 22.76 3.26 23.38 2.17 C23.99 1.09 25.39 1.20 26.40 1.20Z" fill="#dcdce4" filter="url(#b05)" opacity="1"/>
<ellipse cx="26.4" cy="26.55" rx="7.34" ry="6.17" fill="#868690" filter="url(#b08)" opacity="0.9"/>
<ellipse cx="26.4" cy="26.55" rx="7.34" ry="6.17" fill="#f0f0f6" filter="url(#tex)" opacity="0.7"/>
<ellipse cx="26.4" cy="6.4" rx="3.24" ry="4.88" fill="#ffffff" filter="url(#b05)" opacity="1"/>
<ellipse cx="26.4" cy="14.85" rx="4.54" ry="4.55" fill="#fbfbff" filter="url(#b08)" opacity="0.9"/>
<ellipse cx="19.49" cy="17.12" rx="2.48" ry="4.88" fill="#06060e" transform="rotate(-17 19.49 17.12)" filter="url(#b03)"/>
<ellipse cx="33.31" cy="17.12" rx="2.48" ry="4.88" fill="#06060e" transform="rotate(17 33.31 17.12)" filter="url(#b03)"/>
<path d="M26.4 31.7 L26.4 43.45" fill="none" stroke="#dcdce4" stroke-width="7.78" filter="url(#b05)" opacity="0.92"/>
<ellipse cx="26.4" cy="40.85" rx="10.8" ry="3.9" fill="#8c8c98" filter="url(#b1)" opacity="0.75"/>
<path d="M25.4 39.85 L16.14 42.85 M27.4 39.85 L36.66 42.85" fill="none" stroke="#dcdce4" stroke-width="1.5" filter="url(#b03)" opacity="0.9"/>
<path d="M26.4 36.7 L26.4 98" fill="none" stroke="#b4b4be" stroke-width="4.6" filter="url(#b05)" opacity="0.95"/>
<path d="M26.4 36.7 L26.4 98" fill="none" stroke="#f0f0f6" stroke-width="2.53" stroke-dasharray="1.5 1.0" opacity="0.6"/>
<path d="M15.9 44.5 L6.5 59" fill="none" stroke="#dcdce4" stroke-width="2.5" stroke-linecap="round" filter="url(#b03)" opacity="0.95"/>
<path d="M6.5 59 L11.6 36" fill="none" stroke="#f8f8fc" stroke-width="2.3" stroke-linecap="round" filter="url(#b03)" opacity="0.95"/>
<ellipse cx="11.6" cy="35" rx="1.9" ry="1.6" fill="#dcdce4" filter="url(#b03)" opacity="0.95"/>
<path d="M10.48 34.4 L9.76 31.8 M11.21 34.4 L10.97 31.8 M11.98 34.4 L12.23 31.8 M12.72 34.4 L13.44 31.8" fill="none" stroke="#dcdce4" stroke-width="0.75" stroke-linecap="round" opacity="0.95"/>
<path d="M34.7 44.5 L40.5 57.5" fill="none" stroke="#dcdce4" stroke-width="2.5" stroke-linecap="round" filter="url(#b03)" opacity="0.95"/>
<path d="M40.5 57.5 L38.3 36.8" fill="none" stroke="#f8f8fc" stroke-width="2.3" stroke-linecap="round" filter="url(#b03)" opacity="0.95"/>
<ellipse cx="38.3" cy="35.8" rx="1.9" ry="1.6" fill="#dcdce4" filter="url(#b03)" opacity="0.95"/>
<path d="M37.18 35.2 L36.46 32.6 M37.91 35.2 L37.67 32.6 M38.68 35.2 L38.93 32.6 M39.42 35.2 L40.14 32.6" fill="none" stroke="#dcdce4" stroke-width="0.75" stroke-linecap="round" opacity="0.95"/>
<ellipse cx="26.4" cy="20.7" rx="10.8" ry="16.25" fill="#2838d8" filter="url(#b15)" opacity="0.1"/>
<path d="M25.50 40.00 C28.17 39.67 30.92 43.67 33.00 46.00 C35.08 48.33 35.67 51.33 38.00 54.00 C40.33 56.67 45.17 59.00 47.00 62.00 C48.83 65.00 49.83 68.33 49.00 72.00 C48.17 75.67 44.83 80.17 42.00 84.00 C39.17 87.83 36.00 93.17 32.00 95.00 C28.00 96.83 21.50 97.17 18.00 95.00 C14.50 92.83 12.33 86.17 11.00 82.00 C9.67 77.83 9.67 74.00 10.00 70.00 C10.33 66.00 11.83 61.67 13.00 58.00 C14.17 54.33 14.92 51.00 17.00 48.00 C19.08 45.00 22.83 40.33 25.50 40.00Z" fill="#1c46ff" filter="url(#b15)" opacity="0.5"/>
<path d="M25.30 50.00 C27.47 50.00 30.72 53.33 32.00 57.00 C33.28 60.67 33.17 65.67 33.00 72.00 C32.83 78.33 33.17 91.17 31.00 95.00 C28.83 98.83 22.17 98.83 20.00 95.00 C17.83 91.17 18.17 78.33 18.00 72.00 C17.83 65.67 17.78 60.67 19.00 57.00 C20.22 53.33 23.13 50.00 25.30 50.00Z" fill="#2050ff" filter="url(#b1)" opacity="0.7"/>
<g fill="#2238e0" opacity="0.56" filter="url(#w1)"><ellipse cx="27" cy="3" rx="3.58" ry="3.58"/><ellipse cx="23" cy="5.5" rx="2.02" ry="2.02"/><ellipse cx="32" cy="32" rx="3.36" ry="3.36" opacity="0.8"/><ellipse cx="33" cy="44" rx="3.81" ry="3.81"/><ellipse cx="17" cy="44" rx="3.81" ry="3.81"/><ellipse cx="38" cy="42" rx="3.14" ry="3.14"/><ellipse cx="25.5" cy="64" rx="5.63" ry="6.4"/><ellipse cx="25.5" cy="73" rx="5.38" ry="6.4"/><ellipse cx="25" cy="82" rx="4.86" ry="6.4"/><ellipse cx="25" cy="90" rx="4.35" ry="4.35"/><ellipse cx="20" cy="60" rx="4.1" ry="4.1"/><ellipse cx="31" cy="58" rx="3.84" ry="3.84"/><ellipse cx="25" cy="60" rx="6.62" ry="6.35"/><ellipse cx="25.5" cy="60.4" rx="2.62" ry="2.62" opacity="0.9"/><ellipse cx="21.7" cy="56.8" rx="3.51" ry="3.51"/><ellipse cx="18.8" cy="64" rx="3.78" ry="3.78"/><ellipse cx="23.5" cy="66.5" rx="3.51" ry="3.51"/><ellipse cx="28.5" cy="63.5" rx="3.24" ry="3.24"/><ellipse cx="26" cy="76.3" rx="4.42" ry="3.59"/><ellipse cx="24.5" cy="71" rx="2.97" ry="2.97"/><ellipse cx="24" cy="83" rx="2.97" ry="2.97"/><ellipse cx="27.5" cy="88" rx="2.56" ry="2.56"/><ellipse cx="41" cy="66" rx="6.27" ry="5.6"/><ellipse cx="39" cy="64.7" rx="3.24" ry="3.24"/><ellipse cx="42.6" cy="66.2" rx="2.97" ry="2.97"/><ellipse cx="42.6" cy="70.5" rx="3.24" ry="3.24"/><ellipse cx="36.5" cy="60.5" rx="2.56" ry="2.56"/><ellipse cx="47" cy="63" rx="3.14" ry="3.14"/><ellipse cx="36" cy="72" rx="2.91" ry="2.91"/><ellipse cx="13" cy="66" rx="3.36" ry="3.36"/><ellipse cx="11" cy="78" rx="2.91" ry="2.91" opacity="0.8"/><ellipse cx="16" cy="86" rx="2.91" ry="2.91" opacity="0.7"/><ellipse cx="38" cy="84" rx="2.91" ry="2.91" opacity="0.7"/></g>
<g fill="#2890e4" opacity="0.72" filter="url(#w08)"><ellipse cx="25.5" cy="64" rx="3.08" ry="3.5"/><ellipse cx="25.5" cy="73" rx="2.94" ry="3.5"/><ellipse cx="25" cy="82" rx="2.66" ry="3.5"/><ellipse cx="25" cy="90" rx="2.38" ry="2.38"/><ellipse cx="20" cy="60" rx="2.24" ry="2.24"/><ellipse cx="31" cy="58" rx="2.1" ry="2.1"/><ellipse cx="25" cy="60" rx="5.09" ry="4.88"/><ellipse cx="25.5" cy="60.4" rx="2.05" ry="2.05" opacity="0.9"/><ellipse cx="21.7" cy="56.8" rx="2.5" ry="2.5"/><ellipse cx="18.8" cy="64" rx="2.69" ry="2.69"/><ellipse cx="23.5" cy="66.5" rx="2.5" ry="2.5"/><ellipse cx="28.5" cy="63.5" rx="2.3" ry="2.3"/><ellipse cx="26" cy="76.3" rx="3.39" ry="2.76"/><ellipse cx="24.5" cy="71" rx="2.11" ry="2.11"/><ellipse cx="24" cy="83" rx="2.11" ry="2.11"/><ellipse cx="27.5" cy="88" rx="1.4" ry="1.4"/><ellipse cx="39" cy="64.7" rx="2.3" ry="2.3"/><ellipse cx="42.6" cy="66.2" rx="2.11" ry="2.11"/><ellipse cx="42.6" cy="70.5" rx="2.3" ry="2.3"/><ellipse cx="36.5" cy="60.5" rx="1.4" ry="1.4"/></g>
<g fill="#38d840" opacity="0.9" filter="url(#w05)"><ellipse cx="25" cy="60" rx="4.46" ry="4.28"/><ellipse cx="25.5" cy="60.4" rx="1.84" ry="1.84" opacity="0.9"/><ellipse cx="21.7" cy="56.8" rx="1.72" ry="1.72"/><ellipse cx="18.8" cy="64" rx="1.85" ry="1.85"/><ellipse cx="23.5" cy="66.5" rx="1.72" ry="1.72"/><ellipse cx="28.5" cy="63.5" rx="1.58" ry="1.58"/><ellipse cx="26" cy="76.3" rx="2.98" ry="2.42"/><ellipse cx="24.5" cy="71" rx="1.45" ry="1.45"/><ellipse cx="24" cy="83" rx="1.45" ry="1.45"/><ellipse cx="39" cy="64.7" rx="1.58" ry="1.58"/><ellipse cx="42.6" cy="66.2" rx="1.45" ry="1.45"/><ellipse cx="42.6" cy="70.5" rx="1.58" ry="1.58"/></g>
<g fill="#f0e220" opacity="0.95" filter="url(#w05)"><ellipse cx="25" cy="60" rx="2.69" ry="2.58"/><ellipse cx="25.5" cy="60.4" rx="1.41" ry="1.41" opacity="0.9"/><ellipse cx="26" cy="76.3" rx="1.79" ry="1.46"/></g>
<g fill="#f08a14" opacity="0.95" filter="url(#w03)"><ellipse cx="25.5" cy="60.4" rx="1.08" ry="1.08" opacity="0.9"/></g>
<g fill="#de1818" opacity="0.95" filter="url(#w03)"><ellipse cx="25.5" cy="60.4" rx="0.8" ry="0.8" opacity="0.9"/></g>
</g>
<polygon points="578.28,97.66 571.1,94.63 571.68,93.24 565.9,94.6 568.96,99.69 569.54,98.31 576.72,101.34" fill="#f8101c"/>
<rect x="587.1" y="27.2" width="54.2" height="91.2" fill="#000" />
<g transform="translate(587.1 27.2)" clip-path="url(#cB1)">
<path d="M25.6 48 L35.5 54 L45.4 99 L5.8 99 L15.7 54 Z" fill="#5a5a66" filter="url(#b15)" opacity="0.6"/>
<path d="M24.1 52 Q20.2 54.25 16.6 59.2 M27.1 52 Q31 54.25 34.6 59.2 M24.1 55.09 Q18.85 57.9 14.35 64.09 M27.1 55.09 Q32.35 57.9 36.85 64.09 M24.1 58.18 Q17.5 61.56 12.1 68.98 M27.1 58.18 Q33.7 61.56 39.1 68.98 M24.1 61.27 Q16.15 65.21 9.85 73.87 M27.1 61.27 Q35.05 65.21 41.35 73.87 M24.1 64.36 Q14.8 68.86 7.6 78.76 M27.1 64.36 Q36.4 68.86 43.6 78.76 M24.1 67.45 Q14.8 71.95 7.6 81.85 M27.1 67.45 Q36.4 71.95 43.6 81.85 M24.1 70.55 Q14.8 75.05 7.6 84.95 M27.1 70.55 Q36.4 75.05 43.6 84.95 M24.1 73.64 Q14.8 78.14 7.6 88.04 M27.1 73.64 Q36.4 78.14 43.6 88.04 M24.1 76.73 Q14.8 81.23 7.6 91.13 M27.1 76.73 Q36.4 81.23 43.6 91.13 M24.1 79.82 Q14.8 84.32 7.6 94.22 M27.1 79.82 Q36.4 84.32 43.6 94.22 M24.1 82.91 Q14.8 87.41 7.6 97.31 M27.1 82.91 Q36.4 87.41 43.6 97.31 M24.1 86 Q14.8 90.5 7.6 100.4 M27.1 86 Q36.4 90.5 43.6 100.4" fill="none" stroke="#d0d0da" stroke-width="0.6" opacity="0.62"/>
<path d="M25.60 2.50 C26.44 2.50 27.61 2.40 28.12 3.37 C28.63 4.34 27.88 6.80 28.66 8.30 C29.44 9.80 31.81 10.91 32.80 12.36 C33.79 13.81 34.51 15.36 34.60 17.00 C34.69 18.64 33.79 20.48 33.34 22.22 C32.89 23.96 32.62 25.89 31.90 27.44 C31.18 28.99 30.64 30.82 29.02 31.50 C27.40 32.18 23.80 32.18 22.18 31.50 C20.56 30.82 20.02 28.99 19.30 27.44 C18.58 25.89 18.31 23.96 17.86 22.22 C17.41 20.48 16.51 18.64 16.60 17.00 C16.69 15.36 17.41 13.81 18.40 12.36 C19.39 10.91 21.76 9.80 22.54 8.30 C23.32 6.80 22.57 4.34 23.08 3.37 C23.59 2.40 24.76 2.50 25.60 2.50Z" fill="#dcdce4" filter="url(#b05)" opacity="1"/>
<ellipse cx="25.6" cy="25.12" rx="6.12" ry="5.51" fill="#868690" filter="url(#b08)" opacity="0.9"/>
<ellipse cx="25.6" cy="25.12" rx="6.12" ry="5.51" fill="#f0f0f6" filter="url(#tex)" opacity="0.7"/>
<ellipse cx="25.6" cy="7.14" rx="2.7" ry="4.35" fill="#ffffff" filter="url(#b05)" opacity="1"/>
<ellipse cx="25.6" cy="14.68" rx="3.78" ry="4.06" fill="#fbfbff" filter="url(#b08)" opacity="0.9"/>
<ellipse cx="19.84" cy="16.71" rx="2.07" ry="4.35" fill="#06060e" transform="rotate(-17 19.84 16.71)" filter="url(#b03)"/>
<ellipse cx="31.36" cy="16.71" rx="2.07" ry="4.35" fill="#06060e" transform="rotate(17 31.36 16.71)" filter="url(#b03)"/>
<path d="M25.6 29.5 L25.6 40.2" fill="none" stroke="#dcdce4" stroke-width="6.48" filter="url(#b05)" opacity="0.92"/>
<ellipse cx="25.6" cy="37.88" rx="9" ry="3.48" fill="#8c8c98" filter="url(#b1)" opacity="0.75"/>
<path d="M24.6 36.88 L17.05 39.88 M26.6 36.88 L34.15 39.88" fill="none" stroke="#dcdce4" stroke-width="1.5" filter="url(#b03)" opacity="0.9"/>
<path d="M25.6 34.5 L25.6 98" fill="none" stroke="#b4b4be" stroke-width="4.6" filter="url(#b05)" opacity="0.95"/>
<path d="M25.6 34.5 L25.6 98" fill="none" stroke="#f0f0f6" stroke-width="2.53" stroke-dasharray="1.5 1.0" opacity="0.6"/>
<path d="M18 43.3 L10 57.5" fill="none" stroke="#dcdce4" stroke-width="2.5" stroke-linecap="round" filter="url(#b03)" opacity="0.95"/>
<path d="M10 57.5 L12.7 32" fill="none" stroke="#f8f8fc" stroke-width="2.3" stroke-linecap="round" filter="url(#b03)" opacity="0.95"/>
<path d="M32.2 43.3 L39.3 55.7" fill="none" stroke="#dcdce4" stroke-width="2.5" stroke-linecap="round" filter="url(#b03)" opacity="0.95"/>
<path d="M39.3 55.7 L35.7 32" fill="none" stroke="#f8f8fc" stroke-width="2.3" stroke-linecap="round" filter="url(#b03)" opacity="0.95"/>
<path d="M25.50 40.00 C27.00 40.00 29.08 43.00 30.00 48.00 C30.92 53.00 31.00 62.17 31.00 70.00 C31.00 77.83 31.67 90.83 30.00 95.00 C28.33 99.17 22.67 99.17 21.00 95.00 C19.33 90.83 20.00 77.83 20.00 70.00 C20.00 62.17 20.08 53.00 21.00 48.00 C21.92 43.00 24.00 40.00 25.50 40.00Z" fill="#2448ff" filter="url(#b1)" opacity="0.6"/>
<path d="M25.00 56.00 C28.00 56.00 31.50 62.00 34.00 66.00 C36.50 70.00 39.67 75.17 40.00 80.00 C40.33 84.83 40.33 92.50 36.00 95.00 C31.67 97.50 18.33 97.17 14.00 95.00 C9.67 92.83 9.67 86.83 10.00 82.00 C10.33 77.17 13.50 70.33 16.00 66.00 C18.50 61.67 22.00 56.00 25.00 56.00Z" fill="#1a38e8" filter="url(#b2)" opacity="0.3"/>
<g fill="#2238e0" opacity="0.56" filter="url(#w1)"><ellipse cx="21.5" cy="5" rx="2.69" ry="4.93"/><ellipse cx="27" cy="24" rx="4.26" ry="4.26" opacity="0.7"/><ellipse cx="30.5" cy="34" rx="3.81" ry="3.81"/><ellipse cx="18.5" cy="37" rx="4.03" ry="4.03"/><ellipse cx="33" cy="41" rx="3.81" ry="3.81"/><ellipse cx="13" cy="33" rx="2.69" ry="2.69" opacity="0.8"/><ellipse cx="25.3" cy="50" rx="3.33" ry="6.4"/><ellipse cx="25.5" cy="62" rx="3.58" ry="7.68"/><ellipse cx="25.5" cy="74" rx="3.58" ry="7.68"/><ellipse cx="25.5" cy="86" rx="3.33" ry="6.4"/><ellipse cx="22.6" cy="54" rx="2.84" ry="2.84"/><ellipse cx="24" cy="58" rx="2.29" ry="2.29"/><ellipse cx="26" cy="69.9" rx="2.7" ry="2.7"/><ellipse cx="25" cy="77" rx="2.16" ry="2.16"/><ellipse cx="26.5" cy="82" rx="2.16" ry="2.16"/><ellipse cx="25" cy="88" rx="2.03" ry="2.03" opacity="0.9"/><ellipse cx="40.5" cy="63.5" rx="4.26" ry="4.26" opacity="0.8"/><ellipse cx="38" cy="58" rx="2.91" ry="2.91"/><ellipse cx="36" cy="74" rx="2.91" ry="2.91" opacity="0.7"/><ellipse cx="12" cy="84" rx="3.81" ry="3.81" opacity="0.6"/><ellipse cx="34" cy="85" rx="3.14" ry="3.14" opacity="0.6"/><ellipse cx="42" cy="68" rx="2.69" ry="2.69" opacity="0.7"/></g>
<g fill="#2890e4" opacity="0.72" filter="url(#w08)"><ellipse cx="25.3" cy="50" rx="1.82" ry="3.5"/><ellipse cx="25.5" cy="62" rx="1.96" ry="4.2"/><ellipse cx="25.5" cy="74" rx="1.96" ry="4.2"/><ellipse cx="25.5" cy="86" rx="1.82" ry="3.5"/><ellipse cx="22.6" cy="54" rx="2.02" ry="2.02"/><ellipse cx="24" cy="58" rx="1.63" ry="1.63"/><ellipse cx="26" cy="69.9" rx="1.92" ry="1.92"/><ellipse cx="25" cy="77" rx="1.54" ry="1.54"/><ellipse cx="26.5" cy="82" rx="1.54" ry="1.54"/><ellipse cx="25" cy="88" rx="1.44" ry="1.44" opacity="0.9"/></g>
<g fill="#38d840" opacity="0.9" filter="url(#w05)"><ellipse cx="22.6" cy="54" rx="1.39" ry="1.39"/><ellipse cx="24" cy="58" rx="1.12" ry="1.12"/><ellipse cx="26" cy="69.9" rx="1.32" ry="1.32"/><ellipse cx="25" cy="77" rx="1.06" ry="1.06"/><ellipse cx="26.5" cy="82" rx="1.06" ry="1.06"/><ellipse cx="25" cy="88" rx="0.99" ry="0.99" opacity="0.9"/></g>
</g>
<polygon points="643.57,98.16 636.3,95.11 636.88,93.73 631.1,95.1 634.18,100.18 634.75,98.8 642.03,101.84" fill="#f8101c"/>
<rect x="449.8" y="134.9" width="53.4" height="107.8" fill="#000" />
<g transform="translate(449.8 134.9)" clip-path="url(#cB2)">
<path d="M24.50 1.00 C26.00 0.07 30.40 0.07 31.90 1.00 C33.39 1.93 32.20 3.60 33.48 6.60 C34.76 9.60 38.23 15.27 39.55 19.00 C40.87 22.73 41.31 26.00 41.40 29.00 C41.49 32.00 40.70 34.75 40.08 37.00 C39.46 39.25 37.85 41.17 37.70 42.50 C37.55 43.83 38.42 44.00 39.20 45.00 C39.98 46.00 41.12 46.67 42.40 48.50 C43.68 50.33 46.48 53.42 46.90 56.00 C47.32 58.58 44.82 60.67 44.90 64.00 C44.98 67.33 46.90 71.67 47.40 76.00 C47.90 80.33 48.23 84.00 47.90 90.00 C47.57 96.00 51.78 108.33 45.40 112.00 C39.02 115.67 15.98 115.67 9.60 112.00 C3.22 108.33 7.43 96.00 7.10 90.00 C6.77 84.00 7.10 80.33 7.60 76.00 C8.10 71.67 10.02 67.33 10.10 64.00 C10.18 60.67 7.68 58.58 8.10 56.00 C8.52 53.42 11.08 50.33 12.60 48.50 C14.12 46.67 16.18 46.00 17.20 45.00 C18.22 44.00 18.85 43.83 18.70 42.50 C18.55 41.17 16.94 39.25 16.32 37.00 C15.70 34.75 14.91 32.00 15.00 29.00 C15.09 26.00 15.53 22.73 16.85 19.00 C18.17 15.27 21.64 9.60 22.92 6.60 C24.20 3.60 23.01 1.93 24.50 1.00Z" fill="#585862" filter="url(#b05)"/>
<path d="M24.50 1.00 C26.00 0.07 30.40 0.07 31.90 1.00 C33.39 1.93 32.20 3.60 33.48 6.60 C34.76 9.60 38.23 15.27 39.55 19.00 C40.87 22.73 41.31 26.00 41.40 29.00 C41.49 32.00 40.70 34.75 40.08 37.00 C39.46 39.25 37.85 41.17 37.70 42.50 C37.55 43.83 38.42 44.00 39.20 45.00 C39.98 46.00 41.12 46.67 42.40 48.50 C43.68 50.33 46.48 53.42 46.90 56.00 C47.32 58.58 44.82 60.67 44.90 64.00 C44.98 67.33 46.90 71.67 47.40 76.00 C47.90 80.33 48.23 84.00 47.90 90.00 C47.57 96.00 51.78 108.33 45.40 112.00 C39.02 115.67 15.98 115.67 9.60 112.00 C3.22 108.33 7.43 96.00 7.10 90.00 C6.77 84.00 7.10 80.33 7.60 76.00 C8.10 71.67 10.02 67.33 10.10 64.00 C10.18 60.67 7.68 58.58 8.10 56.00 C8.52 53.42 11.08 50.33 12.60 48.50 C14.12 46.67 16.18 46.00 17.20 45.00 C18.22 44.00 18.85 43.83 18.70 42.50 C18.55 41.17 16.94 39.25 16.32 37.00 C15.70 34.75 14.91 32.00 15.00 29.00 C15.09 26.00 15.53 22.73 16.85 19.00 C18.17 15.27 21.64 9.60 22.92 6.60 C24.20 3.60 23.01 1.93 24.50 1.00Z" fill="#9a9a9a" filter="url(#tex)" opacity="0.6"/>
<path d="M24.50 1.00 C26.00 0.07 30.40 0.07 31.90 1.00 C33.39 1.93 32.20 3.60 33.48 6.60 C34.76 9.60 38.23 15.27 39.55 19.00 C40.87 22.73 41.31 26.00 41.40 29.00 C41.49 32.00 40.70 34.75 40.08 37.00 C39.46 39.25 37.85 41.17 37.70 42.50 C37.55 43.83 38.42 44.00 39.20 45.00 C39.98 46.00 41.12 46.67 42.40 48.50 C43.68 50.33 46.48 53.42 46.90 56.00 C47.32 58.58 44.82 60.67 44.90 64.00 C44.98 67.33 46.90 71.67 47.40 76.00 C47.90 80.33 48.23 84.00 47.90 90.00 C47.57 96.00 51.78 108.33 45.40 112.00 C39.02 115.67 15.98 115.67 9.60 112.00 C3.22 108.33 7.43 96.00 7.10 90.00 C6.77 84.00 7.10 80.33 7.60 76.00 C8.10 71.67 10.02 67.33 10.10 64.00 C10.18 60.67 7.68 58.58 8.10 56.00 C8.52 53.42 11.08 50.33 12.60 48.50 C14.12 46.67 16.18 46.00 17.20 45.00 C18.22 44.00 18.85 43.83 18.70 42.50 C18.55 41.17 16.94 39.25 16.32 37.00 C15.70 34.75 14.91 32.00 15.00 29.00 C15.09 26.00 15.53 22.73 16.85 19.00 C18.17 15.27 21.64 9.60 22.92 6.60 C24.20 3.60 23.01 1.93 24.50 1.00Z" fill="#1c1c1c" filter="url(#tex2)" opacity="0.6"/>
<ellipse cx="28.2" cy="23" rx="10.56" ry="16.8" fill="#7a7a80" filter="url(#b1)" opacity="0.8"/>
<path d="M23 8 L21 30 M27 6 L26.5 28 M30 6 L30.5 28 M34 8 L36 30" fill="none" stroke="#181818" stroke-width="1.3" opacity="0.75" filter="url(#b03)"/>
<ellipse cx="20.5" cy="29.5" rx="2.6" ry="1.8" fill="#101010" filter="url(#b03)"/>
<ellipse cx="37.5" cy="33" rx="2.4" ry="3" fill="#101010" filter="url(#b03)"/>
<ellipse cx="15.5" cy="33" rx="2" ry="3" fill="#101010" filter="url(#b03)"/>
<ellipse cx="26.5" cy="39.5" rx="4.2" ry="4.4" fill="#a8a8a8" filter="url(#b05)"/>
<ellipse cx="26.5" cy="39.8" rx="2.3" ry="2.5" fill="#3c3c3c" filter="url(#b03)"/>
<ellipse cx="27" cy="84" rx="19" ry="27" fill="#3a3cb0" filter="url(#b2)" opacity="0.6"/>
<ellipse cx="19.21" cy="60.5" rx="6.75" ry="4.75" fill="#05051c" filter="url(#b05)" opacity="0.92"/>
<ellipse cx="33.79" cy="60.5" rx="6.75" ry="4.75" fill="#05051c" filter="url(#b05)" opacity="0.92"/>
<ellipse cx="26.5" cy="55.5" rx="2.6" ry="1.8" fill="#c0c0c0" filter="url(#b03)"/>
<ellipse cx="38.5" cy="80.5" rx="2.6" ry="3" fill="#050505" filter="url(#b03)"/>
<ellipse cx="33.5" cy="87.5" rx="2" ry="1.6" fill="#050505" filter="url(#b03)"/>
<g fill="#2238e0" opacity="0.56" filter="url(#w1)"><ellipse cx="23" cy="12" rx="3.92" ry="7.84" opacity="0.8"/><ellipse cx="32" cy="13" rx="3.92" ry="7.84" opacity="0.8"/><ellipse cx="22.5" cy="3" rx="2.03" ry="2.03" opacity="0.8"/><ellipse cx="27" cy="48" rx="6.16" ry="3.36" opacity="0.8"/><ellipse cx="12.5" cy="52" rx="3.36" ry="3.36" opacity="0.8"/><ellipse cx="21" cy="61" rx="5.6" ry="5.6"/><ellipse cx="32" cy="61" rx="5.6" ry="5.6"/><ellipse cx="23.6" cy="65.4" rx="4.42" ry="2.35" transform="rotate(-25 23.6 65.4)"/><ellipse cx="23.6" cy="79.4" rx="5.52" ry="2.48" transform="rotate(-12 23.6 79.4)"/><ellipse cx="22" cy="72" rx="2.97" ry="4.73"/><ellipse cx="14" cy="80" rx="3.36" ry="3.36"/><ellipse cx="34" cy="76" rx="3.36" ry="3.36"/><ellipse cx="30" cy="92" rx="3.36" ry="3.36" opacity="0.8"/><ellipse cx="9.5" cy="93.5" rx="2.16" ry="2.16"/></g>
<g fill="#2890e4" opacity="0.72" filter="url(#w08)"><ellipse cx="22.5" cy="3" rx="1.44" ry="1.44" opacity="0.8"/><ellipse cx="23.6" cy="65.4" rx="3.39" ry="1.8" transform="rotate(-25 23.6 65.4)"/><ellipse cx="23.6" cy="79.4" rx="4.24" ry="1.91" transform="rotate(-12 23.6 79.4)"/><ellipse cx="22" cy="72" rx="2.11" ry="3.36"/><ellipse cx="9.5" cy="93.5" rx="1.54" ry="1.54"/></g>
<g fill="#38d840" opacity="0.9" filter="url(#w05)"><ellipse cx="22.5" cy="3" rx="0.99" ry="0.99" opacity="0.8"/><ellipse cx="23.6" cy="65.4" rx="2.98" ry="1.58" transform="rotate(-25 23.6 65.4)"/><ellipse cx="23.6" cy="79.4" rx="3.72" ry="1.67" transform="rotate(-12 23.6 79.4)"/><ellipse cx="22" cy="72" rx="1.45" ry="2.31"/><ellipse cx="9.5" cy="93.5" rx="1.06" ry="1.06"/></g>
<g fill="#f0e220" opacity="0.95" filter="url(#w05)"><ellipse cx="23.6" cy="65.4" rx="1.79" ry="0.95" transform="rotate(-25 23.6 65.4)"/><ellipse cx="23.6" cy="79.4" rx="2.24" ry="1.01" transform="rotate(-12 23.6 79.4)"/></g>
</g>
<polygon points="507.69,201.92 498.86,197.74 499.72,195.93 493,197.5 496.04,203.7 496.89,201.89 505.71,206.08" fill="#fcfc08"/>
<rect x="519.1" y="134.9" width="53.4" height="107.8" fill="#000" />
<g transform="translate(519.1 134.9)" clip-path="url(#cB2)">
<path d="M25.14 3.00 C26.50 2.16 30.50 2.16 31.86 3.00 C33.22 3.84 32.14 5.34 33.30 8.04 C34.46 10.74 37.62 15.84 38.82 19.20 C40.02 22.56 40.42 25.50 40.50 28.20 C40.58 30.90 39.80 33.35 39.30 35.40 C38.80 37.45 37.55 39.23 37.50 40.50 C37.45 41.77 38.22 42.00 39.00 43.00 C39.78 44.00 40.92 44.67 42.20 46.50 C43.48 48.33 46.28 51.42 46.70 54.00 C47.12 56.58 44.62 58.67 44.70 62.00 C44.78 65.33 46.70 69.67 47.20 74.00 C47.70 78.33 48.03 81.67 47.70 88.00 C47.37 94.33 51.35 108.00 45.20 112.00 C39.05 116.00 16.95 116.00 10.80 112.00 C4.65 108.00 8.63 94.33 8.30 88.00 C7.97 81.67 8.30 78.33 8.80 74.00 C9.30 69.67 11.22 65.33 11.30 62.00 C11.38 58.67 8.88 56.58 9.30 54.00 C9.72 51.42 12.35 48.33 13.80 46.50 C15.25 44.67 17.05 44.00 18.00 43.00 C18.95 42.00 19.55 41.77 19.50 40.50 C19.45 39.23 18.20 37.45 17.70 35.40 C17.20 33.35 16.42 30.90 16.50 28.20 C16.58 25.50 16.98 22.56 18.18 19.20 C19.38 15.84 22.54 10.74 23.70 8.04 C24.86 5.34 23.78 3.84 25.14 3.00Z" fill="#5a5a5e" filter="url(#b05)"/>
<path d="M25.14 3.00 C26.50 2.16 30.50 2.16 31.86 3.00 C33.22 3.84 32.14 5.34 33.30 8.04 C34.46 10.74 37.62 15.84 38.82 19.20 C40.02 22.56 40.42 25.50 40.50 28.20 C40.58 30.90 39.80 33.35 39.30 35.40 C38.80 37.45 37.55 39.23 37.50 40.50 C37.45 41.77 38.22 42.00 39.00 43.00 C39.78 44.00 40.92 44.67 42.20 46.50 C43.48 48.33 46.28 51.42 46.70 54.00 C47.12 56.58 44.62 58.67 44.70 62.00 C44.78 65.33 46.70 69.67 47.20 74.00 C47.70 78.33 48.03 81.67 47.70 88.00 C47.37 94.33 51.35 108.00 45.20 112.00 C39.05 116.00 16.95 116.00 10.80 112.00 C4.65 108.00 8.63 94.33 8.30 88.00 C7.97 81.67 8.30 78.33 8.80 74.00 C9.30 69.67 11.22 65.33 11.30 62.00 C11.38 58.67 8.88 56.58 9.30 54.00 C9.72 51.42 12.35 48.33 13.80 46.50 C15.25 44.67 17.05 44.00 18.00 43.00 C18.95 42.00 19.55 41.77 19.50 40.50 C19.45 39.23 18.20 37.45 17.70 35.40 C17.20 33.35 16.42 30.90 16.50 28.20 C16.58 25.50 16.98 22.56 18.18 19.20 C19.38 15.84 22.54 10.74 23.70 8.04 C24.86 5.34 23.78 3.84 25.14 3.00Z" fill="#9a9a9a" filter="url(#tex)" opacity="0.6"/>
<path d="M25.14 3.00 C26.50 2.16 30.50 2.16 31.86 3.00 C33.22 3.84 32.14 5.34 33.30 8.04 C34.46 10.74 37.62 15.84 38.82 19.20 C40.02 22.56 40.42 25.50 40.50 28.20 C40.58 30.90 39.80 33.35 39.30 35.40 C38.80 37.45 37.55 39.23 37.50 40.50 C37.45 41.77 38.22 42.00 39.00 43.00 C39.78 44.00 40.92 44.67 42.20 46.50 C43.48 48.33 46.28 51.42 46.70 54.00 C47.12 56.58 44.62 58.67 44.70 62.00 C44.78 65.33 46.70 69.67 47.20 74.00 C47.70 78.33 48.03 81.67 47.70 88.00 C47.37 94.33 51.35 108.00 45.20 112.00 C39.05 116.00 16.95 116.00 10.80 112.00 C4.65 108.00 8.63 94.33 8.30 88.00 C7.97 81.67 8.30 78.33 8.80 74.00 C9.30 69.67 11.22 65.33 11.30 62.00 C11.38 58.67 8.88 56.58 9.30 54.00 C9.72 51.42 12.35 48.33 13.80 46.50 C15.25 44.67 17.05 44.00 18.00 43.00 C18.95 42.00 19.55 41.77 19.50 40.50 C19.45 39.23 18.20 37.45 17.70 35.40 C17.20 33.35 16.42 30.90 16.50 28.20 C16.58 25.50 16.98 22.56 18.18 19.20 C19.38 15.84 22.54 10.74 23.70 8.04 C24.86 5.34 23.78 3.84 25.14 3.00Z" fill="#1c1c1c" filter="url(#tex2)" opacity="0.6"/>
<ellipse cx="28.5" cy="22.8" rx="9.6" ry="15.12" fill="#78787c" filter="url(#b1)" opacity="0.8"/>
<path d="M25 10 L24 30 M32 10 L33 30" fill="none" stroke="#181818" stroke-width="1.3" opacity="0.7" filter="url(#b03)"/>
<ellipse cx="16.5" cy="33.5" rx="2" ry="3.2" fill="#101010" filter="url(#b03)"/>
<ellipse cx="39" cy="33" rx="2" ry="3" fill="#101010" filter="url(#b03)"/>
<ellipse cx="27.5" cy="40.5" rx="3.8" ry="3.4" fill="#b0b0b0" filter="url(#b05)"/>
<ellipse cx="27.5" cy="40.6" rx="2" ry="1.8" fill="#3c3c3c" filter="url(#b03)"/>
<ellipse cx="20.75" cy="59.5" rx="6.25" ry="3.75" fill="#0a0a14" filter="url(#b05)" opacity="0.92"/>
<ellipse cx="34.25" cy="59.5" rx="6.25" ry="3.75" fill="#0a0a14" filter="url(#b05)" opacity="0.92"/>
<ellipse cx="27.5" cy="54" rx="3" ry="2.2" fill="#c4c4c4" filter="url(#b03)"/>
<ellipse cx="27.5" cy="54" rx="1.4" ry="1" fill="#444" />
<ellipse cx="24" cy="84.5" rx="2.8" ry="2.6" fill="#050505" filter="url(#b03)"/>
<g fill="#2238e0" opacity="0.56" filter="url(#w1)"><ellipse cx="29.6" cy="14.3" rx="3.1" ry="4.59"/><ellipse cx="26" cy="19" rx="3.36" ry="5.6" opacity="0.8"/><ellipse cx="33" cy="24" rx="2.69" ry="2.69" opacity="0.8"/><ellipse cx="29" cy="3.5" rx="2.03" ry="2.03" opacity="0.8"/><ellipse cx="33" cy="35" rx="3.36" ry="1.68" opacity="0.8"/><ellipse cx="44.5" cy="42" rx="1.76" ry="1.76"/><ellipse cx="25" cy="49" rx="2.8" ry="2.8" opacity="0.8"/><ellipse cx="29.8" cy="59.8" rx="3.24" ry="5.67"/><ellipse cx="28.2" cy="68.4" rx="3.51" ry="4.05"/><ellipse cx="33" cy="71" rx="4.32" ry="2.03" transform="rotate(-25 33 71)"/><ellipse cx="26" cy="74" rx="3.24" ry="3.24" opacity="0.8"/><ellipse cx="18" cy="74" rx="5.04" ry="2.02" transform="rotate(-15 18 74)"/><ellipse cx="25" cy="78" rx="5.04" ry="2.02" transform="rotate(20 25 78)"/><ellipse cx="13" cy="84" rx="2.91" ry="2.91"/><ellipse cx="20" cy="90" rx="2.91" ry="2.91" opacity="0.8"/><ellipse cx="38" cy="66" rx="2.91" ry="2.91" opacity="0.8"/></g>
<g fill="#2890e4" opacity="0.72" filter="url(#w08)"><ellipse cx="29.6" cy="14.3" rx="2.21" ry="3.26"/><ellipse cx="29" cy="3.5" rx="1.44" ry="1.44" opacity="0.8"/><ellipse cx="44.5" cy="42" rx="1.25" ry="1.25"/><ellipse cx="29.8" cy="59.8" rx="2.3" ry="4.03"/><ellipse cx="28.2" cy="68.4" rx="2.5" ry="2.88"/><ellipse cx="33" cy="71" rx="3.07" ry="1.44" transform="rotate(-25 33 71)"/><ellipse cx="26" cy="74" rx="2.3" ry="2.3" opacity="0.8"/></g>
<g fill="#38d840" opacity="0.9" filter="url(#w05)"><ellipse cx="29.6" cy="14.3" rx="1.52" ry="2.24"/><ellipse cx="29" cy="3.5" rx="0.99" ry="0.99" opacity="0.8"/><ellipse cx="44.5" cy="42" rx="0.86" ry="0.86"/><ellipse cx="29.8" cy="59.8" rx="1.58" ry="2.77"/><ellipse cx="28.2" cy="68.4" rx="1.72" ry="1.98"/><ellipse cx="33" cy="71" rx="2.11" ry="0.99" transform="rotate(-25 33 71)"/><ellipse cx="26" cy="74" rx="1.58" ry="1.58" opacity="0.8"/></g>
</g>
<polygon points="580.69,201.92 571.86,197.74 572.72,195.93 566,197.5 569.04,203.7 569.89,201.89 578.71,206.08" fill="#fcfc08"/>
<rect x="588.4" y="134.9" width="53.4" height="107.8" fill="#000" />
<g transform="translate(588.4 134.9)" clip-path="url(#cB2)">
<path d="M22.84 1.50 C24.24 0.65 28.16 0.65 29.56 1.50 C30.96 2.35 30.08 3.87 31.24 6.61 C32.40 9.35 35.36 14.52 36.52 17.93 C37.68 21.33 38.12 24.31 38.20 27.05 C38.28 29.79 37.67 32.27 37.00 34.35 C36.33 36.43 34.42 38.56 34.20 39.50 C33.98 40.44 34.40 39.33 35.70 40.00 C37.00 40.67 40.20 41.67 42.00 43.50 C43.80 45.33 46.08 48.42 46.50 51.00 C46.92 53.58 44.42 55.67 44.50 59.00 C44.58 62.33 46.50 66.67 47.00 71.00 C47.50 75.33 47.83 78.17 47.50 85.00 C47.17 91.83 51.25 107.50 45.00 112.00 C38.75 116.50 16.25 116.50 10.00 112.00 C3.75 107.50 7.83 91.83 7.50 85.00 C7.17 78.17 7.50 75.33 8.00 71.00 C8.50 66.67 10.42 62.33 10.50 59.00 C10.58 55.67 8.08 53.58 8.50 51.00 C8.92 48.42 11.63 45.33 13.00 43.50 C14.37 41.67 15.83 40.67 16.70 40.00 C17.57 39.33 18.42 40.44 18.20 39.50 C17.98 38.56 16.07 36.43 15.40 34.35 C14.73 32.27 14.12 29.79 14.20 27.05 C14.28 24.31 14.72 21.33 15.88 17.93 C17.04 14.52 20.00 9.35 21.16 6.61 C22.32 3.87 21.44 2.35 22.84 1.50Z" fill="#5a5a5c" filter="url(#b05)"/>
<path d="M22.84 1.50 C24.24 0.65 28.16 0.65 29.56 1.50 C30.96 2.35 30.08 3.87 31.24 6.61 C32.40 9.35 35.36 14.52 36.52 17.93 C37.68 21.33 38.12 24.31 38.20 27.05 C38.28 29.79 37.67 32.27 37.00 34.35 C36.33 36.43 34.42 38.56 34.20 39.50 C33.98 40.44 34.40 39.33 35.70 40.00 C37.00 40.67 40.20 41.67 42.00 43.50 C43.80 45.33 46.08 48.42 46.50 51.00 C46.92 53.58 44.42 55.67 44.50 59.00 C44.58 62.33 46.50 66.67 47.00 71.00 C47.50 75.33 47.83 78.17 47.50 85.00 C47.17 91.83 51.25 107.50 45.00 112.00 C38.75 116.50 16.25 116.50 10.00 112.00 C3.75 107.50 7.83 91.83 7.50 85.00 C7.17 78.17 7.50 75.33 8.00 71.00 C8.50 66.67 10.42 62.33 10.50 59.00 C10.58 55.67 8.08 53.58 8.50 51.00 C8.92 48.42 11.63 45.33 13.00 43.50 C14.37 41.67 15.83 40.67 16.70 40.00 C17.57 39.33 18.42 40.44 18.20 39.50 C17.98 38.56 16.07 36.43 15.40 34.35 C14.73 32.27 14.12 29.79 14.20 27.05 C14.28 24.31 14.72 21.33 15.88 17.93 C17.04 14.52 20.00 9.35 21.16 6.61 C22.32 3.87 21.44 2.35 22.84 1.50Z" fill="#9a9a9a" filter="url(#tex)" opacity="0.6"/>
<path d="M22.84 1.50 C24.24 0.65 28.16 0.65 29.56 1.50 C30.96 2.35 30.08 3.87 31.24 6.61 C32.40 9.35 35.36 14.52 36.52 17.93 C37.68 21.33 38.12 24.31 38.20 27.05 C38.28 29.79 37.67 32.27 37.00 34.35 C36.33 36.43 34.42 38.56 34.20 39.50 C33.98 40.44 34.40 39.33 35.70 40.00 C37.00 40.67 40.20 41.67 42.00 43.50 C43.80 45.33 46.08 48.42 46.50 51.00 C46.92 53.58 44.42 55.67 44.50 59.00 C44.58 62.33 46.50 66.67 47.00 71.00 C47.50 75.33 47.83 78.17 47.50 85.00 C47.17 91.83 51.25 107.50 45.00 112.00 C38.75 116.50 16.25 116.50 10.00 112.00 C3.75 107.50 7.83 91.83 7.50 85.00 C7.17 78.17 7.50 75.33 8.00 71.00 C8.50 66.67 10.42 62.33 10.50 59.00 C10.58 55.67 8.08 53.58 8.50 51.00 C8.92 48.42 11.63 45.33 13.00 43.50 C14.37 41.67 15.83 40.67 16.70 40.00 C17.57 39.33 18.42 40.44 18.20 39.50 C17.98 38.56 16.07 36.43 15.40 34.35 C14.73 32.27 14.12 29.79 14.20 27.05 C14.28 24.31 14.72 21.33 15.88 17.93 C17.04 14.52 20.00 9.35 21.16 6.61 C22.32 3.87 21.44 2.35 22.84 1.50Z" fill="#1c1c1c" filter="url(#tex2)" opacity="0.6"/>
<ellipse cx="26.2" cy="21.58" rx="9.6" ry="15.33" fill="#767678" filter="url(#b1)" opacity="0.8"/>
<ellipse cx="25.8" cy="27.5" rx="8.2" ry="8" fill="#8a8a8a" filter="url(#b05)"/>
<ellipse cx="25.8" cy="27.8" rx="6.4" ry="6.2" fill="#5c5c5c" filter="url(#b05)"/>
<ellipse cx="25.5" cy="18.5" rx="7.5" ry="2.6" fill="#9a9a9a" filter="url(#b05)" opacity="0.9"/>
<ellipse cx="14.5" cy="31.5" rx="2.8" ry="3.6" fill="#080808" filter="url(#b03)"/>
<ellipse cx="37" cy="30.5" rx="2.8" ry="3.6" fill="#080808" filter="url(#b03)"/>
<ellipse cx="16" cy="24" rx="2.5" ry="1.5" fill="#111" filter="url(#b03)"/>
<ellipse cx="34" cy="24" rx="2.5" ry="1.5" fill="#111" filter="url(#b03)"/>
<ellipse cx="18.51" cy="57.5" rx="6.75" ry="4" fill="#05050e" filter="url(#b05)" opacity="0.92"/>
<ellipse cx="33.09" cy="57.5" rx="6.75" ry="4" fill="#05050e" filter="url(#b05)" opacity="0.92"/>
<ellipse cx="25.5" cy="52" rx="3" ry="2.2" fill="#c4c4c4" filter="url(#b03)"/>
<ellipse cx="25.5" cy="52" rx="1.4" ry="1" fill="#444" />
<ellipse cx="33.3" cy="84.8" rx="2" ry="1.8" fill="#04041c" filter="url(#b03)"/>
<g fill="#2238e0" opacity="0.56" filter="url(#w1)"><ellipse cx="25.7" cy="12.5" rx="6.16" ry="2.91" opacity="0.85"/><ellipse cx="24" cy="4" rx="2.24" ry="3.36" opacity="0.8"/><ellipse cx="39.3" cy="43.2" rx="3.07" ry="3.07"/><ellipse cx="26" cy="46" rx="5.6" ry="2.46" opacity="0.8"/><ellipse cx="23.8" cy="55" rx="5.04" ry="3.36"/><ellipse cx="32" cy="56" rx="3.92" ry="3.92"/><ellipse cx="26.6" cy="70.6" rx="4.59" ry="3.51"/><ellipse cx="28" cy="69.8" rx="2.07" ry="2.07"/><ellipse cx="23" cy="72.5" rx="3.07" ry="1.79"/><ellipse cx="18" cy="85" rx="3.92" ry="1.79"/><ellipse cx="30" cy="80" rx="3.36" ry="3.36" opacity="0.8"/><ellipse cx="12" cy="89" rx="2.69" ry="2.69"/><ellipse cx="17" cy="66" rx="2.91" ry="2.91" opacity="0.8"/><ellipse cx="22" cy="100" rx="2.46" ry="2.46" opacity="0.7"/><ellipse cx="33.3" cy="84.8" rx="1.57" ry="1.57"/></g>
<g fill="#2890e4" opacity="0.72" filter="url(#w08)"><ellipse cx="39.3" cy="43.2" rx="1.68" ry="1.68"/><ellipse cx="26.6" cy="70.6" rx="3.26" ry="2.5"/><ellipse cx="28" cy="69.8" rx="1.59" ry="1.59"/><ellipse cx="23" cy="72.5" rx="1.68" ry="0.98"/></g>
<g fill="#38d840" opacity="0.9" filter="url(#w05)"><ellipse cx="26.6" cy="70.6" rx="2.24" ry="1.72"/><ellipse cx="28" cy="69.8" rx="1.4" ry="1.4"/></g>
<g fill="#f0e220" opacity="0.95" filter="url(#w05)"><ellipse cx="28" cy="69.8" rx="0.84" ry="0.84"/></g>
</g>
<polygon points="648.73,199.4 639.27,195.19 640.08,193.36 633.4,195.1 636.59,201.22 637.4,199.39 646.87,203.6" fill="#fcfc08"/>
<text x="59.8" y="275.4" font-size="11.2" text-anchor="middle" font-family="Liberation Serif, serif" font-weight="bold" >6h</text>
<text x="107" y="275.4" font-size="11.2" text-anchor="middle" font-family="Liberation Serif, serif" font-weight="bold" >24h</text>
<text x="154.6" y="275.4" font-size="11.2" text-anchor="middle" font-family="Liberation Serif, serif" font-weight="bold" >48h</text>
<text x="207.9" y="275.4" font-size="11.2" text-anchor="middle" font-family="Liberation Serif, serif" font-weight="bold" >72h</text>
<text x="261.4" y="275.4" font-size="11.2" text-anchor="middle" font-family="Liberation Serif, serif" font-weight="bold" >5d</text>
<text x="320" y="275.4" font-size="11.2" text-anchor="middle" font-family="Liberation Serif, serif" font-weight="bold" >7d</text>
<text x="372.9" y="275.4" font-size="11.2" text-anchor="middle" font-family="Liberation Serif, serif" font-weight="bold" >10d</text>
<text x="27.9" y="312.9" font-size="13.5" text-anchor="middle" font-family="Liberation Serif, serif" font-weight="bold" transform="rotate(-90 27.9 312.9)" >H&amp;E</text>
<text x="27.9" y="383.2" font-size="13.5" text-anchor="middle" font-family="Liberation Serif, serif" font-weight="bold" transform="rotate(-90 27.9 383.2)" >Aut</text>
<text x="79.1" y="334.5" font-size="9.7" text-anchor="middle" font-family="Liberation Serif, serif" font-weight="bold" >1 mm</text>
<text x="79.1" y="404.4" font-size="9.7" text-anchor="middle" font-family="Liberation Serif, serif" font-weight="bold" >1 mm</text>
<rect x="78" y="337.8" width="3" height="1.2" fill="#000" />
<rect x="78" y="406.7" width="3" height="1.2" fill="#000" />
<clipPath id="tc1"><path d="M58.00 290.70 C59.33 290.80 61.17 292.08 62.60 293.30 C64.03 294.52 65.70 296.78 66.60 298.00 C67.50 299.22 68.05 299.90 68.00 300.60 C67.95 301.30 66.30 300.53 66.30 302.20 C66.30 303.87 67.72 307.63 68.00 310.60 C68.28 313.57 68.57 316.88 68.00 320.00 C67.43 323.12 65.93 326.42 64.60 329.30 C63.27 332.18 61.67 335.75 60.00 337.30 C58.33 338.85 56.60 339.27 54.60 338.60 C52.60 337.93 49.77 335.52 48.00 333.30 C46.23 331.08 45.00 327.97 44.00 325.30 C43.00 322.63 42.12 319.97 42.00 317.30 C41.88 314.63 42.52 311.52 43.30 309.30 C44.08 307.08 45.37 305.12 46.70 304.00 C48.03 302.88 50.20 303.72 51.30 302.60 C52.40 301.48 52.75 298.95 53.30 297.30 C53.85 295.65 53.82 293.80 54.60 292.70 C55.38 291.60 56.67 290.60 58.00 290.70Z"/></clipPath>
<path d="M58.00 290.70 C59.33 290.80 61.17 292.08 62.60 293.30 C64.03 294.52 65.70 296.78 66.60 298.00 C67.50 299.22 68.05 299.90 68.00 300.60 C67.95 301.30 66.30 300.53 66.30 302.20 C66.30 303.87 67.72 307.63 68.00 310.60 C68.28 313.57 68.57 316.88 68.00 320.00 C67.43 323.12 65.93 326.42 64.60 329.30 C63.27 332.18 61.67 335.75 60.00 337.30 C58.33 338.85 56.60 339.27 54.60 338.60 C52.60 337.93 49.77 335.52 48.00 333.30 C46.23 331.08 45.00 327.97 44.00 325.30 C43.00 322.63 42.12 319.97 42.00 317.30 C41.88 314.63 42.52 311.52 43.30 309.30 C44.08 307.08 45.37 305.12 46.70 304.00 C48.03 302.88 50.20 303.72 51.30 302.60 C52.40 301.48 52.75 298.95 53.30 297.30 C53.85 295.65 53.82 293.80 54.60 292.70 C55.38 291.60 56.67 290.60 58.00 290.70Z" fill="#cb7cc6" filter="url(#b03)"/>
<g clip-path="url(#tc1)">
<ellipse cx="55" cy="318" rx="9" ry="13" fill="#d492d0" opacity="0.7" filter="url(#b2)"/>
<ellipse cx="60" cy="300" rx="4" ry="6" fill="#d08ccc" opacity="0.6" filter="url(#b1)"/>
<ellipse cx="47" cy="316" rx="3.5" ry="7" fill="#c470be" opacity="0.6" filter="url(#b1)"/>
<ellipse cx="60" cy="330" rx="5" ry="6" fill="#c674c0" opacity="0.5" filter="url(#b1)"/>
</g>
<clipPath id="tc2"><path d="M107.90 288.70 C109.23 289.03 111.72 290.57 112.60 292.00 C113.48 293.43 113.20 295.75 113.20 297.30 C113.20 298.85 112.15 299.97 112.60 301.30 C113.05 302.63 115.13 303.75 115.90 305.30 C116.67 306.85 117.20 308.82 117.20 310.60 C117.20 312.38 115.67 314.00 115.90 316.00 C116.13 318.00 118.15 320.17 118.60 322.60 C119.05 325.03 119.27 328.15 118.60 330.60 C117.93 333.05 116.38 335.42 114.60 337.30 C112.82 339.18 109.90 341.02 107.90 341.90 C105.90 342.78 104.15 343.37 102.60 342.60 C101.05 341.83 99.60 339.73 98.60 337.30 C97.60 334.87 96.82 331.12 96.60 328.00 C96.38 324.88 97.08 321.50 97.30 318.60 C97.52 315.70 97.68 313.03 97.90 310.60 C98.12 308.17 98.27 306.00 98.60 304.00 C98.93 302.00 99.35 300.38 99.90 298.60 C100.45 296.82 101.12 294.73 101.90 293.30 C102.68 291.87 103.60 290.77 104.60 290.00 C105.60 289.23 106.57 288.37 107.90 288.70Z"/></clipPath>
<path d="M107.90 288.70 C109.23 289.03 111.72 290.57 112.60 292.00 C113.48 293.43 113.20 295.75 113.20 297.30 C113.20 298.85 112.15 299.97 112.60 301.30 C113.05 302.63 115.13 303.75 115.90 305.30 C116.67 306.85 117.20 308.82 117.20 310.60 C117.20 312.38 115.67 314.00 115.90 316.00 C116.13 318.00 118.15 320.17 118.60 322.60 C119.05 325.03 119.27 328.15 118.60 330.60 C117.93 333.05 116.38 335.42 114.60 337.30 C112.82 339.18 109.90 341.02 107.90 341.90 C105.90 342.78 104.15 343.37 102.60 342.60 C101.05 341.83 99.60 339.73 98.60 337.30 C97.60 334.87 96.82 331.12 96.60 328.00 C96.38 324.88 97.08 321.50 97.30 318.60 C97.52 315.70 97.68 313.03 97.90 310.60 C98.12 308.17 98.27 306.00 98.60 304.00 C98.93 302.00 99.35 300.38 99.90 298.60 C100.45 296.82 101.12 294.73 101.90 293.30 C102.68 291.87 103.60 290.77 104.60 290.00 C105.60 289.23 106.57 288.37 107.90 288.70Z" fill="#b95eb2" filter="url(#b03)"/>
<g clip-path="url(#tc2)">
<ellipse cx="105.5" cy="300.6" rx="2" ry="1" fill="#ffffff" opacity="0.9" filter="url(#b03)"/>
<ellipse cx="108" cy="328" rx="8" ry="10" fill="#ac4ea4" opacity="0.7" filter="url(#b2)"/>
<ellipse cx="106" cy="296" rx="4" ry="5" fill="#c474c0" opacity="0.7" filter="url(#b1)"/>
<ellipse cx="101" cy="330" rx="3" ry="6" fill="#a0489a" opacity="0.5" filter="url(#b1)"/>
<ellipse cx="111" cy="312" rx="4" ry="4" fill="#c880c4" opacity="0.6" filter="url(#b1)"/>
</g>
<path d="M100 317 Q106 313.5 110 315.5 Q114 317.5 116 316" fill="none" stroke="#f4e4f4" stroke-width="1.0" opacity="0.9" filter="url(#b03)"/>
<clipPath id="tc3"><path d="M151.90 288.90 C153.53 288.50 156.37 288.23 158.40 288.90 C160.43 289.57 162.88 291.13 164.10 292.90 C165.32 294.67 164.88 298.00 165.70 299.50 C166.52 301.00 167.92 300.42 169.00 301.90 C170.08 303.38 171.25 305.97 172.20 308.40 C173.15 310.83 174.28 313.78 174.70 316.50 C175.12 319.22 175.12 321.98 174.70 324.70 C174.28 327.42 173.57 330.63 172.20 332.80 C170.83 334.97 168.80 336.48 166.50 337.70 C164.20 338.92 161.10 339.70 158.40 340.10 C155.70 340.50 152.33 341.05 150.30 340.10 C148.27 339.15 147.83 336.97 146.20 334.40 C144.57 331.83 141.32 327.68 140.50 324.70 C139.68 321.72 140.75 319.75 141.30 316.50 C141.85 313.25 143.12 308.45 143.80 305.20 C144.48 301.95 144.60 299.32 145.40 297.00 C146.20 294.68 147.52 292.65 148.60 291.30 C149.68 289.95 150.27 289.30 151.90 288.90Z"/></clipPath>
<path d="M151.90 288.90 C153.53 288.50 156.37 288.23 158.40 288.90 C160.43 289.57 162.88 291.13 164.10 292.90 C165.32 294.67 164.88 298.00 165.70 299.50 C166.52 301.00 167.92 300.42 169.00 301.90 C170.08 303.38 171.25 305.97 172.20 308.40 C173.15 310.83 174.28 313.78 174.70 316.50 C175.12 319.22 175.12 321.98 174.70 324.70 C174.28 327.42 173.57 330.63 172.20 332.80 C170.83 334.97 168.80 336.48 166.50 337.70 C164.20 338.92 161.10 339.70 158.40 340.10 C155.70 340.50 152.33 341.05 150.30 340.10 C148.27 339.15 147.83 336.97 146.20 334.40 C144.57 331.83 141.32 327.68 140.50 324.70 C139.68 321.72 140.75 319.75 141.30 316.50 C141.85 313.25 143.12 308.45 143.80 305.20 C144.48 301.95 144.60 299.32 145.40 297.00 C146.20 294.68 147.52 292.65 148.60 291.30 C149.68 289.95 150.27 289.30 151.90 288.90Z" fill="#b98ab4" filter="url(#b03)"/>
<g clip-path="url(#tc3)">
<ellipse cx="158" cy="318" rx="12" ry="15" fill="#c39cc2" opacity="0.7" filter="url(#b2)"/>
<ellipse cx="151" cy="300" rx="5" ry="7" fill="#b07aa8" opacity="0.7" filter="url(#b1)"/>
<ellipse cx="166" cy="326" rx="5" ry="8" fill="#ac74a0" opacity="0.6" filter="url(#b1)"/>
<ellipse cx="150" cy="328" rx="5" ry="7" fill="#c8a8cc" opacity="0.6" filter="url(#b1)"/>
<ellipse cx="160" cy="306" rx="4" ry="4" fill="#a46c9c" opacity="0.5" filter="url(#b1)"/>
</g>
<path d="M151.9 288.9 Q158.4 288.2 164.1 292.9 Q165.5 297 165.7 299.5 Q168 300.8 169 301.9 Q172.2 308.4 174.7 316.5 L174.7 324" fill="none" stroke="#5c3470" stroke-width="1.1" opacity="0.85" filter="url(#b03)"/>
<clipPath id="tc4"><path d="M210.50 288.10 C212.40 287.97 214.97 290.08 217.00 291.30 C219.03 292.52 221.35 293.63 222.70 295.40 C224.05 297.17 224.02 299.73 225.10 301.90 C226.18 304.07 228.12 305.97 229.20 308.40 C230.28 310.83 231.05 313.78 231.60 316.50 C232.15 319.22 233.03 321.98 232.50 324.70 C231.97 327.42 230.17 330.63 228.40 332.80 C226.63 334.97 224.35 336.62 221.90 337.70 C219.45 338.78 216.42 339.30 213.70 339.30 C210.98 339.30 208.03 338.78 205.60 337.70 C203.17 336.62 200.87 334.70 199.10 332.80 C197.33 330.90 195.68 329.02 195.00 326.30 C194.32 323.58 194.58 319.48 195.00 316.50 C195.42 313.52 196.28 311.10 197.50 308.40 C198.72 305.70 200.95 303.02 202.30 300.30 C203.65 297.58 204.23 294.13 205.60 292.10 C206.97 290.07 208.60 288.23 210.50 288.10Z"/></clipPath>
<path d="M210.50 288.10 C212.40 287.97 214.97 290.08 217.00 291.30 C219.03 292.52 221.35 293.63 222.70 295.40 C224.05 297.17 224.02 299.73 225.10 301.90 C226.18 304.07 228.12 305.97 229.20 308.40 C230.28 310.83 231.05 313.78 231.60 316.50 C232.15 319.22 233.03 321.98 232.50 324.70 C231.97 327.42 230.17 330.63 228.40 332.80 C226.63 334.97 224.35 336.62 221.90 337.70 C219.45 338.78 216.42 339.30 213.70 339.30 C210.98 339.30 208.03 338.78 205.60 337.70 C203.17 336.62 200.87 334.70 199.10 332.80 C197.33 330.90 195.68 329.02 195.00 326.30 C194.32 323.58 194.58 319.48 195.00 316.50 C195.42 313.52 196.28 311.10 197.50 308.40 C198.72 305.70 200.95 303.02 202.30 300.30 C203.65 297.58 204.23 294.13 205.60 292.10 C206.97 290.07 208.60 288.23 210.50 288.10Z" fill="#c255b2" filter="url(#b03)"/>
<g clip-path="url(#tc4)">
<ellipse cx="213.5" cy="314" rx="8.5" ry="16" fill="#e486c0" opacity="0.85" filter="url(#b2)"/>
<ellipse cx="214.5" cy="310" rx="5" ry="9" fill="#f4a0c0" opacity="0.75" filter="url(#b1)"/>
<ellipse cx="212" cy="326" rx="5" ry="6" fill="#f0b4d4" opacity="0.6" filter="url(#b1)"/>
<ellipse cx="201" cy="324" rx="4.5" ry="7" fill="#b448a8" opacity="0.7" filter="url(#b1)"/>
<ellipse cx="226" cy="320" rx="4.5" ry="8" fill="#b448a8" opacity="0.6" filter="url(#b1)"/>
<ellipse cx="212" cy="335" rx="8" ry="3" fill="#ae44a2" opacity="0.6" filter="url(#b1)"/>
</g>
<clipPath id="tc5"><path d="M253.90 288.70 C255.68 287.45 261.25 287.90 264.60 288.30 C267.95 288.70 271.25 289.85 274.00 291.10 C276.75 292.35 279.32 293.43 281.10 295.80 C282.88 298.17 284.10 301.35 284.70 305.30 C285.30 309.25 285.30 315.55 284.70 319.50 C284.10 323.45 283.27 326.43 281.10 329.00 C278.93 331.57 274.85 333.52 271.70 334.90 C268.55 336.28 264.77 337.30 262.20 337.30 C259.63 337.30 257.48 337.08 256.30 334.90 C255.12 332.72 255.30 328.73 255.10 324.20 C254.90 319.67 255.30 312.43 255.10 307.70 C254.90 302.97 254.10 298.97 253.90 295.80 C253.70 292.63 252.12 289.95 253.90 288.70Z"/></clipPath>
<path d="M253.90 288.70 C255.68 287.45 261.25 287.90 264.60 288.30 C267.95 288.70 271.25 289.85 274.00 291.10 C276.75 292.35 279.32 293.43 281.10 295.80 C282.88 298.17 284.10 301.35 284.70 305.30 C285.30 309.25 285.30 315.55 284.70 319.50 C284.10 323.45 283.27 326.43 281.10 329.00 C278.93 331.57 274.85 333.52 271.70 334.90 C268.55 336.28 264.77 337.30 262.20 337.30 C259.63 337.30 257.48 337.08 256.30 334.90 C255.12 332.72 255.30 328.73 255.10 324.20 C254.90 319.67 255.30 312.43 255.10 307.70 C254.90 302.97 254.10 298.97 253.90 295.80 C253.70 292.63 252.12 289.95 253.90 288.70Z" fill="#8e54a2" filter="url(#b03)"/>
<g clip-path="url(#tc5)">
<ellipse cx="270.3" cy="314" rx="11.3" ry="20.5" fill="#d2c2d0" opacity="0.97" filter="url(#b08)"/>
<ellipse cx="271" cy="313" rx="8.5" ry="12" fill="#b49cae" opacity="0.7" filter="url(#b1)"/>
<ellipse cx="270.3" cy="314" rx="11" ry="20" fill="#6c4868" opacity="0.8" filter="url(#tex)"/>
<ellipse cx="270.3" cy="314" rx="11" ry="20" fill="#ffffff" opacity="0.7" filter="url(#tex2)"/>
<ellipse cx="263" cy="299" rx="4.5" ry="3" fill="#f4eef4" opacity="0.9" filter="url(#b05)"/>
<ellipse cx="270" cy="329" rx="8" ry="3.5" fill="#f0e8f0" opacity="0.9" filter="url(#b08)"/>
<ellipse cx="262" cy="291.5" rx="8" ry="2.2" fill="#a468c0" opacity="0.8" filter="url(#b05)"/>
</g>
<path d="M253.90 288.70 C255.68 287.45 261.25 287.90 264.60 288.30 C267.95 288.70 271.25 289.85 274.00 291.10 C276.75 292.35 279.32 293.43 281.10 295.80 C282.88 298.17 284.10 301.35 284.70 305.30 C285.30 309.25 285.30 315.55 284.70 319.50 C284.10 323.45 283.27 326.43 281.10 329.00 C278.93 331.57 274.85 333.52 271.70 334.90 C268.55 336.28 264.77 337.30 262.20 337.30 C259.63 337.30 257.48 337.08 256.30 334.90 C255.12 332.72 255.30 328.73 255.10 324.20 C254.90 319.67 255.30 312.43 255.10 307.70 C254.90 302.97 254.10 298.97 253.90 295.80 C253.70 292.63 252.12 289.95 253.90 288.70Z" fill="none" stroke="#7c4494" stroke-width="1.3" opacity="0.8" filter="url(#b03)"/>
<clipPath id="tc6"><path d="M326.10 288.70 C329.85 287.72 335.95 288.32 339.10 289.90 C342.25 291.48 343.62 294.85 345.00 298.20 C346.38 301.55 347.58 306.05 347.40 310.00 C347.22 313.95 345.48 318.35 343.90 321.90 C342.32 325.45 340.87 329.13 337.90 331.30 C334.93 333.47 329.65 334.90 326.10 334.90 C322.55 334.90 318.97 333.08 316.60 331.30 C314.23 329.52 313.15 327.75 311.90 324.20 C310.65 320.65 309.10 313.55 309.10 310.00 C309.10 306.45 310.65 305.27 311.90 302.90 C313.15 300.53 314.23 298.17 316.60 295.80 C318.97 293.43 322.35 289.68 326.10 288.70Z"/></clipPath>
<path d="M326.10 288.70 C329.85 287.72 335.95 288.32 339.10 289.90 C342.25 291.48 343.62 294.85 345.00 298.20 C346.38 301.55 347.58 306.05 347.40 310.00 C347.22 313.95 345.48 318.35 343.90 321.90 C342.32 325.45 340.87 329.13 337.90 331.30 C334.93 333.47 329.65 334.90 326.10 334.90 C322.55 334.90 318.97 333.08 316.60 331.30 C314.23 329.52 313.15 327.75 311.90 324.20 C310.65 320.65 309.10 313.55 309.10 310.00 C309.10 306.45 310.65 305.27 311.90 302.90 C313.15 300.53 314.23 298.17 316.60 295.80 C318.97 293.43 322.35 289.68 326.10 288.70Z" fill="#b492cc" filter="url(#b03)"/>
<g clip-path="url(#tc6)">
<ellipse cx="330.5" cy="313.5" rx="14.5" ry="19.5" fill="#e4dae8" opacity="0.96" filter="url(#b1)"/>
<ellipse cx="331" cy="314" rx="11" ry="14" fill="#d6c8dc" opacity="0.6" filter="url(#b1)"/>
<ellipse cx="330.5" cy="313.5" rx="13.5" ry="18" fill="#9c7cb8" opacity="0.7" filter="url(#tex)"/>
<ellipse cx="330.5" cy="313.5" rx="13.5" ry="18" fill="#ffffff" opacity="0.6" filter="url(#tex2)"/>
<ellipse cx="327" cy="304" rx="8" ry="6" fill="#cdbcd8" opacity="0.5" filter="url(#b08)"/>
<ellipse cx="333" cy="324" rx="7" ry="5" fill="#d8cce0" opacity="0.5" filter="url(#b08)"/>
</g>
<path d="M310.5 318 Q308.6 308 313 300 Q319 291 328 289.2 Q337 288.8 341 292" fill="none" stroke="#9c6cc0" stroke-width="2.2" opacity="0.9" filter="url(#b03)"/>
<clipPath id="tc7"><path d="M387.60 288.70 C389.57 289.22 392.72 290.32 394.70 292.30 C396.68 294.28 398.12 297.25 399.50 300.60 C400.88 303.95 403.00 308.47 403.00 312.40 C403.00 316.33 401.27 321.05 399.50 324.20 C397.73 327.35 394.77 329.52 392.40 331.30 C390.03 333.08 387.87 334.70 385.30 334.90 C382.73 335.10 379.37 334.28 377.00 332.50 C374.63 330.72 372.40 327.55 371.10 324.20 C369.80 320.85 369.20 316.33 369.20 312.40 C369.20 308.47 369.80 303.95 371.10 300.60 C372.40 297.25 375.03 294.20 377.00 292.30 C378.97 290.40 381.13 289.80 382.90 289.20 C384.67 288.60 385.63 288.18 387.60 288.70Z"/></clipPath>
<path d="M387.60 288.70 C389.57 289.22 392.72 290.32 394.70 292.30 C396.68 294.28 398.12 297.25 399.50 300.60 C400.88 303.95 403.00 308.47 403.00 312.40 C403.00 316.33 401.27 321.05 399.50 324.20 C397.73 327.35 394.77 329.52 392.40 331.30 C390.03 333.08 387.87 334.70 385.30 334.90 C382.73 335.10 379.37 334.28 377.00 332.50 C374.63 330.72 372.40 327.55 371.10 324.20 C369.80 320.85 369.20 316.33 369.20 312.40 C369.20 308.47 369.80 303.95 371.10 300.60 C372.40 297.25 375.03 294.20 377.00 292.30 C378.97 290.40 381.13 289.80 382.90 289.20 C384.67 288.60 385.63 288.18 387.60 288.70Z" fill="#c83878" filter="url(#b03)"/>
<g clip-path="url(#tc7)">
<ellipse cx="385.8" cy="319" rx="12.2" ry="12" fill="#f0d8e4" opacity="0.95" filter="url(#b1)"/>
<ellipse cx="385" cy="321.5" rx="9.8" ry="8" fill="#ffffff" opacity="0.9" filter="url(#b1)"/>
<ellipse cx="385.8" cy="316" rx="12" ry="12" fill="#cc4c84" opacity="0.75" filter="url(#tex)"/>
<ellipse cx="386" cy="299" rx="9" ry="7" fill="#b82860" opacity="0.8" filter="url(#b1)"/>
<ellipse cx="396" cy="310" rx="3.5" ry="7" fill="#d05c90" opacity="0.6" filter="url(#b1)"/>
<ellipse cx="375" cy="308" rx="3" ry="5" fill="#d86898" opacity="0.6" filter="url(#b1)"/>
<ellipse cx="390" cy="309" rx="5" ry="3.5" fill="#e8a0c0" opacity="0.6" filter="url(#b08)"/>
</g>
<clipPath id="tc8"><path d="M60.60 358.00 C61.72 358.12 62.88 360.12 64.00 362.00 C65.12 363.88 66.42 366.53 67.30 369.30 C68.18 372.07 68.75 375.27 69.30 378.60 C69.85 381.93 70.72 386.42 70.60 389.30 C70.48 392.18 69.93 393.68 68.60 395.90 C67.27 398.12 64.93 400.82 62.60 402.60 C60.27 404.38 56.82 406.38 54.60 406.60 C52.38 406.82 50.95 405.45 49.30 403.90 C47.65 402.35 46.03 399.73 44.70 397.30 C43.37 394.87 41.87 391.97 41.30 389.30 C40.73 386.63 40.63 384.42 41.30 381.30 C41.97 378.18 43.52 373.48 45.30 370.60 C47.08 367.72 50.00 365.55 52.00 364.00 C54.00 362.45 55.87 362.30 57.30 361.30 C58.73 360.30 59.48 357.88 60.60 358.00Z"/></clipPath>
<path d="M60.60 358.00 C61.72 358.12 62.88 360.12 64.00 362.00 C65.12 363.88 66.42 366.53 67.30 369.30 C68.18 372.07 68.75 375.27 69.30 378.60 C69.85 381.93 70.72 386.42 70.60 389.30 C70.48 392.18 69.93 393.68 68.60 395.90 C67.27 398.12 64.93 400.82 62.60 402.60 C60.27 404.38 56.82 406.38 54.60 406.60 C52.38 406.82 50.95 405.45 49.30 403.90 C47.65 402.35 46.03 399.73 44.70 397.30 C43.37 394.87 41.87 391.97 41.30 389.30 C40.73 386.63 40.63 384.42 41.30 381.30 C41.97 378.18 43.52 373.48 45.30 370.60 C47.08 367.72 50.00 365.55 52.00 364.00 C54.00 362.45 55.87 362.30 57.30 361.30 C58.73 360.30 59.48 357.88 60.60 358.00Z" fill="#2826aa" filter="url(#b03)"/>
<g clip-path="url(#tc8)">
<ellipse cx="51" cy="388" rx="9" ry="14" fill="#1040e8" opacity="0.95" filter="url(#b2)"/>
<ellipse cx="53" cy="380" rx="5" ry="5" fill="#1c78f0" opacity="0.8" filter="url(#b15)"/>
<ellipse cx="47.5" cy="394.5" rx="3.2" ry="4.5" fill="#38c8f0" opacity="0.95" filter="url(#b1)"/>
<ellipse cx="58.5" cy="392" rx="3" ry="4" fill="#1c80f0" opacity="0.8" filter="url(#b1)"/>
<ellipse cx="52" cy="377.3" rx="2.5" ry="2.5" fill="#24a0f0" opacity="0.8" filter="url(#b1)"/>
<ellipse cx="56" cy="383" rx="2.5" ry="3" fill="#209cf0" opacity="0.7" filter="url(#b1)"/>
<ellipse cx="54" cy="401" rx="4" ry="3" fill="#1c70f0" opacity="0.7" filter="url(#b1)"/>
</g>
<clipPath id="tc9"><path d="M105.90 356.70 C107.13 356.92 109.48 358.35 110.60 360.00 C111.72 361.65 112.60 364.60 112.60 366.60 C112.60 368.60 110.60 370.00 110.60 372.00 C110.60 374.00 111.93 376.17 112.60 378.60 C113.27 381.03 114.38 383.93 114.60 386.60 C114.82 389.27 114.47 391.93 113.90 394.60 C113.33 397.27 112.87 400.82 111.20 402.60 C109.53 404.38 106.45 405.30 103.90 405.30 C101.35 405.30 98.00 404.17 95.90 402.60 C93.80 401.03 92.30 398.12 91.30 395.90 C90.30 393.68 89.57 391.73 89.90 389.30 C90.23 386.87 92.30 383.75 93.30 381.30 C94.30 378.85 95.13 376.82 95.90 374.60 C96.67 372.38 97.02 369.77 97.90 368.00 C98.78 366.23 100.32 365.55 101.20 364.00 C102.08 362.45 102.42 359.92 103.20 358.70 C103.98 357.48 104.67 356.48 105.90 356.70Z"/></clipPath>
<path d="M105.90 356.70 C107.13 356.92 109.48 358.35 110.60 360.00 C111.72 361.65 112.60 364.60 112.60 366.60 C112.60 368.60 110.60 370.00 110.60 372.00 C110.60 374.00 111.93 376.17 112.60 378.60 C113.27 381.03 114.38 383.93 114.60 386.60 C114.82 389.27 114.47 391.93 113.90 394.60 C113.33 397.27 112.87 400.82 111.20 402.60 C109.53 404.38 106.45 405.30 103.90 405.30 C101.35 405.30 98.00 404.17 95.90 402.60 C93.80 401.03 92.30 398.12 91.30 395.90 C90.30 393.68 89.57 391.73 89.90 389.30 C90.23 386.87 92.30 383.75 93.30 381.30 C94.30 378.85 95.13 376.82 95.90 374.60 C96.67 372.38 97.02 369.77 97.90 368.00 C98.78 366.23 100.32 365.55 101.20 364.00 C102.08 362.45 102.42 359.92 103.20 358.70 C103.98 357.48 104.67 356.48 105.90 356.70Z" fill="#44ccf0" filter="url(#b03)"/>
<g clip-path="url(#tc9)">
<ellipse cx="103" cy="388" rx="9.5" ry="15" fill="#8ce870" opacity="0.9" filter="url(#b2)"/>
<ellipse cx="101" cy="392" rx="8" ry="10" fill="#f0e430" opacity="0.92" filter="url(#b15)"/>
<ellipse cx="95.6" cy="390" rx="3.6" ry="5.5" fill="#f8c418" opacity="0.95" filter="url(#b1)"/>
<ellipse cx="106" cy="398" rx="4.5" ry="4.5" fill="#f4dc28" opacity="0.85" filter="url(#b15)"/>
<ellipse cx="106" cy="374" rx="3.5" ry="6" fill="#78e8a8" opacity="0.8" filter="url(#b15)"/>
<ellipse cx="108" cy="386" rx="2.5" ry="2.5" fill="#58d8e8" opacity="0.8" filter="url(#b1)"/>
<ellipse cx="106.5" cy="362" rx="3" ry="3.5" fill="#40b4f0" opacity="0.7" filter="url(#b1)"/>
</g>
<path d="M105.90 356.70 C107.13 356.92 109.48 358.35 110.60 360.00 C111.72 361.65 112.60 364.60 112.60 366.60 C112.60 368.60 110.60 370.00 110.60 372.00 C110.60 374.00 111.93 376.17 112.60 378.60 C113.27 381.03 114.38 383.93 114.60 386.60 C114.82 389.27 114.47 391.93 113.90 394.60 C113.33 397.27 112.87 400.82 111.20 402.60 C109.53 404.38 106.45 405.30 103.90 405.30 C101.35 405.30 98.00 404.17 95.90 402.60 C93.80 401.03 92.30 398.12 91.30 395.90 C90.30 393.68 89.57 391.73 89.90 389.30 C90.23 386.87 92.30 383.75 93.30 381.30 C94.30 378.85 95.13 376.82 95.90 374.60 C96.67 372.38 97.02 369.77 97.90 368.00 C98.78 366.23 100.32 365.55 101.20 364.00 C102.08 362.45 102.42 359.92 103.20 358.70 C103.98 357.48 104.67 356.48 105.90 356.70Z" fill="none" stroke="#2c8cf0" stroke-width="0.7" opacity="0.7" filter="url(#b03)"/>
<clipPath id="tc10"><path d="M158.40 358.80 C160.17 358.80 162.60 359.55 164.10 361.00 C165.60 362.45 166.18 365.75 167.40 367.50 C168.62 369.25 170.18 369.47 171.40 371.50 C172.62 373.53 173.75 376.43 174.70 379.70 C175.65 382.97 176.97 387.58 177.10 391.10 C177.23 394.62 176.72 397.97 175.50 400.80 C174.28 403.63 172.10 406.47 169.80 408.10 C167.50 409.73 164.42 410.45 161.70 410.60 C158.98 410.75 155.68 410.37 153.50 409.00 C151.32 407.63 149.55 405.12 148.60 402.40 C147.65 399.68 147.65 395.68 147.80 392.70 C147.95 389.72 149.50 387.22 149.50 384.50 C149.50 381.78 147.80 379.23 147.80 376.40 C147.80 373.57 148.55 370.07 149.50 367.50 C150.45 364.93 152.02 362.45 153.50 361.00 C154.98 359.55 156.63 358.80 158.40 358.80Z"/></clipPath>
<path d="M158.40 358.80 C160.17 358.80 162.60 359.55 164.10 361.00 C165.60 362.45 166.18 365.75 167.40 367.50 C168.62 369.25 170.18 369.47 171.40 371.50 C172.62 373.53 173.75 376.43 174.70 379.70 C175.65 382.97 176.97 387.58 177.10 391.10 C177.23 394.62 176.72 397.97 175.50 400.80 C174.28 403.63 172.10 406.47 169.80 408.10 C167.50 409.73 164.42 410.45 161.70 410.60 C158.98 410.75 155.68 410.37 153.50 409.00 C151.32 407.63 149.55 405.12 148.60 402.40 C147.65 399.68 147.65 395.68 147.80 392.70 C147.95 389.72 149.50 387.22 149.50 384.50 C149.50 381.78 147.80 379.23 147.80 376.40 C147.80 373.57 148.55 370.07 149.50 367.50 C150.45 364.93 152.02 362.45 153.50 361.00 C154.98 359.55 156.63 358.80 158.40 358.80Z" fill="#f6d624" filter="url(#b03)"/>
<g clip-path="url(#tc10)">
<ellipse cx="159" cy="374" rx="9" ry="11" fill="#f89418" opacity="0.95" filter="url(#b2)"/>
<ellipse cx="158.4" cy="372.5" rx="4.5" ry="5" fill="#f26812" opacity="0.8" filter="url(#b15)"/>
<ellipse cx="164" cy="382" rx="5" ry="5" fill="#f8a01c" opacity="0.7" filter="url(#b15)"/>
<ellipse cx="161" cy="398" rx="11" ry="10" fill="#f8e828" opacity="0.85" filter="url(#b2)"/>
<ellipse cx="173.5" cy="390" rx="2.5" ry="12" fill="#70e8b0" opacity="0.85" filter="url(#b1)"/>
<ellipse cx="163" cy="409" rx="8" ry="2" fill="#80e8a0" opacity="0.8" filter="url(#b1)"/>
<ellipse cx="149" cy="390" rx="1.5" ry="10" fill="#a0ec80" opacity="0.7" filter="url(#b1)"/>
</g>
<path d="M158.40 358.80 C160.17 358.80 162.60 359.55 164.10 361.00 C165.60 362.45 166.18 365.75 167.40 367.50 C168.62 369.25 170.18 369.47 171.40 371.50 C172.62 373.53 173.75 376.43 174.70 379.70 C175.65 382.97 176.97 387.58 177.10 391.10 C177.23 394.62 176.72 397.97 175.50 400.80 C174.28 403.63 172.10 406.47 169.80 408.10 C167.50 409.73 164.42 410.45 161.70 410.60 C158.98 410.75 155.68 410.37 153.50 409.00 C151.32 407.63 149.55 405.12 148.60 402.40 C147.65 399.68 147.65 395.68 147.80 392.70 C147.95 389.72 149.50 387.22 149.50 384.50 C149.50 381.78 147.80 379.23 147.80 376.40 C147.80 373.57 148.55 370.07 149.50 367.50 C150.45 364.93 152.02 362.45 153.50 361.00 C154.98 359.55 156.63 358.80 158.40 358.80Z" fill="none" stroke="#40c8f0" stroke-width="0.9" opacity="0.85" filter="url(#b03)"/>
<clipPath id="tc11"><path d="M210.50 358.80 C212.53 358.25 216.17 358.93 218.60 360.10 C221.03 361.27 222.93 364.17 225.10 365.80 C227.27 367.43 229.83 368.13 231.60 369.90 C233.37 371.67 234.75 373.68 235.70 376.40 C236.65 379.12 237.30 382.95 237.30 386.20 C237.30 389.45 236.65 392.92 235.70 395.90 C234.75 398.88 233.90 402.07 231.60 404.10 C229.30 406.13 225.15 407.28 221.90 408.10 C218.65 408.92 214.82 409.67 212.10 409.00 C209.38 408.33 207.23 406.28 205.60 404.10 C203.97 401.92 203.25 398.88 202.30 395.90 C201.35 392.92 200.17 389.45 199.90 386.20 C199.63 382.95 199.75 378.85 200.70 376.40 C201.65 373.95 204.65 373.67 205.60 371.50 C206.55 369.33 205.58 365.52 206.40 363.40 C207.22 361.28 208.47 359.35 210.50 358.80Z"/></clipPath>
<path d="M210.50 358.80 C212.53 358.25 216.17 358.93 218.60 360.10 C221.03 361.27 222.93 364.17 225.10 365.80 C227.27 367.43 229.83 368.13 231.60 369.90 C233.37 371.67 234.75 373.68 235.70 376.40 C236.65 379.12 237.30 382.95 237.30 386.20 C237.30 389.45 236.65 392.92 235.70 395.90 C234.75 398.88 233.90 402.07 231.60 404.10 C229.30 406.13 225.15 407.28 221.90 408.10 C218.65 408.92 214.82 409.67 212.10 409.00 C209.38 408.33 207.23 406.28 205.60 404.10 C203.97 401.92 203.25 398.88 202.30 395.90 C201.35 392.92 200.17 389.45 199.90 386.20 C199.63 382.95 199.75 378.85 200.70 376.40 C201.65 373.95 204.65 373.67 205.60 371.50 C206.55 369.33 205.58 365.52 206.40 363.40 C207.22 361.28 208.47 359.35 210.50 358.80Z" fill="#f4e02a" filter="url(#b03)"/>
<g clip-path="url(#tc11)">
<ellipse cx="219" cy="386" rx="17" ry="22" fill="#f8cc20" opacity="0.5" filter="url(#b2)"/>
<ellipse cx="221.3" cy="367.5" rx="2.6" ry="5" fill="#f02418" opacity="0.95" filter="url(#b1)"/>
<ellipse cx="223.5" cy="382" rx="5" ry="4.5" fill="#f4641a" opacity="0.85" filter="url(#b15)"/>
<ellipse cx="205.3" cy="396.3" rx="2.4" ry="2.4" fill="#ea2818" opacity="0.95" filter="url(#b08)"/>
<ellipse cx="214" cy="390" rx="5" ry="5" fill="#f89018" opacity="0.75" filter="url(#b15)"/>
<ellipse cx="229" cy="380" rx="3.5" ry="5" fill="#f89018" opacity="0.7" filter="url(#b15)"/>
<ellipse cx="218" cy="399" rx="4" ry="3" fill="#f8a01c" opacity="0.7" filter="url(#b15)"/>
<ellipse cx="212" cy="366" rx="3.5" ry="3" fill="#f8a020" opacity="0.8" filter="url(#b1)"/>
<ellipse cx="205" cy="378.5" rx="4.5" ry="4.5" fill="#60e4c0" opacity="0.85" filter="url(#b15)"/>
<ellipse cx="216" cy="406" rx="9" ry="2.5" fill="#70e8c0" opacity="0.8" filter="url(#b1)"/>
<ellipse cx="234" cy="390" rx="2.5" ry="9" fill="#80e8a0" opacity="0.8" filter="url(#b1)"/>
<ellipse cx="227" cy="401" rx="3" ry="3" fill="#90e890" opacity="0.7" filter="url(#b1)"/>
</g>
<path d="M210.50 358.80 C212.53 358.25 216.17 358.93 218.60 360.10 C221.03 361.27 222.93 364.17 225.10 365.80 C227.27 367.43 229.83 368.13 231.60 369.90 C233.37 371.67 234.75 373.68 235.70 376.40 C236.65 379.12 237.30 382.95 237.30 386.20 C237.30 389.45 236.65 392.92 235.70 395.90 C234.75 398.88 233.90 402.07 231.60 404.10 C229.30 406.13 225.15 407.28 221.90 408.10 C218.65 408.92 214.82 409.67 212.10 409.00 C209.38 408.33 207.23 406.28 205.60 404.10 C203.97 401.92 203.25 398.88 202.30 395.90 C201.35 392.92 200.17 389.45 199.90 386.20 C199.63 382.95 199.75 378.85 200.70 376.40 C201.65 373.95 204.65 373.67 205.60 371.50 C206.55 369.33 205.58 365.52 206.40 363.40 C207.22 361.28 208.47 359.35 210.50 358.80Z" fill="none" stroke="#3cb8f0" stroke-width="1.0" opacity="0.8" filter="url(#b03)"/>
<circle cx="218.9" cy="362.1" r="1.5" fill="#fff" stroke="#e83020" stroke-width="0.6"/>
<clipPath id="tc12"><path d="M263.40 360.30 C265.77 359.72 271.85 359.32 275.20 360.30 C278.55 361.28 280.93 363.25 283.50 366.20 C286.07 369.15 288.82 374.05 290.60 378.00 C292.38 381.95 294.40 386.15 294.20 389.90 C294.00 393.65 291.97 397.55 289.40 400.50 C286.83 403.45 282.35 406.42 278.80 407.60 C275.25 408.78 270.87 408.98 268.10 407.60 C265.33 406.22 263.38 402.65 262.20 399.30 C261.02 395.95 261.20 391.83 261.00 387.50 C260.80 383.17 261.00 377.25 261.00 373.30 C261.00 369.35 260.60 365.97 261.00 363.80 C261.40 361.63 261.03 360.88 263.40 360.30Z"/></clipPath>
<path d="M263.40 360.30 C265.77 359.72 271.85 359.32 275.20 360.30 C278.55 361.28 280.93 363.25 283.50 366.20 C286.07 369.15 288.82 374.05 290.60 378.00 C292.38 381.95 294.40 386.15 294.20 389.90 C294.00 393.65 291.97 397.55 289.40 400.50 C286.83 403.45 282.35 406.42 278.80 407.60 C275.25 408.78 270.87 408.98 268.10 407.60 C265.33 406.22 263.38 402.65 262.20 399.30 C261.02 395.95 261.20 391.83 261.00 387.50 C260.80 383.17 261.00 377.25 261.00 373.30 C261.00 369.35 260.60 365.97 261.00 363.80 C261.40 361.63 261.03 360.88 263.40 360.30Z" fill="#46d2f0" filter="url(#b03)"/>
<g clip-path="url(#tc12)">
<ellipse cx="281.1" cy="373.5" rx="5.5" ry="4" fill="#2458e4" opacity="0.9" filter="url(#b15)"/>
<ellipse cx="287" cy="388.5" rx="6" ry="6" fill="#2250e2" opacity="0.95" filter="url(#b15)"/>
<ellipse cx="284" cy="381" rx="3.5" ry="5" fill="#2c70e8" opacity="0.7" filter="url(#b15)"/>
<ellipse cx="277" cy="385" rx="4" ry="6" fill="#70e8a0" opacity="0.6" filter="url(#b15)"/>
<ellipse cx="271.7" cy="385.1" rx="6.2" ry="6.2" fill="#f4e630" opacity="0.95" filter="url(#b15)"/>
<ellipse cx="271.7" cy="385.1" rx="3.8" ry="3.6" fill="#f47018" opacity="0.95" filter="url(#b08)"/>
<ellipse cx="271.7" cy="385.1" rx="2.4" ry="2.3" fill="#f01c18" opacity="1" filter="url(#b05)"/>
<ellipse cx="268.1" cy="401.7" rx="5" ry="5" fill="#f2e22c" opacity="0.92" filter="url(#b15)"/>
<ellipse cx="267.6" cy="401.5" rx="2.6" ry="2.8" fill="#f8b018" opacity="0.9" filter="url(#b08)"/>
<ellipse cx="267" cy="393" rx="3.5" ry="4" fill="#b4ec58" opacity="0.8" filter="url(#b15)"/>
<ellipse cx="266" cy="371" rx="4" ry="6" fill="#68e8e0" opacity="0.6" filter="url(#b15)"/>
<ellipse cx="280" cy="402" rx="5" ry="4" fill="#48b4f0" opacity="0.7" filter="url(#b1)"/>
</g>
<path d="M263.40 360.30 C265.77 359.72 271.85 359.32 275.20 360.30 C278.55 361.28 280.93 363.25 283.50 366.20 C286.07 369.15 288.82 374.05 290.60 378.00 C292.38 381.95 294.40 386.15 294.20 389.90 C294.00 393.65 291.97 397.55 289.40 400.50 C286.83 403.45 282.35 406.42 278.80 407.60 C275.25 408.78 270.87 408.98 268.10 407.60 C265.33 406.22 263.38 402.65 262.20 399.30 C261.02 395.95 261.20 391.83 261.00 387.50 C260.80 383.17 261.00 377.25 261.00 373.30 C261.00 369.35 260.60 365.97 261.00 363.80 C261.40 361.63 261.03 360.88 263.40 360.30Z" fill="none" stroke="#2c7cf0" stroke-width="0.8" opacity="0.75" filter="url(#b03)"/>
<circle cx="271.6" cy="385.1" r="0.9" fill="#fff"/>
<clipPath id="tc13"><path d="M335.60 356.70 C338.75 356.30 343.03 357.12 345.00 359.10 C346.97 361.08 347.20 365.05 347.40 368.60 C347.60 372.15 346.98 376.07 346.20 380.40 C345.42 384.73 344.47 390.65 342.70 394.60 C340.93 398.55 338.37 402.13 335.60 404.10 C332.83 406.07 329.07 407.00 326.10 406.40 C323.13 405.80 319.77 403.25 317.80 400.50 C315.83 397.75 314.88 393.65 314.30 389.90 C313.72 386.15 313.52 381.55 314.30 378.00 C315.08 374.45 317.03 371.35 319.00 368.60 C320.97 365.85 323.33 363.48 326.10 361.50 C328.87 359.52 332.45 357.10 335.60 356.70Z"/></clipPath>
<path d="M335.60 356.70 C338.75 356.30 343.03 357.12 345.00 359.10 C346.97 361.08 347.20 365.05 347.40 368.60 C347.60 372.15 346.98 376.07 346.20 380.40 C345.42 384.73 344.47 390.65 342.70 394.60 C340.93 398.55 338.37 402.13 335.60 404.10 C332.83 406.07 329.07 407.00 326.10 406.40 C323.13 405.80 319.77 403.25 317.80 400.50 C315.83 397.75 314.88 393.65 314.30 389.90 C313.72 386.15 313.52 381.55 314.30 378.00 C315.08 374.45 317.03 371.35 319.00 368.60 C320.97 365.85 323.33 363.48 326.10 361.50 C328.87 359.52 332.45 357.10 335.60 356.70Z" fill="#46b8f2" filter="url(#b03)"/>
<g clip-path="url(#tc13)">
<ellipse cx="334" cy="381" rx="9" ry="8" fill="#70e2f4" opacity="0.85" filter="url(#b2)"/>
<ellipse cx="330" cy="372" rx="7" ry="7" fill="#58cef4" opacity="0.7" filter="url(#b2)"/>
<ellipse cx="330" cy="400" rx="10" ry="5" fill="#2c7cf0" opacity="0.8" filter="url(#b2)"/>
<ellipse cx="316.5" cy="388" rx="3" ry="9" fill="#3088f0" opacity="0.7" filter="url(#b15)"/>
<ellipse cx="344" cy="372" rx="3" ry="8" fill="#3c98f0" opacity="0.5" filter="url(#b15)"/>
</g>
<clipPath id="tc14"><path d="M390.00 357.90 C391.97 357.70 394.32 358.93 395.90 361.50 C397.48 364.07 398.32 369.37 399.50 373.30 C400.68 377.23 403.00 381.15 403.00 385.10 C403.00 389.05 401.67 393.63 399.50 397.00 C397.33 400.37 393.17 403.92 390.00 405.30 C386.83 406.68 383.45 406.68 380.50 405.30 C377.55 403.92 374.18 400.37 372.30 397.00 C370.42 393.63 369.40 389.05 369.20 385.10 C369.00 381.15 369.80 376.45 371.10 373.30 C372.40 370.15 374.83 367.97 377.00 366.20 C379.17 364.43 381.93 364.08 384.10 362.70 C386.27 361.32 388.03 358.10 390.00 357.90Z"/></clipPath>
<path d="M390.00 357.90 C391.97 357.70 394.32 358.93 395.90 361.50 C397.48 364.07 398.32 369.37 399.50 373.30 C400.68 377.23 403.00 381.15 403.00 385.10 C403.00 389.05 401.67 393.63 399.50 397.00 C397.33 400.37 393.17 403.92 390.00 405.30 C386.83 406.68 383.45 406.68 380.50 405.30 C377.55 403.92 374.18 400.37 372.30 397.00 C370.42 393.63 369.40 389.05 369.20 385.10 C369.00 381.15 369.80 376.45 371.10 373.30 C372.40 370.15 374.83 367.97 377.00 366.20 C379.17 364.43 381.93 364.08 384.10 362.70 C386.27 361.32 388.03 358.10 390.00 357.90Z" fill="#2c2a9c" filter="url(#b03)"/>
<g clip-path="url(#tc14)">
<ellipse cx="385" cy="383" rx="10.5" ry="15" fill="#1a30d8" opacity="0.9" filter="url(#b2)"/>
<ellipse cx="377" cy="387.5" rx="2.6" ry="3.2" fill="#3480f0" opacity="0.95" filter="url(#b1)"/>
<ellipse cx="384.1" cy="373.3" rx="2.2" ry="2.2" fill="#2c70ec" opacity="0.9" filter="url(#b1)"/>
<ellipse cx="390" cy="380.4" rx="2.2" ry="2.4" fill="#2c6cec" opacity="0.9" filter="url(#b1)"/>
<ellipse cx="390.5" cy="387.5" rx="2" ry="2.2" fill="#2c64e8" opacity="0.9" filter="url(#b1)"/>
<ellipse cx="383.5" cy="392" rx="2.4" ry="2.4" fill="#2c68e8" opacity="0.9" filter="url(#b1)"/>
<ellipse cx="381" cy="380" rx="1.8" ry="1.8" fill="#2860e4" opacity="0.8" filter="url(#b1)"/>
<ellipse cx="396" cy="370" rx="4" ry="7" fill="#26249a" opacity="0.7" filter="url(#b15)"/>
</g>
<rect x="451.9" y="364.9" width="8.7" height="20.8" fill="#ed7d31" />
<line x1="456.25" y1="364.9" x2="456.25" y2="358.6" stroke="#222" stroke-width="0.7" />
<line x1="454.95" y1="358.6" x2="457.55" y2="358.6" stroke="#222" stroke-width="0.7" />
<rect x="474.7" y="340.3" width="8.8" height="45.4" fill="#ed7d31" />
<line x1="479.1" y1="340.3" x2="479.1" y2="332.5" stroke="#222" stroke-width="0.7" />
<line x1="477.8" y1="332.5" x2="480.4" y2="332.5" stroke="#222" stroke-width="0.7" />
<rect x="486" y="365.9" width="8.8" height="19.8" fill="#70ad47" />
<line x1="490.4" y1="365.9" x2="490.4" y2="361.6" stroke="#222" stroke-width="0.7" />
<line x1="489.1" y1="361.6" x2="491.7" y2="361.6" stroke="#222" stroke-width="0.7" />
<rect x="497.5" y="376.4" width="8.8" height="9.3" fill="#4472c4" />
<line x1="501.9" y1="376.4" x2="501.9" y2="375" stroke="#222" stroke-width="0.7" />
<line x1="500.6" y1="375" x2="503.2" y2="375" stroke="#222" stroke-width="0.7" />
<rect x="520.1" y="304.4" width="8.8" height="81.3" fill="#ed7d31" />
<line x1="524.5" y1="304.4" x2="524.5" y2="297.1" stroke="#222" stroke-width="0.7" />
<line x1="523.2" y1="297.1" x2="525.8" y2="297.1" stroke="#222" stroke-width="0.7" />
<rect x="531.6" y="352.1" width="8.8" height="33.6" fill="#70ad47" />
<line x1="536" y1="352.1" x2="536" y2="348.8" stroke="#222" stroke-width="0.7" />
<line x1="534.7" y1="348.8" x2="537.3" y2="348.8" stroke="#222" stroke-width="0.7" />
<rect x="542.9" y="376.4" width="8.8" height="9.3" fill="#4472c4" />
<line x1="547.3" y1="376.4" x2="547.3" y2="374.2" stroke="#222" stroke-width="0.7" />
<line x1="546" y1="374.2" x2="548.6" y2="374.2" stroke="#222" stroke-width="0.7" />
<rect x="565.8" y="277.6" width="8.6" height="108.1" fill="#ed7d31" />
<line x1="570.1" y1="277.6" x2="570.1" y2="271.3" stroke="#222" stroke-width="0.7" />
<line x1="568.8" y1="271.3" x2="571.4" y2="271.3" stroke="#222" stroke-width="0.7" />
<rect x="577.1" y="366.7" width="8.6" height="19" fill="#70ad47" />
<line x1="581.4" y1="366.7" x2="581.4" y2="363.4" stroke="#222" stroke-width="0.7" />
<line x1="580.1" y1="363.4" x2="582.7" y2="363.4" stroke="#222" stroke-width="0.7" />
<rect x="588.7" y="377" width="8.5" height="8.7" fill="#4472c4" />
<line x1="592.95" y1="377" x2="592.95" y2="375.5" stroke="#222" stroke-width="0.7" />
<line x1="591.65" y1="375.5" x2="594.25" y2="375.5" stroke="#222" stroke-width="0.7" />
<rect x="611.5" y="318" width="8.5" height="67.7" fill="#ed7d31" />
<line x1="615.75" y1="318" x2="615.75" y2="310.5" stroke="#222" stroke-width="0.7" />
<line x1="614.45" y1="310.5" x2="617.05" y2="310.5" stroke="#222" stroke-width="0.7" />
<rect x="634.1" y="335.8" width="8.5" height="49.9" fill="#ed7d31" />
<line x1="638.35" y1="335.8" x2="638.35" y2="329.5" stroke="#222" stroke-width="0.7" />
<line x1="637.05" y1="329.5" x2="639.65" y2="329.5" stroke="#222" stroke-width="0.7" />
<rect x="656.9" y="357.1" width="8.3" height="28.6" fill="#ed7d31" />
<line x1="661.05" y1="357.1" x2="661.05" y2="352.9" stroke="#222" stroke-width="0.7" />
<line x1="659.75" y1="352.9" x2="662.35" y2="352.9" stroke="#222" stroke-width="0.7" />
<line x1="450.9" y1="271" x2="450.9" y2="386.2" stroke="#111" stroke-width="1.3" />
<line x1="450.4" y1="385.7" x2="666.3" y2="385.7" stroke="#111" stroke-width="1.3" />
<line x1="447.9" y1="385.7" x2="450.9" y2="385.7" stroke="#111" stroke-width="0.9" />
<text x="443.3" y="388.1" font-size="6.8" text-anchor="end" font-family="Liberation Sans, sans-serif" font-weight="bold" >0</text>
<line x1="447.9" y1="366.63" x2="450.9" y2="366.63" stroke="#111" stroke-width="0.9" />
<text x="443.3" y="369.03" font-size="6.8" text-anchor="end" font-family="Liberation Sans, sans-serif" font-weight="bold" >2</text>
<line x1="447.9" y1="347.57" x2="450.9" y2="347.57" stroke="#111" stroke-width="0.9" />
<text x="443.3" y="349.97" font-size="6.8" text-anchor="end" font-family="Liberation Sans, sans-serif" font-weight="bold" >4</text>
<line x1="447.9" y1="328.5" x2="450.9" y2="328.5" stroke="#111" stroke-width="0.9" />
<text x="443.3" y="330.9" font-size="6.8" text-anchor="end" font-family="Liberation Sans, sans-serif" font-weight="bold" >6</text>
<line x1="447.9" y1="309.43" x2="450.9" y2="309.43" stroke="#111" stroke-width="0.9" />
<text x="443.3" y="311.83" font-size="6.8" text-anchor="end" font-family="Liberation Sans, sans-serif" font-weight="bold" >8</text>
<line x1="447.9" y1="290.37" x2="450.9" y2="290.37" stroke="#111" stroke-width="0.9" />
<text x="443.3" y="292.77" font-size="6.8" text-anchor="end" font-family="Liberation Sans, sans-serif" font-weight="bold" >10</text>
<line x1="447.9" y1="271.3" x2="450.9" y2="271.3" stroke="#111" stroke-width="0.9" />
<text x="443.3" y="273.7" font-size="6.8" text-anchor="end" font-family="Liberation Sans, sans-serif" font-weight="bold" >12</text>
<rect x="473" y="271.9" width="5.2" height="4.9" fill="#ed7d31" />
<text x="481.5" y="277.8" font-size="10.4" text-anchor="start" font-family="Liberation Serif, serif" font-weight="bold" >B16F10</text>
<rect x="473" y="282.4" width="5.2" height="4.9" fill="#70ad47" />
<text x="481.5" y="288.3" font-size="10.4" text-anchor="start" font-family="Liberation Serif, serif" font-weight="bold" >Blocked</text>
<rect x="473" y="292.9" width="5.2" height="4.9" fill="#4472c4" />
<text x="481.5" y="298.8" font-size="10.4" text-anchor="start" font-family="Liberation Serif, serif" font-weight="bold" >MCF-7</text>
<text x="460.1" y="399.7" font-size="11" text-anchor="middle" font-family="Liberation Serif, serif" font-weight="bold" >6h</text>
<text x="493.5" y="399.7" font-size="11" text-anchor="middle" font-family="Liberation Serif, serif" font-weight="bold" >24h</text>
<text x="538.9" y="399.7" font-size="11" text-anchor="middle" font-family="Liberation Serif, serif" font-weight="bold" >48h</text>
<text x="584.3" y="399.7" font-size="11" text-anchor="middle" font-family="Liberation Serif, serif" font-weight="bold" >72h</text>
<text x="621.2" y="399.7" font-size="11" text-anchor="middle" font-family="Liberation Serif, serif" font-weight="bold" >5d</text>
<text x="642.1" y="399.7" font-size="11" text-anchor="middle" font-family="Liberation Serif, serif" font-weight="bold" >7d</text>
<text x="667" y="399.7" font-size="11" text-anchor="middle" font-family="Liberation Serif, serif" font-weight="bold" >10d</text>
<text x="568.2" y="413" font-size="12.5" text-anchor="middle" font-family="Liberation Serif, serif" font-weight="bold" >Time</text>
<text x="436.2" y="330.3" font-size="12.5" text-anchor="middle" font-family="Liberation Serif, serif" font-weight="bold" transform="rotate(-90 436.2 330.3)" >TNR</text>
<rect x="45" y="491.24" width="5.55" height="139.96" fill="#058205" />
<line x1="47.77" y1="470.06" x2="47.77" y2="512.43" stroke="#333" stroke-width="0.55" />
<line x1="45.57" y1="470.06" x2="49.98" y2="470.06" stroke="#333" stroke-width="0.55" />
<line x1="45.57" y1="512.43" x2="49.98" y2="512.43" stroke="#333" stroke-width="0.55" />
<rect x="50.55" y="521.67" width="5.55" height="109.53" fill="#1c8cf8" />
<line x1="53.32" y1="502.41" x2="53.32" y2="540.93" stroke="#333" stroke-width="0.55" />
<line x1="51.12" y1="502.41" x2="55.52" y2="502.41" stroke="#333" stroke-width="0.55" />
<line x1="51.12" y1="540.93" x2="55.52" y2="540.93" stroke="#333" stroke-width="0.55" />
<rect x="56.1" y="538.11" width="5.55" height="93.09" fill="#8410f4" />
<line x1="58.88" y1="528.09" x2="58.88" y2="548.13" stroke="#333" stroke-width="0.55" />
<line x1="56.67" y1="528.09" x2="61.08" y2="528.09" stroke="#333" stroke-width="0.55" />
<line x1="56.67" y1="548.13" x2="61.08" y2="548.13" stroke="#333" stroke-width="0.55" />
<rect x="61.65" y="545.3" width="5.55" height="85.9" fill="#fc0c12" />
<line x1="64.42" y1="538.62" x2="64.42" y2="551.98" stroke="#333" stroke-width="0.55" />
<line x1="62.22" y1="538.62" x2="66.62" y2="538.62" stroke="#333" stroke-width="0.55" />
<line x1="62.22" y1="551.98" x2="66.62" y2="551.98" stroke="#333" stroke-width="0.55" />
<rect x="72.93" y="554.93" width="5.55" height="76.27" fill="#058205" />
<line x1="75.71" y1="548.51" x2="75.71" y2="561.35" stroke="#333" stroke-width="0.55" />
<line x1="73.51" y1="548.51" x2="77.91" y2="548.51" stroke="#333" stroke-width="0.55" />
<line x1="73.51" y1="561.35" x2="77.91" y2="561.35" stroke="#333" stroke-width="0.55" />
<rect x="78.48" y="581.89" width="5.55" height="49.31" fill="#1c8cf8" />
<line x1="81.26" y1="579.84" x2="81.26" y2="583.95" stroke="#333" stroke-width="0.55" />
<line x1="79.06" y1="579.84" x2="83.46" y2="579.84" stroke="#333" stroke-width="0.55" />
<line x1="79.06" y1="583.95" x2="83.46" y2="583.95" stroke="#333" stroke-width="0.55" />
<rect x="84.03" y="591.78" width="5.55" height="39.42" fill="#8410f4" />
<line x1="86.81" y1="589.21" x2="86.81" y2="594.35" stroke="#333" stroke-width="0.55" />
<line x1="84.61" y1="589.21" x2="89.01" y2="589.21" stroke="#333" stroke-width="0.55" />
<line x1="84.61" y1="594.35" x2="89.01" y2="594.35" stroke="#333" stroke-width="0.55" />
<rect x="89.58" y="593.96" width="5.55" height="37.24" fill="#fc0c12" />
<line x1="92.36" y1="592.04" x2="92.36" y2="595.89" stroke="#333" stroke-width="0.55" />
<line x1="90.16" y1="592.04" x2="94.56" y2="592.04" stroke="#333" stroke-width="0.55" />
<line x1="90.16" y1="595.89" x2="94.56" y2="595.89" stroke="#333" stroke-width="0.55" />
<rect x="100.86" y="555.96" width="5.55" height="75.24" fill="#058205" />
<line x1="103.64" y1="548" x2="103.64" y2="563.92" stroke="#333" stroke-width="0.55" />
<line x1="101.44" y1="548" x2="105.84" y2="548" stroke="#333" stroke-width="0.55" />
<line x1="101.44" y1="563.92" x2="105.84" y2="563.92" stroke="#333" stroke-width="0.55" />
<rect x="106.41" y="592.04" width="5.55" height="39.16" fill="#1c8cf8" />
<line x1="109.19" y1="588.19" x2="109.19" y2="595.89" stroke="#333" stroke-width="0.55" />
<line x1="106.98" y1="588.19" x2="111.39" y2="588.19" stroke="#333" stroke-width="0.55" />
<line x1="106.98" y1="595.89" x2="111.39" y2="595.89" stroke="#333" stroke-width="0.55" />
<rect x="111.96" y="599.74" width="5.55" height="31.46" fill="#8410f4" />
<line x1="114.73" y1="597.17" x2="114.73" y2="602.31" stroke="#333" stroke-width="0.55" />
<line x1="112.53" y1="597.17" x2="116.94" y2="597.17" stroke="#333" stroke-width="0.55" />
<line x1="112.53" y1="602.31" x2="116.94" y2="602.31" stroke="#333" stroke-width="0.55" />
<rect x="117.51" y="598.46" width="5.55" height="32.74" fill="#fc0c12" />
<line x1="120.28" y1="595.25" x2="120.28" y2="601.67" stroke="#333" stroke-width="0.55" />
<line x1="118.08" y1="595.25" x2="122.48" y2="595.25" stroke="#333" stroke-width="0.55" />
<line x1="118.08" y1="601.67" x2="122.48" y2="601.67" stroke="#333" stroke-width="0.55" />
<rect x="128.79" y="559.94" width="5.55" height="71.26" fill="#058205" />
<line x1="131.56" y1="553.26" x2="131.56" y2="566.61" stroke="#333" stroke-width="0.55" />
<line x1="129.37" y1="553.26" x2="133.76" y2="553.26" stroke="#333" stroke-width="0.55" />
<line x1="129.37" y1="566.61" x2="133.76" y2="566.61" stroke="#333" stroke-width="0.55" />
<rect x="134.34" y="588.19" width="5.55" height="43.01" fill="#1c8cf8" />
<line x1="137.12" y1="583.69" x2="137.12" y2="592.68" stroke="#333" stroke-width="0.55" />
<line x1="134.92" y1="583.69" x2="139.31" y2="583.69" stroke="#333" stroke-width="0.55" />
<line x1="134.92" y1="592.68" x2="139.31" y2="592.68" stroke="#333" stroke-width="0.55" />
<rect x="139.89" y="593.96" width="5.55" height="37.24" fill="#8410f4" />
<line x1="142.66" y1="586.9" x2="142.66" y2="601.03" stroke="#333" stroke-width="0.55" />
<line x1="140.47" y1="586.9" x2="144.86" y2="586.9" stroke="#333" stroke-width="0.55" />
<line x1="140.47" y1="601.03" x2="144.86" y2="601.03" stroke="#333" stroke-width="0.55" />
<rect x="145.44" y="594.61" width="5.55" height="36.59" fill="#fc0c12" />
<line x1="148.22" y1="589.47" x2="148.22" y2="599.74" stroke="#333" stroke-width="0.55" />
<line x1="146.02" y1="589.47" x2="150.41" y2="589.47" stroke="#333" stroke-width="0.55" />
<line x1="146.02" y1="599.74" x2="150.41" y2="599.74" stroke="#333" stroke-width="0.55" />
<rect x="156.72" y="523.99" width="5.55" height="107.21" fill="#058205" />
<line x1="159.5" y1="517.57" x2="159.5" y2="530.41" stroke="#333" stroke-width="0.55" />
<line x1="157.3" y1="517.57" x2="161.69" y2="517.57" stroke="#333" stroke-width="0.55" />
<line x1="157.3" y1="530.41" x2="161.69" y2="530.41" stroke="#333" stroke-width="0.55" />
<rect x="162.27" y="554.8" width="5.55" height="76.4" fill="#1c8cf8" />
<line x1="165.05" y1="549.02" x2="165.05" y2="560.58" stroke="#333" stroke-width="0.55" />
<line x1="162.85" y1="549.02" x2="167.25" y2="549.02" stroke="#333" stroke-width="0.55" />
<line x1="162.85" y1="560.58" x2="167.25" y2="560.58" stroke="#333" stroke-width="0.55" />
<rect x="167.82" y="556.09" width="5.55" height="75.11" fill="#8410f4" />
<line x1="170.59" y1="547.74" x2="170.59" y2="564.43" stroke="#333" stroke-width="0.55" />
<line x1="168.4" y1="547.74" x2="172.79" y2="547.74" stroke="#333" stroke-width="0.55" />
<line x1="168.4" y1="564.43" x2="172.79" y2="564.43" stroke="#333" stroke-width="0.55" />
<rect x="173.37" y="564.18" width="5.55" height="67.02" fill="#fc0c12" />
<line x1="176.15" y1="561.61" x2="176.15" y2="566.74" stroke="#333" stroke-width="0.55" />
<line x1="173.95" y1="561.61" x2="178.34" y2="561.61" stroke="#333" stroke-width="0.55" />
<line x1="173.95" y1="566.74" x2="178.34" y2="566.74" stroke="#333" stroke-width="0.55" />
<rect x="184.65" y="543.89" width="5.55" height="87.31" fill="#058205" />
<line x1="187.43" y1="536.83" x2="187.43" y2="550.95" stroke="#333" stroke-width="0.55" />
<line x1="185.23" y1="536.83" x2="189.62" y2="536.83" stroke="#333" stroke-width="0.55" />
<line x1="185.23" y1="550.95" x2="189.62" y2="550.95" stroke="#333" stroke-width="0.55" />
<rect x="190.2" y="578.56" width="5.55" height="52.64" fill="#1c8cf8" />
<line x1="192.98" y1="575.73" x2="192.98" y2="581.38" stroke="#333" stroke-width="0.55" />
<line x1="190.78" y1="575.73" x2="195.18" y2="575.73" stroke="#333" stroke-width="0.55" />
<line x1="190.78" y1="581.38" x2="195.18" y2="581.38" stroke="#333" stroke-width="0.55" />
<rect x="195.75" y="583.44" width="5.55" height="47.76" fill="#8410f4" />
<line x1="198.53" y1="577.02" x2="198.53" y2="589.86" stroke="#333" stroke-width="0.55" />
<line x1="196.33" y1="577.02" x2="200.72" y2="577.02" stroke="#333" stroke-width="0.55" />
<line x1="196.33" y1="589.86" x2="200.72" y2="589.86" stroke="#333" stroke-width="0.55" />
<rect x="201.3" y="588.83" width="5.55" height="42.37" fill="#fc0c12" />
<line x1="204.08" y1="584.72" x2="204.08" y2="592.94" stroke="#333" stroke-width="0.55" />
<line x1="201.88" y1="584.72" x2="206.28" y2="584.72" stroke="#333" stroke-width="0.55" />
<line x1="201.88" y1="592.94" x2="206.28" y2="592.94" stroke="#333" stroke-width="0.55" />
<rect x="212.58" y="586.26" width="5.55" height="44.94" fill="#058205" />
<line x1="215.35" y1="579.84" x2="215.35" y2="592.68" stroke="#333" stroke-width="0.55" />
<line x1="213.16" y1="579.84" x2="217.55" y2="579.84" stroke="#333" stroke-width="0.55" />
<line x1="213.16" y1="592.68" x2="217.55" y2="592.68" stroke="#333" stroke-width="0.55" />
<rect x="218.13" y="601.67" width="5.55" height="29.53" fill="#1c8cf8" />
<line x1="220.91" y1="599.36" x2="220.91" y2="603.98" stroke="#333" stroke-width="0.55" />
<line x1="218.71" y1="599.36" x2="223.1" y2="599.36" stroke="#333" stroke-width="0.55" />
<line x1="218.71" y1="603.98" x2="223.1" y2="603.98" stroke="#333" stroke-width="0.55" />
<rect x="223.68" y="606.16" width="5.55" height="25.04" fill="#8410f4" />
<line x1="226.45" y1="602.31" x2="226.45" y2="610.01" stroke="#333" stroke-width="0.55" />
<line x1="224.25" y1="602.31" x2="228.65" y2="602.31" stroke="#333" stroke-width="0.55" />
<line x1="224.25" y1="610.01" x2="228.65" y2="610.01" stroke="#333" stroke-width="0.55" />
<rect x="229.23" y="607.45" width="5.55" height="23.75" fill="#fc0c12" />
<line x1="232" y1="604.88" x2="232" y2="610.01" stroke="#333" stroke-width="0.55" />
<line x1="229.81" y1="604.88" x2="234.2" y2="604.88" stroke="#333" stroke-width="0.55" />
<line x1="229.81" y1="610.01" x2="234.2" y2="610.01" stroke="#333" stroke-width="0.55" />
<rect x="240.51" y="570.21" width="5.55" height="60.99" fill="#058205" />
<line x1="243.28" y1="566.61" x2="243.28" y2="573.81" stroke="#333" stroke-width="0.55" />
<line x1="241.09" y1="566.61" x2="245.48" y2="566.61" stroke="#333" stroke-width="0.55" />
<line x1="241.09" y1="573.81" x2="245.48" y2="573.81" stroke="#333" stroke-width="0.55" />
<rect x="246.06" y="599.74" width="5.55" height="31.46" fill="#1c8cf8" />
<line x1="248.84" y1="593.32" x2="248.84" y2="606.16" stroke="#333" stroke-width="0.55" />
<line x1="246.64" y1="593.32" x2="251.03" y2="593.32" stroke="#333" stroke-width="0.55" />
<line x1="246.64" y1="606.16" x2="251.03" y2="606.16" stroke="#333" stroke-width="0.55" />
<rect x="251.61" y="606.16" width="5.55" height="25.04" fill="#8410f4" />
<line x1="254.38" y1="602.95" x2="254.38" y2="609.37" stroke="#333" stroke-width="0.55" />
<line x1="252.19" y1="602.95" x2="256.58" y2="602.95" stroke="#333" stroke-width="0.55" />
<line x1="252.19" y1="609.37" x2="256.58" y2="609.37" stroke="#333" stroke-width="0.55" />
<rect x="257.16" y="608.09" width="5.55" height="23.11" fill="#fc0c12" />
<line x1="259.93" y1="601.67" x2="259.93" y2="614.51" stroke="#333" stroke-width="0.55" />
<line x1="257.73" y1="601.67" x2="262.13" y2="601.67" stroke="#333" stroke-width="0.55" />
<line x1="257.73" y1="614.51" x2="262.13" y2="614.51" stroke="#333" stroke-width="0.55" />
<rect x="268.44" y="595.25" width="5.55" height="35.95" fill="#058205" />
<line x1="271.21" y1="587.54" x2="271.21" y2="602.95" stroke="#333" stroke-width="0.55" />
<line x1="269.01" y1="587.54" x2="273.41" y2="587.54" stroke="#333" stroke-width="0.55" />
<line x1="269.01" y1="602.95" x2="273.41" y2="602.95" stroke="#333" stroke-width="0.55" />
<rect x="273.99" y="590.11" width="5.55" height="41.09" fill="#1c8cf8" />
<line x1="276.76" y1="584.33" x2="276.76" y2="595.89" stroke="#333" stroke-width="0.55" />
<line x1="274.56" y1="584.33" x2="278.96" y2="584.33" stroke="#333" stroke-width="0.55" />
<line x1="274.56" y1="595.89" x2="278.96" y2="595.89" stroke="#333" stroke-width="0.55" />
<rect x="279.54" y="602.95" width="5.55" height="28.25" fill="#8410f4" />
<line x1="282.31" y1="596.53" x2="282.31" y2="609.37" stroke="#333" stroke-width="0.55" />
<line x1="280.12" y1="596.53" x2="284.51" y2="596.53" stroke="#333" stroke-width="0.55" />
<line x1="280.12" y1="609.37" x2="284.51" y2="609.37" stroke="#333" stroke-width="0.55" />
<rect x="285.09" y="600.38" width="5.55" height="30.82" fill="#fc0c12" />
<line x1="287.86" y1="599.36" x2="287.86" y2="601.41" stroke="#333" stroke-width="0.55" />
<line x1="285.66" y1="599.36" x2="290.06" y2="599.36" stroke="#333" stroke-width="0.55" />
<line x1="285.66" y1="601.41" x2="290.06" y2="601.41" stroke="#333" stroke-width="0.55" />
<rect x="296.37" y="626.06" width="5.55" height="5.14" fill="#058205" />
<line x1="299.14" y1="625.42" x2="299.14" y2="626.71" stroke="#333" stroke-width="0.55" />
<line x1="296.94" y1="625.42" x2="301.34" y2="625.42" stroke="#333" stroke-width="0.55" />
<line x1="296.94" y1="626.71" x2="301.34" y2="626.71" stroke="#333" stroke-width="0.55" />
<rect x="301.92" y="627.73" width="5.55" height="3.47" fill="#1c8cf8" />
<line x1="304.69" y1="627.22" x2="304.69" y2="628.25" stroke="#333" stroke-width="0.55" />
<line x1="302.5" y1="627.22" x2="306.89" y2="627.22" stroke="#333" stroke-width="0.55" />
<line x1="302.5" y1="628.25" x2="306.89" y2="628.25" stroke="#333" stroke-width="0.55" />
<rect x="307.47" y="628.63" width="5.55" height="2.57" fill="#8410f4" />
<line x1="310.25" y1="628.25" x2="310.25" y2="629.02" stroke="#333" stroke-width="0.55" />
<line x1="308.05" y1="628.25" x2="312.44" y2="628.25" stroke="#333" stroke-width="0.55" />
<line x1="308.05" y1="629.02" x2="312.44" y2="629.02" stroke="#333" stroke-width="0.55" />
<rect x="313.02" y="628.63" width="5.55" height="2.57" fill="#fc0c12" />
<line x1="315.79" y1="628.25" x2="315.79" y2="629.02" stroke="#333" stroke-width="0.55" />
<line x1="313.59" y1="628.25" x2="317.99" y2="628.25" stroke="#333" stroke-width="0.55" />
<line x1="313.59" y1="629.02" x2="317.99" y2="629.02" stroke="#333" stroke-width="0.55" />
<rect x="324.3" y="605.52" width="5.55" height="25.68" fill="#058205" />
<line x1="327.07" y1="602.95" x2="327.07" y2="608.09" stroke="#333" stroke-width="0.55" />
<line x1="324.88" y1="602.95" x2="329.27" y2="602.95" stroke="#333" stroke-width="0.55" />
<line x1="324.88" y1="608.09" x2="329.27" y2="608.09" stroke="#333" stroke-width="0.55" />
<rect x="329.85" y="617.72" width="5.55" height="13.48" fill="#1c8cf8" />
<line x1="332.62" y1="616.69" x2="332.62" y2="618.75" stroke="#333" stroke-width="0.55" />
<line x1="330.43" y1="616.69" x2="334.82" y2="616.69" stroke="#333" stroke-width="0.55" />
<line x1="330.43" y1="618.75" x2="334.82" y2="618.75" stroke="#333" stroke-width="0.55" />
<rect x="335.4" y="619.64" width="5.55" height="11.56" fill="#8410f4" />
<line x1="338.18" y1="618.36" x2="338.18" y2="620.93" stroke="#333" stroke-width="0.55" />
<line x1="335.98" y1="618.36" x2="340.38" y2="618.36" stroke="#333" stroke-width="0.55" />
<line x1="335.98" y1="620.93" x2="340.38" y2="620.93" stroke="#333" stroke-width="0.55" />
<rect x="340.95" y="620.54" width="5.55" height="10.66" fill="#fc0c12" />
<line x1="343.72" y1="619.26" x2="343.72" y2="621.83" stroke="#333" stroke-width="0.55" />
<line x1="341.52" y1="619.26" x2="345.92" y2="619.26" stroke="#333" stroke-width="0.55" />
<line x1="341.52" y1="621.83" x2="345.92" y2="621.83" stroke="#333" stroke-width="0.55" />
<rect x="352.23" y="608.73" width="5.55" height="22.47" fill="#058205" />
<line x1="355" y1="598.46" x2="355" y2="619" stroke="#333" stroke-width="0.55" />
<line x1="352.81" y1="598.46" x2="357.2" y2="598.46" stroke="#333" stroke-width="0.55" />
<line x1="352.81" y1="619" x2="357.2" y2="619" stroke="#333" stroke-width="0.55" />
<rect x="357.78" y="608.34" width="5.55" height="22.86" fill="#1c8cf8" />
<line x1="360.56" y1="606.8" x2="360.56" y2="609.89" stroke="#333" stroke-width="0.55" />
<line x1="358.36" y1="606.8" x2="362.75" y2="606.8" stroke="#333" stroke-width="0.55" />
<line x1="358.36" y1="609.89" x2="362.75" y2="609.89" stroke="#333" stroke-width="0.55" />
<rect x="363.33" y="613.22" width="5.55" height="17.98" fill="#8410f4" />
<line x1="366.11" y1="610.66" x2="366.11" y2="615.79" stroke="#333" stroke-width="0.55" />
<line x1="363.91" y1="610.66" x2="368.31" y2="610.66" stroke="#333" stroke-width="0.55" />
<line x1="363.91" y1="615.79" x2="368.31" y2="615.79" stroke="#333" stroke-width="0.55" />
<rect x="368.88" y="611.94" width="5.55" height="19.26" fill="#fc0c12" />
<line x1="371.65" y1="611.17" x2="371.65" y2="612.71" stroke="#333" stroke-width="0.55" />
<line x1="369.45" y1="611.17" x2="373.85" y2="611.17" stroke="#333" stroke-width="0.55" />
<line x1="369.45" y1="612.71" x2="373.85" y2="612.71" stroke="#333" stroke-width="0.55" />
<rect x="380.16" y="554.16" width="5.55" height="77.04" fill="#058205" />
<line x1="382.93" y1="536.83" x2="382.93" y2="571.49" stroke="#333" stroke-width="0.55" />
<line x1="380.73" y1="536.83" x2="385.13" y2="536.83" stroke="#333" stroke-width="0.55" />
<line x1="380.73" y1="571.49" x2="385.13" y2="571.49" stroke="#333" stroke-width="0.55" />
<rect x="385.71" y="522.06" width="5.55" height="109.14" fill="#1c8cf8" />
<line x1="388.48" y1="520.78" x2="388.48" y2="523.34" stroke="#333" stroke-width="0.55" />
<line x1="386.28" y1="520.78" x2="390.68" y2="520.78" stroke="#333" stroke-width="0.55" />
<line x1="386.28" y1="523.34" x2="390.68" y2="523.34" stroke="#333" stroke-width="0.55" />
<rect x="391.26" y="506.65" width="5.55" height="124.55" fill="#8410f4" />
<line x1="394.03" y1="492.53" x2="394.03" y2="520.78" stroke="#333" stroke-width="0.55" />
<line x1="391.83" y1="492.53" x2="396.23" y2="492.53" stroke="#333" stroke-width="0.55" />
<line x1="391.83" y1="520.78" x2="396.23" y2="520.78" stroke="#333" stroke-width="0.55" />
<rect x="396.81" y="500.23" width="5.55" height="130.97" fill="#fc0c12" />
<line x1="399.58" y1="488.68" x2="399.58" y2="511.79" stroke="#333" stroke-width="0.55" />
<line x1="397.38" y1="488.68" x2="401.78" y2="488.68" stroke="#333" stroke-width="0.55" />
<line x1="397.38" y1="511.79" x2="401.78" y2="511.79" stroke="#333" stroke-width="0.55" />
<line x1="42" y1="437.9" x2="42" y2="632.2" stroke="#000" stroke-width="2" />
<line x1="41" y1="631.2" x2="405.8" y2="631.2" stroke="#000" stroke-width="2" />
<line x1="36.3" y1="631.2" x2="42" y2="631.2" stroke="#000" stroke-width="1.5" />
<text x="33.6" y="635.2" font-size="12.3" text-anchor="end" font-family="Liberation Serif, serif" font-weight="bold" >0</text>
<line x1="38.5" y1="599.1" x2="42" y2="599.1" stroke="#000" stroke-width="1.5" />
<line x1="36.3" y1="567" x2="42" y2="567" stroke="#000" stroke-width="1.5" />
<text x="33.6" y="571" font-size="12.3" text-anchor="end" font-family="Liberation Serif, serif" font-weight="bold" >5</text>
<line x1="38.5" y1="534.9" x2="42" y2="534.9" stroke="#000" stroke-width="1.5" />
<line x1="36.3" y1="502.8" x2="42" y2="502.8" stroke="#000" stroke-width="1.5" />
<text x="33.6" y="506.8" font-size="12.3" text-anchor="end" font-family="Liberation Serif, serif" font-weight="bold" >10</text>
<line x1="38.5" y1="470.7" x2="42" y2="470.7" stroke="#000" stroke-width="1.5" />
<line x1="36.3" y1="438.6" x2="42" y2="438.6" stroke="#000" stroke-width="1.5" />
<text x="33.6" y="442.6" font-size="12.3" text-anchor="end" font-family="Liberation Serif, serif" font-weight="bold" >15</text>
<line x1="55.8" y1="631.2" x2="55.8" y2="636.4" stroke="#000" stroke-width="1.5" />
<text x="56.8" y="653" font-size="13.5" text-anchor="end" font-family="Liberation Serif, serif" font-weight="bold" transform="rotate(-30 56.8 653)" >Blood</text>
<line x1="83.73" y1="631.2" x2="83.73" y2="636.4" stroke="#000" stroke-width="1.5" />
<text x="84.73" y="653" font-size="13.5" text-anchor="end" font-family="Liberation Serif, serif" font-weight="bold" transform="rotate(-30 84.73 653)" >Heart</text>
<line x1="111.66" y1="631.2" x2="111.66" y2="636.4" stroke="#000" stroke-width="1.5" />
<text x="112.66" y="653" font-size="13.5" text-anchor="end" font-family="Liberation Serif, serif" font-weight="bold" transform="rotate(-30 112.66 653)" >Liver</text>
<line x1="139.59" y1="631.2" x2="139.59" y2="636.4" stroke="#000" stroke-width="1.5" />
<text x="140.59" y="653" font-size="13.5" text-anchor="end" font-family="Liberation Serif, serif" font-weight="bold" transform="rotate(-30 140.59 653)" >Spleen</text>
<line x1="167.52" y1="631.2" x2="167.52" y2="636.4" stroke="#000" stroke-width="1.5" />
<text x="168.52" y="653" font-size="13.5" text-anchor="end" font-family="Liberation Serif, serif" font-weight="bold" transform="rotate(-30 168.52 653)" >Lung</text>
<line x1="195.45" y1="631.2" x2="195.45" y2="636.4" stroke="#000" stroke-width="1.5" />
<text x="196.45" y="653" font-size="13.5" text-anchor="end" font-family="Liberation Serif, serif" font-weight="bold" transform="rotate(-30 196.45 653)" >Kidney</text>
<line x1="223.38" y1="631.2" x2="223.38" y2="636.4" stroke="#000" stroke-width="1.5" />
<text x="224.38" y="653" font-size="13.5" text-anchor="end" font-family="Liberation Serif, serif" font-weight="bold" transform="rotate(-30 224.38 653)" >Stomach</text>
<line x1="251.31" y1="631.2" x2="251.31" y2="636.4" stroke="#000" stroke-width="1.5" />
<text x="252.31" y="653" font-size="13.5" text-anchor="end" font-family="Liberation Serif, serif" font-weight="bold" transform="rotate(-30 252.31 653)" >Intestine</text>
<line x1="279.24" y1="631.2" x2="279.24" y2="636.4" stroke="#000" stroke-width="1.5" />
<text x="280.24" y="653" font-size="13.5" text-anchor="end" font-family="Liberation Serif, serif" font-weight="bold" transform="rotate(-30 280.24 653)" >Thyroid</text>
<line x1="307.17" y1="631.2" x2="307.17" y2="636.4" stroke="#000" stroke-width="1.5" />
<text x="308.17" y="653" font-size="13.5" text-anchor="end" font-family="Liberation Serif, serif" font-weight="bold" transform="rotate(-30 308.17 653)" >Brain</text>
<line x1="335.1" y1="631.2" x2="335.1" y2="636.4" stroke="#000" stroke-width="1.5" />
<text x="336.1" y="653" font-size="13.5" text-anchor="end" font-family="Liberation Serif, serif" font-weight="bold" transform="rotate(-30 336.1 653)" >Bone</text>
<line x1="363.03" y1="631.2" x2="363.03" y2="636.4" stroke="#000" stroke-width="1.5" />
<text x="364.03" y="653" font-size="13.5" text-anchor="end" font-family="Liberation Serif, serif" font-weight="bold" transform="rotate(-30 364.03 653)" >Muscle</text>
<line x1="390.96" y1="631.2" x2="390.96" y2="636.4" stroke="#000" stroke-width="1.5" />
<text x="391.96" y="653" font-size="13.5" text-anchor="end" font-family="Liberation Serif, serif" font-weight="bold" transform="rotate(-30 391.96 653)" >Tumor</text>
<text x="20.8" y="537.1" font-size="13.7" text-anchor="middle" font-family="Liberation Serif, serif" font-weight="bold" transform="rotate(-90 20.8 537.1)" >%ID/g</text>
<rect x="284.3" y="445.1" width="84.3" height="82.2" fill="#fff" stroke="#777" stroke-width="0.7"/>
<rect x="290" y="449.3" width="36.7" height="17" fill="#008000" />
<text x="331" y="462.9" font-size="16" text-anchor="start" font-family="Liberation Serif, serif" >6 h</text>
<rect x="290" y="468.6" width="36.7" height="17" fill="#0a84ff" />
<text x="331" y="482.2" font-size="16" text-anchor="start" font-family="Liberation Serif, serif" >24 h</text>
<rect x="290" y="487.9" width="36.7" height="17" fill="#7f00ff" />
<text x="331" y="501.5" font-size="16" text-anchor="start" font-family="Liberation Serif, serif" >48 h</text>
<rect x="290" y="507.2" width="36.7" height="17" fill="#ff0000" />
<text x="331" y="520.8" font-size="16" text-anchor="start" font-family="Liberation Serif, serif" >72 h</text>
<line x1="466.4" y1="459.4" x2="466.4" y2="632.8" stroke="#000" stroke-width="1.4" />
<line x1="465.7" y1="632.2" x2="670.8" y2="632.2" stroke="#000" stroke-width="1.4" />
<line x1="461.2" y1="632.2" x2="466.4" y2="632.2" stroke="#000" stroke-width="1.2" />
<text x="459.6" y="635.9" font-size="10.6" text-anchor="end" font-family="Liberation Sans, sans-serif" font-weight="bold" textLength="5.3" lengthAdjust="spacingAndGlyphs">0</text>
<line x1="461.2" y1="614.98" x2="466.4" y2="614.98" stroke="#000" stroke-width="1.2" />
<text x="459.6" y="618.68" font-size="10.6" text-anchor="end" font-family="Liberation Sans, sans-serif" font-weight="bold" textLength="5.3" lengthAdjust="spacingAndGlyphs">5</text>
<line x1="461.2" y1="597.76" x2="466.4" y2="597.76" stroke="#000" stroke-width="1.2" />
<text x="459.6" y="601.46" font-size="10.6" text-anchor="end" font-family="Liberation Sans, sans-serif" font-weight="bold" textLength="10.6" lengthAdjust="spacingAndGlyphs">10</text>
<line x1="461.2" y1="580.54" x2="466.4" y2="580.54" stroke="#000" stroke-width="1.2" />
<text x="459.6" y="584.24" font-size="10.6" text-anchor="end" font-family="Liberation Sans, sans-serif" font-weight="bold" textLength="10.6" lengthAdjust="spacingAndGlyphs">15</text>
<line x1="461.2" y1="563.32" x2="466.4" y2="563.32" stroke="#000" stroke-width="1.2" />
<text x="459.6" y="567.02" font-size="10.6" text-anchor="end" font-family="Liberation Sans, sans-serif" font-weight="bold" textLength="10.6" lengthAdjust="spacingAndGlyphs">20</text>
<line x1="461.2" y1="546.1" x2="466.4" y2="546.1" stroke="#000" stroke-width="1.2" />
<text x="459.6" y="549.8" font-size="10.6" text-anchor="end" font-family="Liberation Sans, sans-serif" font-weight="bold" textLength="10.6" lengthAdjust="spacingAndGlyphs">25</text>
<line x1="461.2" y1="528.88" x2="466.4" y2="528.88" stroke="#000" stroke-width="1.2" />
<text x="459.6" y="532.58" font-size="10.6" text-anchor="end" font-family="Liberation Sans, sans-serif" font-weight="bold" textLength="10.6" lengthAdjust="spacingAndGlyphs">30</text>
<line x1="461.2" y1="511.66" x2="466.4" y2="511.66" stroke="#000" stroke-width="1.2" />
<text x="459.6" y="515.36" font-size="10.6" text-anchor="end" font-family="Liberation Sans, sans-serif" font-weight="bold" textLength="10.6" lengthAdjust="spacingAndGlyphs">35</text>
<line x1="461.2" y1="494.44" x2="466.4" y2="494.44" stroke="#000" stroke-width="1.2" />
<text x="459.6" y="498.14" font-size="10.6" text-anchor="end" font-family="Liberation Sans, sans-serif" font-weight="bold" textLength="10.6" lengthAdjust="spacingAndGlyphs">40</text>
<line x1="461.2" y1="477.22" x2="466.4" y2="477.22" stroke="#000" stroke-width="1.2" />
<text x="459.6" y="480.92" font-size="10.6" text-anchor="end" font-family="Liberation Sans, sans-serif" font-weight="bold" textLength="10.6" lengthAdjust="spacingAndGlyphs">45</text>
<line x1="461.2" y1="460" x2="466.4" y2="460" stroke="#000" stroke-width="1.2" />
<text x="459.6" y="463.7" font-size="10.6" text-anchor="end" font-family="Liberation Sans, sans-serif" font-weight="bold" textLength="10.6" lengthAdjust="spacingAndGlyphs">50</text>
<line x1="466.4" y1="632.2" x2="466.4" y2="636.8" stroke="#000" stroke-width="1.2" />
<text x="466.4" y="651.2" font-size="10.6" text-anchor="middle" font-family="Liberation Sans, sans-serif" font-weight="bold" textLength="5.3" lengthAdjust="spacingAndGlyphs">0</text>
<line x1="495.5" y1="632.2" x2="495.5" y2="636.8" stroke="#000" stroke-width="1.2" />
<text x="495.5" y="651.2" font-size="10.6" text-anchor="middle" font-family="Liberation Sans, sans-serif" font-weight="bold" textLength="5.3" lengthAdjust="spacingAndGlyphs">1</text>
<line x1="524.6" y1="632.2" x2="524.6" y2="636.8" stroke="#000" stroke-width="1.2" />
<text x="524.6" y="651.2" font-size="10.6" text-anchor="middle" font-family="Liberation Sans, sans-serif" font-weight="bold" textLength="5.3" lengthAdjust="spacingAndGlyphs">2</text>
<line x1="553.7" y1="632.2" x2="553.7" y2="636.8" stroke="#000" stroke-width="1.2" />
<text x="553.7" y="651.2" font-size="10.6" text-anchor="middle" font-family="Liberation Sans, sans-serif" font-weight="bold" textLength="5.3" lengthAdjust="spacingAndGlyphs">3</text>
<line x1="582.8" y1="632.2" x2="582.8" y2="636.8" stroke="#000" stroke-width="1.2" />
<text x="582.8" y="651.2" font-size="10.6" text-anchor="middle" font-family="Liberation Sans, sans-serif" font-weight="bold" textLength="5.3" lengthAdjust="spacingAndGlyphs">4</text>
<line x1="611.9" y1="632.2" x2="611.9" y2="636.8" stroke="#000" stroke-width="1.2" />
<text x="611.9" y="651.2" font-size="10.6" text-anchor="middle" font-family="Liberation Sans, sans-serif" font-weight="bold" textLength="5.3" lengthAdjust="spacingAndGlyphs">5</text>
<line x1="641" y1="632.2" x2="641" y2="636.8" stroke="#000" stroke-width="1.2" />
<text x="641" y="651.2" font-size="10.6" text-anchor="middle" font-family="Liberation Sans, sans-serif" font-weight="bold" textLength="5.3" lengthAdjust="spacingAndGlyphs">6</text>
<line x1="670.1" y1="632.2" x2="670.1" y2="636.8" stroke="#000" stroke-width="1.2" />
<text x="670.1" y="651.2" font-size="10.6" text-anchor="middle" font-family="Liberation Sans, sans-serif" font-weight="bold" textLength="5.3" lengthAdjust="spacingAndGlyphs">7</text>
<line x1="466.98" y1="522.68" x2="466.98" y2="565.39" stroke="#fa1c22" stroke-width="0.8" opacity="0.85"/>
<line x1="464.18" y1="522.68" x2="469.78" y2="522.68" stroke="#fa1c22" stroke-width="0.8" opacity="0.85"/>
<line x1="464.18" y1="565.39" x2="469.78" y2="565.39" stroke="#fa1c22" stroke-width="0.8" opacity="0.85"/>
<line x1="467.71" y1="530.95" x2="467.71" y2="573.65" stroke="#fa1c22" stroke-width="0.8" opacity="0.85"/>
<line x1="464.91" y1="530.95" x2="470.51" y2="530.95" stroke="#fa1c22" stroke-width="0.8" opacity="0.85"/>
<line x1="464.91" y1="573.65" x2="470.51" y2="573.65" stroke="#fa1c22" stroke-width="0.8" opacity="0.85"/>
<line x1="468.87" y1="561.94" x2="468.87" y2="583.98" stroke="#fa1c22" stroke-width="0.8" opacity="0.85"/>
<line x1="466.07" y1="561.94" x2="471.67" y2="561.94" stroke="#fa1c22" stroke-width="0.8" opacity="0.85"/>
<line x1="466.07" y1="583.98" x2="471.67" y2="583.98" stroke="#fa1c22" stroke-width="0.8" opacity="0.85"/>
<line x1="471.35" y1="571.93" x2="471.35" y2="587.08" stroke="#fa1c22" stroke-width="0.8" opacity="0.85"/>
<line x1="468.55" y1="571.93" x2="474.15" y2="571.93" stroke="#fa1c22" stroke-width="0.8" opacity="0.85"/>
<line x1="468.55" y1="587.08" x2="474.15" y2="587.08" stroke="#fa1c22" stroke-width="0.8" opacity="0.85"/>
<line x1="473.67" y1="583.64" x2="473.67" y2="594.66" stroke="#fa1c22" stroke-width="0.8" opacity="0.85"/>
<line x1="470.87" y1="583.64" x2="476.47" y2="583.64" stroke="#fa1c22" stroke-width="0.8" opacity="0.85"/>
<line x1="470.87" y1="594.66" x2="476.47" y2="594.66" stroke="#fa1c22" stroke-width="0.8" opacity="0.85"/>
<line x1="495.5" y1="595" x2="495.5" y2="610.85" stroke="#fa1c22" stroke-width="0.8" opacity="0.85"/>
<line x1="492.7" y1="595" x2="498.3" y2="595" stroke="#fa1c22" stroke-width="0.8" opacity="0.85"/>
<line x1="492.7" y1="610.85" x2="498.3" y2="610.85" stroke="#fa1c22" stroke-width="0.8" opacity="0.85"/>
<line x1="524.6" y1="597.76" x2="524.6" y2="611.54" stroke="#fa1c22" stroke-width="0.8" opacity="0.85"/>
<line x1="521.8" y1="597.76" x2="527.4" y2="597.76" stroke="#fa1c22" stroke-width="0.8" opacity="0.85"/>
<line x1="521.8" y1="611.54" x2="527.4" y2="611.54" stroke="#fa1c22" stroke-width="0.8" opacity="0.85"/>
<line x1="553.7" y1="607.06" x2="553.7" y2="610.5" stroke="#fa1c22" stroke-width="0.8" opacity="0.85"/>
<line x1="550.9" y1="607.06" x2="556.5" y2="607.06" stroke="#fa1c22" stroke-width="0.8" opacity="0.85"/>
<line x1="550.9" y1="610.5" x2="556.5" y2="610.5" stroke="#fa1c22" stroke-width="0.8" opacity="0.85"/>
<line x1="582.8" y1="608.78" x2="582.8" y2="616.36" stroke="#fa1c22" stroke-width="0.8" opacity="0.85"/>
<line x1="580" y1="608.78" x2="585.6" y2="608.78" stroke="#fa1c22" stroke-width="0.8" opacity="0.85"/>
<line x1="580" y1="616.36" x2="585.6" y2="616.36" stroke="#fa1c22" stroke-width="0.8" opacity="0.85"/>
<line x1="611.9" y1="611.88" x2="611.9" y2="616.01" stroke="#fa1c22" stroke-width="0.8" opacity="0.85"/>
<line x1="609.1" y1="611.88" x2="614.7" y2="611.88" stroke="#fa1c22" stroke-width="0.8" opacity="0.85"/>
<line x1="609.1" y1="616.01" x2="614.7" y2="616.01" stroke="#fa1c22" stroke-width="0.8" opacity="0.85"/>
<line x1="641" y1="612.91" x2="641" y2="619.8" stroke="#fa1c22" stroke-width="0.8" opacity="0.85"/>
<line x1="638.2" y1="612.91" x2="643.8" y2="612.91" stroke="#fa1c22" stroke-width="0.8" opacity="0.85"/>
<line x1="638.2" y1="619.8" x2="643.8" y2="619.8" stroke="#fa1c22" stroke-width="0.8" opacity="0.85"/>
<line x1="670.1" y1="618.08" x2="670.1" y2="621.52" stroke="#fa1c22" stroke-width="0.8" opacity="0.85"/>
<line x1="667.3" y1="618.08" x2="672.9" y2="618.08" stroke="#fa1c22" stroke-width="0.8" opacity="0.85"/>
<line x1="667.3" y1="621.52" x2="672.9" y2="621.52" stroke="#fa1c22" stroke-width="0.8" opacity="0.85"/>
<path d="M466.4 528.19 L466.4 528.21 L466.4 528.29 L466.41 528.44 L466.42 528.66 L466.43 528.96 L466.45 529.34 L466.47 529.8 L466.5 530.34 L466.52 530.96 L466.56 531.66 L466.59 532.44 L466.63 533.3 L466.68 534.24 L466.73 535.26 L466.78 536.34 L466.84 537.49 L466.9 538.71 L466.97 539.99 L467.04 541.32 L467.12 542.7 L467.2 544.14 L467.29 545.61 L467.38 547.12 L467.48 548.66 L467.58 550.22 L467.69 551.81 L467.8 553.41 L467.91 555.02 L468.03 556.63 L468.16 558.24 L468.29 559.85 L468.43 561.44 L468.57 563.03 L468.72 564.59 L468.87 566.12 L469.03 567.63 L469.19 569.11 L469.36 570.56 L469.54 571.97 L469.72 573.33 L469.9 574.66 L470.09 575.94 L470.29 577.18 L470.49 578.37 L470.7 579.51 L470.91 580.61 L471.13 581.66 L471.35 582.65 L471.58 583.6 L471.82 584.51 L472.06 585.36 L472.31 586.17 L472.56 586.93 L472.82 587.65 L473.08 588.33 L473.35 588.96 L473.63 589.56 L473.91 590.12 L474.2 590.64 L474.49 591.13 L474.79 591.58 L475.1 592 L475.41 592.39 L475.72 592.76 L476.05 593.1 L476.38 593.42 L476.71 593.71 L477.06 593.98 L477.4 594.24 L477.76 594.47 L478.12 594.69 L478.48 594.9 L478.86 595.09 L479.23 595.27 L479.62 595.44 L480.01 595.6 L480.41 595.75 L480.81 595.89 L481.22 596.03 L481.64 596.16 L482.06 596.28 L482.49 596.4 L482.92 596.51 L483.36 596.63 L483.81 596.73 L484.26 596.84 L484.72 596.94 L485.19 597.04 L485.66 597.14 L486.14 597.24 L486.63 597.34 L487.12 597.44 L487.62 597.53 L488.12 597.63 L488.64 597.72 L489.15 597.82 L489.68 597.92 L490.21 598.01 L490.75 598.11 L491.29 598.21 L491.84 598.3 L492.4 598.4 L492.96 598.5 L493.53 598.6 L494.11 598.7 L494.7 598.8 L495.29 598.9 L495.88 599 L496.49 599.1 L497.1 599.21 L497.72 599.31 L498.34 599.41 L498.97 599.52 L499.61 599.63 L500.25 599.73 L500.9 599.84 L501.56 599.95 L502.23 600.06 L502.9 600.17 L503.57 600.28 L504.26 600.39 L504.95 600.5 L505.65 600.61 L506.36 600.73 L507.07 600.84 L507.79 600.96 L508.51 601.07 L509.25 601.19 L509.99 601.3 L510.73 601.42 L511.49 601.54 L512.25 601.66 L513.01 601.78 L513.79 601.9 L514.57 602.02 L515.36 602.14 L516.15 602.26 L516.96 602.38 L517.77 602.5 L518.58 602.63 L519.41 602.75 L520.24 602.87 L521.08 603 L521.92 603.12 L522.77 603.25 L523.63 603.38 L524.5 603.5 L525.37 603.63 L526.25 603.76 L527.14 603.89 L528.03 604.02 L528.93 604.14 L529.84 604.27 L530.76 604.4 L531.68 604.53 L532.61 604.66 L533.55 604.8 L534.49 604.93 L535.44 605.06 L536.4 605.19 L537.37 605.32 L538.34 605.46 L539.32 605.59 L540.31 605.72 L541.31 605.86 L542.31 605.99 L543.32 606.13 L544.33 606.26 L545.36 606.4 L546.39 606.53 L547.43 606.67 L548.48 606.8 L549.53 606.94 L550.59 607.07 L551.66 607.21 L552.73 607.35 L553.82 607.48 L554.91 607.62 L556 607.76 L557.11 607.89 L558.22 608.03 L559.34 608.17 L560.47 608.31 L561.6 608.44 L562.74 608.58 L563.89 608.72 L565.05 608.86 L566.22 608.99 L567.39 609.13 L568.57 609.27 L569.75 609.41 L570.95 609.55 L572.15 609.69 L573.36 609.82 L574.57 609.96 L575.8 610.1 L577.03 610.24 L578.27 610.38 L579.52 610.51 L580.77 610.65 L582.03 610.79 L583.3 610.93 L584.58 611.07 L585.86 611.2 L587.16 611.34 L588.46 611.48 L589.76 611.62 L591.08 611.75 L592.4 611.89 L593.73 612.03 L595.07 612.16 L596.41 612.3 L597.77 612.44 L599.13 612.57 L600.5 612.71 L601.87 612.85 L603.26 612.98 L604.65 613.12 L606.05 613.25 L607.45 613.39 L608.87 613.52 L610.29 613.66 L611.72 613.79 L613.16 613.93 L614.6 614.06 L616.05 614.19 L617.51 614.33 L618.98 614.46 L620.46 614.59 L621.94 614.73 L623.43 614.86 L624.93 614.99 L626.44 615.12 L627.96 615.25 L629.48 615.38 L631.01 615.51 L632.55 615.65 L634.09 615.77 L635.65 615.9 L637.21 616.03 L638.78 616.16 L640.36 616.29 L641.94 616.42 L643.54 616.55 L645.14 616.67 L646.75 616.8 L648.36 616.93 L649.99 617.05 L651.62 617.18 L653.26 617.3 L654.91 617.43 L656.57 617.55 L658.23 617.67 L659.9 617.8 L661.58 617.92 L663.27 618.04 L664.96 618.16 L666.67 618.28 L668.38 618.41 L670.1 618.53" fill="none" stroke="#fa1c22" stroke-width="2.4" stroke-linejoin="round" stroke-linecap="round"/>
<circle cx="466.98" cy="544.03" r="2.9" fill="#fa1c22" opacity="0.9"/>
<circle cx="467.71" cy="552.3" r="2.9" fill="#fa1c22" opacity="0.9"/>
<circle cx="468.87" cy="572.96" r="2.9" fill="#fa1c22" opacity="0.9"/>
<circle cx="471.35" cy="579.51" r="2.9" fill="#fa1c22" opacity="0.9"/>
<circle cx="473.67" cy="589.15" r="2.9" fill="#fa1c22" opacity="0.9"/>
<circle cx="495.5" cy="602.93" r="2.9" fill="#fa1c22" opacity="0.9"/>
<circle cx="524.6" cy="604.65" r="2.9" fill="#fa1c22" opacity="0.9"/>
<circle cx="553.7" cy="608.78" r="2.9" fill="#fa1c22" opacity="0.9"/>
<circle cx="582.8" cy="612.57" r="2.9" fill="#fa1c22" opacity="0.9"/>
<circle cx="611.9" cy="613.95" r="2.9" fill="#fa1c22" opacity="0.9"/>
<circle cx="641" cy="616.36" r="2.9" fill="#fa1c22" opacity="0.9"/>
<circle cx="670.1" cy="619.8" r="2.9" fill="#fa1c22" opacity="0.9"/>
<text x="569.4" y="672.6" font-size="13" text-anchor="middle" font-family="Liberation Serif, serif" font-weight="bold" >Time (d)</text>
<text x="441" y="544.6" font-size="13.5" text-anchor="middle" font-family="Liberation Serif, serif" font-weight="bold" transform="rotate(-90 441 544.6)" >%ID/g</text>
</svg>
</body>
</html>
